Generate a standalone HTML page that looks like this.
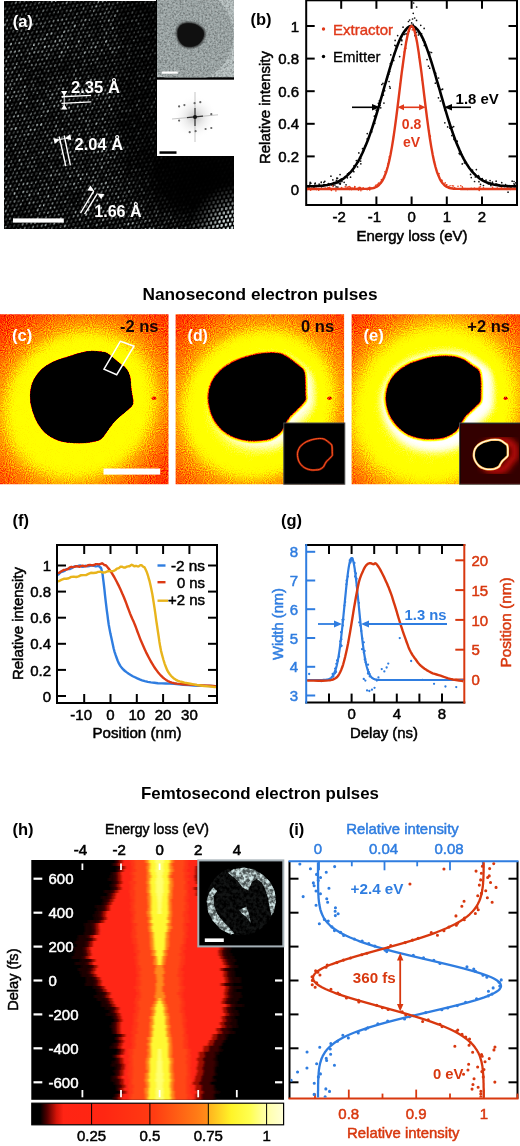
<!DOCTYPE html>
<html><head><meta charset="utf-8"><title>Figure</title>
<style>
html,body{margin:0;padding:0;background:#fff;}
svg{display:block;position:absolute;left:0;top:0;font-family:"Liberation Sans", sans-serif;}
</style></head><body>
<svg width="520" height="1146" viewBox="0 0 520 1146">
<defs>
<pattern id="lat" width="4.3" height="8" patternUnits="userSpaceOnUse" patternTransform="rotate(-9) skewX(-10)">
<rect width="4.3" height="8" fill="#040404"/>
<ellipse cx="1.1" cy="1.3" rx="0.95" ry="1.45" fill="#c0cccc" transform="rotate(25 1.1 1.3)"/>
<ellipse cx="3.25" cy="5.3" rx="0.95" ry="1.45" fill="#c0cccc" transform="rotate(25 3.25 5.3)"/>
</pattern>
<pattern id="lat2" width="4.3" height="8" patternUnits="userSpaceOnUse" patternTransform="rotate(-9) skewX(-10)">
<ellipse cx="1.1" cy="1.3" rx="1.35" ry="1.5" fill="#e8f4f4"/>
<ellipse cx="3.25" cy="5.3" rx="1.35" ry="1.5" fill="#e8f4f4"/>
</pattern>
<clipPath id="clipA"><rect x="4" y="1" width="230" height="228"/></clipPath>
<filter id="modA" x="0" y="0" width="100%" height="100%" color-interpolation-filters="sRGB">
<feTurbulence type="fractalNoise" baseFrequency="0.035" numOctaves="2" seed="5" result="n"/>
<feColorMatrix in="n" type="matrix" values="0 0 0 0 0  0 0 0 0 0  0 0 0 0 0  1.6 0 0 0 -0.45"/>
</filter>
<filter id="fineA" x="0" y="0" width="100%" height="100%" color-interpolation-filters="sRGB">
<feTurbulence type="fractalNoise" baseFrequency="0.22" numOctaves="2" seed="2" result="n"/>
<feColorMatrix in="n" type="matrix" values="0 0 0 0 0  0 0 0 0 0  0 0 0 0 0  0 3.4 0 0 -0.95"/>
</filter>
<radialGradient id="darkA" cx="203" cy="176" r="72" gradientUnits="userSpaceOnUse" gradientTransform="translate(203 176) scale(1.15 0.8) translate(-203 -176)">
<stop offset="0" stop-color="#000" stop-opacity="1"/><stop offset="0.55" stop-color="#000" stop-opacity="0.92"/><stop offset="1" stop-color="#000" stop-opacity="0"/>
</radialGradient>
<radialGradient id="brA" cx="238" cy="233" r="50" gradientUnits="userSpaceOnUse">
<stop offset="0" stop-color="#fff" stop-opacity="1"/><stop offset="0.4" stop-color="#fff" stop-opacity="0.85"/><stop offset="0.7" stop-color="#fff" stop-opacity="0.3"/><stop offset="1" stop-color="#fff" stop-opacity="0"/>
</radialGradient>
<mask id="mBrA"><rect x="150" y="150" width="90" height="90" fill="url(#brA)"/></mask>
<filter id="tem" x="0" y="0" width="100%" height="100%" color-interpolation-filters="sRGB">
<feTurbulence type="fractalNoise" baseFrequency="0.55" numOctaves="2" seed="11" result="n"/>
<feColorMatrix in="n" type="matrix" values="0 0 0 0 0  0 0 0 0 0  0 0 0 0 0  0 2.2 0 0 -0.85"/>
</filter>
<filter id="tem2" x="0" y="0" width="100%" height="100%" color-interpolation-filters="sRGB">
<feTurbulence type="fractalNoise" baseFrequency="0.5" numOctaves="2" seed="23" result="n"/>
<feColorMatrix in="n" type="matrix" values="0 0 0 0 1  0 0 0 0 1  0 0 0 0 1  0 2.2 0 0 -0.85"/>
</filter>
<clipPath id="clipT"><rect x="157" y="0" width="77" height="77.5"/></clipPath>
<filter id="blur1"><feGaussianBlur stdDeviation="0.8"/></filter>
<filter id="blur2"><feGaussianBlur stdDeviation="2"/></filter>
<radialGradient id="fftg" cx="195" cy="117" r="22" gradientUnits="userSpaceOnUse">
<stop offset="0" stop-color="#888" stop-opacity="0.55"/><stop offset="0.4" stop-color="#aaa" stop-opacity="0.25"/><stop offset="1" stop-color="#fff" stop-opacity="0"/>
</radialGradient>

<filter id="hot" x="0" y="0" width="100%" height="100%" color-interpolation-filters="sRGB">
<feTurbulence type="fractalNoise" baseFrequency="0.95" numOctaves="1" seed="4" result="n"/>
<feColorMatrix in="n" type="matrix" values="2.2 0 0 0 -0.6  2.2 0 0 0 -0.6  2.2 0 0 0 -0.6  0 0 0 0 1" result="ng"/>
<feComposite in="SourceGraphic" in2="ng" operator="arithmetic" k1="-0.46" k2="1.23" k3="0.46" k4="-0.23" result="s"/>
<feComponentTransfer in="s">
<feFuncR type="table" tableValues="0.000 0.147 0.294 0.441 0.588 0.735 0.882 1.000 1.000 1.000 1.000 1.000 1.000 1.000 1.000 1.000 1.000 1.000 1.000 1.000 1.000"/>
<feFuncG type="table" tableValues="0.000 0.000 0.000 0.000 0.000 0.000 0.000 0.000 0.135 0.270 0.405 0.541 0.676 0.811 0.946 1.000 1.000 1.000 1.000 1.000 1.000"/>
<feFuncB type="table" tableValues="0.000 0.000 0.000 0.000 0.000 0.000 0.000 0.000 0.000 0.000 0.000 0.000 0.000 0.000 0.000 0.000 0.000 0.000 0.286 0.643 1.000"/>
</feComponentTransfer>
</filter>
<filter id="bl3"><feGaussianBlur stdDeviation="3"/></filter>
<filter id="bl4" x="-30%" y="-30%" width="160%" height="160%"><feGaussianBlur stdDeviation="3.8"/></filter>
<filter id="bl15"><feGaussianBlur stdDeviation="1.3"/></filter>
<filter id="bl07"><feGaussianBlur stdDeviation="0.7"/></filter>
<filter id="bl04"><feGaussianBlur stdDeviation="0.45"/></filter>
<filter id="bl5" x="-30%" y="-30%" width="160%" height="160%"><feGaussianBlur stdDeviation="5"/></filter>

<radialGradient id="gc" cx="80" cy="405.2" r="140.0" gradientUnits="userSpaceOnUse" gradientTransform="rotate(-38 80 405.2) translate(80 405.2) scale(1.07 0.97) translate(-80 -405.2)"><stop offset="0.000" stop-color="#c4c4c4"/><stop offset="0.357" stop-color="#c4c4c4"/><stop offset="0.414" stop-color="#c3c3c3"/><stop offset="0.457" stop-color="#bdbdbd"/><stop offset="0.500" stop-color="#afafaf"/><stop offset="0.571" stop-color="#949494"/><stop offset="0.657" stop-color="#828282"/><stop offset="0.750" stop-color="#747474"/><stop offset="0.857" stop-color="#6a6a6a"/><stop offset="0.964" stop-color="#656565"/></radialGradient>
<clipPath id="cpc"><rect x="0" y="314.2" width="168.5" height="170"/></clipPath>
<radialGradient id="gd" cx="258.6" cy="404.2" r="140.0" gradientUnits="userSpaceOnUse" gradientTransform="rotate(-38 258.6 404.2) translate(258.6 404.2) scale(1.07 0.97) translate(-258.6 -404.2)"><stop offset="0.000" stop-color="#dbdbdb"/><stop offset="0.357" stop-color="#dbdbdb"/><stop offset="0.400" stop-color="#d1d1d1"/><stop offset="0.443" stop-color="#c6c6c6"/><stop offset="0.486" stop-color="#bababa"/><stop offset="0.529" stop-color="#a7a7a7"/><stop offset="0.571" stop-color="#969696"/><stop offset="0.657" stop-color="#858585"/><stop offset="0.757" stop-color="#777777"/><stop offset="0.857" stop-color="#6e6e6e"/><stop offset="0.986" stop-color="#676767"/></radialGradient>
<clipPath id="cpd"><rect x="175.6" y="314.2" width="168.5" height="170"/></clipPath>
<radialGradient id="ge" cx="434.6" cy="405.2" r="140.0" gradientUnits="userSpaceOnUse" gradientTransform="rotate(-38 434.6 405.2) translate(434.6 405.2) scale(1.07 0.97) translate(-434.6 -405.2)"><stop offset="0.000" stop-color="#dbdbdb"/><stop offset="0.357" stop-color="#dbdbdb"/><stop offset="0.414" stop-color="#d6d6d6"/><stop offset="0.457" stop-color="#cccccc"/><stop offset="0.514" stop-color="#bbbbbb"/><stop offset="0.557" stop-color="#acacac"/><stop offset="0.600" stop-color="#9d9d9d"/><stop offset="0.679" stop-color="#888888"/><stop offset="0.786" stop-color="#787878"/><stop offset="0.893" stop-color="#6e6e6e"/><stop offset="1.000" stop-color="#676767"/></radialGradient>
<clipPath id="cpe"><rect x="351.6" y="314.2" width="168.4" height="170"/></clipPath>
<clipPath id="clipH"><rect x="31.3" y="860" width="252.7" height="239.8"/></clipPath>
<filter id="hblur" x="-5%" y="-5%" width="110%" height="110%"><feGaussianBlur stdDeviation="1.0 0.45"/></filter>
<filter id="part" x="0" y="0" width="100%" height="100%" color-interpolation-filters="sRGB">
<feTurbulence type="fractalNoise" baseFrequency="0.3" numOctaves="2" seed="8" result="n"/>
<feColorMatrix in="n" type="matrix" values="0 0 0 0 0.82  0 0 0 0 0.9  0 0 0 0 0.9  0 3.0 0 0 -1.0"/>
</filter>
<clipPath id="clipP"><path d="M228 872.7 L233.2 869.2 L244.5 867.5 L254.8 870.1 L263.5 875.3 L270.4 882.2 L274.7 890.9 L276 901.3 L273.9 911.7 L271.5 915.5 L269.7 908.2 L268 897.8 L265.2 889.2 L261.8 882.6 L256.6 878.8 L251.7 882.2 L248.3 890.5 L242.7 887.4 L237.5 880.5 L232.3 876.2 Z M213.3 887.4 L209 892.6 L206.7 901.3 L208.1 911.7 L212.4 920.3 L220.2 929 L230.6 934.5 L234.4 933.5 L228.9 927.2 L222 920.3 L217.1 913.4 L213.7 904.7 L213.7 896.1 L217.1 890.9 Z M239.3 909.9 L246.2 906.5 L248.8 913.4 L250.7 923.1 L246.2 916.8 L241.9 913.4 Z"/></clipPath>
<clipPath id="clipDisc"><circle cx="240.8" cy="900.8" r="34.5"/></clipPath>
<linearGradient id="cbg" x1="31.8" x2="283.6" y1="0" y2="0" gradientUnits="userSpaceOnUse"><stop offset="0.0056" stop-color="#000"/><stop offset="0.0333" stop-color="#000"/><stop offset="0.0611" stop-color="#500"/><stop offset="0.0981" stop-color="#d41408"/><stop offset="0.1258" stop-color="#ff2414"/><stop offset="0.2831" stop-color="#ff2612"/><stop offset="0.4866" stop-color="#ff3c12"/><stop offset="0.6531" stop-color="#ff7a16"/><stop offset="0.6947" stop-color="#ff8c18"/><stop offset="0.7040" stop-color="#ffb41e"/><stop offset="0.7919" stop-color="#fff428"/><stop offset="0.8659" stop-color="#ffff50"/><stop offset="0.9214" stop-color="#ffffa0"/><stop offset="1.0000" stop-color="#ffffd8"/></linearGradient>
</defs>
<g id="panelA"><g clip-path="url(#clipA)">
<rect x="4" y="1" width="230" height="228" fill="url(#lat)"/>
<rect x="4" y="1" width="230" height="228" fill="#000" filter="url(#modA)" opacity="0.55"/>
<rect x="4" y="1" width="230" height="228" fill="#000" filter="url(#fineA)" opacity="0.7"/>
<rect x="110" y="90" width="130" height="140" fill="url(#darkA)"/>
<rect x="118" y="-5" width="42" height="170" fill="#000" opacity="0.5" filter="url(#bl5)"/>
<rect x="150" y="150" width="90" height="90" fill="url(#lat2)" mask="url(#mBrA)"/>
</g>
<rect x="156" y="0" width="78" height="156.5" fill="#000"/>
<g clip-path="url(#clipT)">
<rect x="157" y="0" width="77" height="77.5" fill="#b8c2c2"/>
<circle cx="186" cy="35" r="47.5" fill="#9ca6a6"/>
<rect x="157" y="0" width="77" height="77.5" fill="#000" filter="url(#tem)" opacity="0.32"/>
<rect x="157" y="0" width="77" height="77.5" filter="url(#tem2)" opacity="0.28"/>
<path d="M176.5 33 C176.5 26 181 22.3 187 22.3 C193 22 198 23.5 201.5 27 C205.5 30 206 35 203.5 39.5 C201 45 196 48 189 47.8 C181 47.5 176.5 41 176.5 33 Z" fill="#141414" filter="url(#blur1)"/>
<path d="M177.5 33 C177.5 27 181.5 23.3 187 23.3 C193 23 197.5 24.5 200.5 27.5 C204.5 30.5 205 35 202.5 39 C200 44 196 47 189 46.8 C182 46.5 177.5 41 177.5 33 Z" fill="#101010"/>
<rect x="161.8" y="71.5" width="16" height="2.2" fill="#fff"/>
</g>
<rect x="157" y="79.7" width="77" height="76.3" fill="#fff"/>
<circle cx="195" cy="117" r="22" fill="url(#fftg)"/>
<g stroke="#999" stroke-width="0.7" opacity="0.8"><line x1="195" y1="92" x2="195" y2="142"/><line x1="172" y1="119" x2="218" y2="114.8"/></g>
<g stroke="#333" stroke-width="1.2"><line x1="195" y1="108" x2="195" y2="126"/><line x1="187" y1="117.6" x2="203" y2="116.2"/></g>
<circle cx="195" cy="116.9" r="2" fill="#111"/>
<path d="M178 106.4a1.1 1.1 0 1 0 2.2 0a1.1 1.1 0 1 0 -2.2 0M183.3 105.1a1.1 1.1 0 1 0 2.2 0a1.1 1.1 0 1 0 -2.2 0M193.5 103.2a1.1 1.1 0 1 0 2.2 0a1.1 1.1 0 1 0 -2.2 0M199.2 102.2a1.1 1.1 0 1 0 2.2 0a1.1 1.1 0 1 0 -2.2 0M210.2 114.2a1.1 1.1 0 1 0 2.2 0a1.1 1.1 0 1 0 -2.2 0M178 120.6a1.1 1.1 0 1 0 2.2 0a1.1 1.1 0 1 0 -2.2 0M188.6 132.2a1.1 1.1 0 1 0 2.2 0a1.1 1.1 0 1 0 -2.2 0M194.5 131.2a1.1 1.1 0 1 0 2.2 0a1.1 1.1 0 1 0 -2.2 0M204.5 129a1.1 1.1 0 1 0 2.2 0a1.1 1.1 0 1 0 -2.2 0M210.2 128a1.1 1.1 0 1 0 2.2 0a1.1 1.1 0 1 0 -2.2 0" fill="#666"/>
<rect x="159.5" y="151.3" width="17" height="2.5" fill="#000"/>
<text x="12.7" y="27.3" font-size="16.5" text-anchor="start" fill="#fff" font-weight="bold" >(a)</text>
<g stroke="#fff" stroke-width="1.4" fill="#fff">
<line x1="61.5" y1="96.7" x2="91" y2="95.4"/><line x1="61.5" y1="103.4" x2="91.3" y2="101.9"/>
<line x1="64.2" y1="93" x2="64.2" y2="108" stroke-width="1"/>
<line x1="59.2" y1="136.5" x2="65.8" y2="166.2"/><line x1="64.2" y1="135.5" x2="70.4" y2="165.3"/>
<line x1="59.9" y1="139.5" x2="64.9" y2="138.6" stroke-width="1"/>
<line x1="93.8" y1="190.8" x2="80.5" y2="213.1"/><line x1="97.4" y1="193.5" x2="84.6" y2="214.2"/>
</g>
<path d="M64.2 96 L61 91 L67.4 91 Z" fill="#fff"/>
<path d="M64.2 104.4 L67.4 109.4 L61 109.4 Z" fill="#fff"/>
<path d="M60.1 139.5 L54.7 143.8 L53.4 137.9 Z" fill="#fff"/>
<path d="M64.7 138.6 L70.1 134.3 L71.4 140.2 Z" fill="#fff"/>
<path d="M94.2 191.1 L87.3 190.5 L90.4 185.4 Z" fill="#fff"/>
<path d="M97.4 193.5 L104.3 194.1 L101.2 199.2 Z" fill="#fff"/>
<text x="71" y="93" font-size="16.5" text-anchor="start" fill="#fff" font-weight="bold" textLength="49" lengthAdjust="spacingAndGlyphs" >2.35 Å</text>
<text x="74.6" y="149.6" font-size="16.5" text-anchor="start" fill="#fff" font-weight="bold" textLength="48.5" lengthAdjust="spacingAndGlyphs" >2.04 Å</text>
<text x="94.2" y="216.5" font-size="16.5" text-anchor="start" fill="#fff" font-weight="bold" textLength="47.5" lengthAdjust="spacingAndGlyphs" >1.66 Å</text>
<rect x="13" y="218.4" width="50.8" height="4.2" fill="#fff"/></g>
<g id="panelB"><rect x="306.2" y="0.3" width="210.8" height="204.7" fill="none" stroke="#000" stroke-width="2"/>
<line x1="341.2" y1="205" x2="341.2" y2="196.5" stroke="#000" stroke-width="2" />
<line x1="341.2" y1="0.3" x2="341.2" y2="8.8" stroke="#000" stroke-width="2" />
<line x1="376.4" y1="205" x2="376.4" y2="196.5" stroke="#000" stroke-width="2" />
<line x1="376.4" y1="0.3" x2="376.4" y2="8.8" stroke="#000" stroke-width="2" />
<line x1="411.6" y1="205" x2="411.6" y2="196.5" stroke="#000" stroke-width="2" />
<line x1="411.6" y1="0.3" x2="411.6" y2="8.8" stroke="#000" stroke-width="2" />
<line x1="446.8" y1="205" x2="446.8" y2="196.5" stroke="#000" stroke-width="2" />
<line x1="446.8" y1="0.3" x2="446.8" y2="8.8" stroke="#000" stroke-width="2" />
<line x1="482" y1="205" x2="482" y2="196.5" stroke="#000" stroke-width="2" />
<line x1="482" y1="0.3" x2="482" y2="8.8" stroke="#000" stroke-width="2" />
<line x1="306.2" y1="189" x2="314.7" y2="189" stroke="#000" stroke-width="2" />
<line x1="517" y1="189" x2="508.5" y2="189" stroke="#000" stroke-width="2" />
<text x="299" y="194.6" font-size="15" text-anchor="end" fill="#000" stroke="#000" stroke-width="0.5" >0</text>
<line x1="306.2" y1="156.4" x2="314.7" y2="156.4" stroke="#000" stroke-width="2" />
<line x1="517" y1="156.4" x2="508.5" y2="156.4" stroke="#000" stroke-width="2" />
<text x="299" y="162" font-size="15" text-anchor="end" fill="#000" stroke="#000" stroke-width="0.5" >0.2</text>
<line x1="306.2" y1="123.8" x2="314.7" y2="123.8" stroke="#000" stroke-width="2" />
<line x1="517" y1="123.8" x2="508.5" y2="123.8" stroke="#000" stroke-width="2" />
<text x="299" y="129.4" font-size="15" text-anchor="end" fill="#000" stroke="#000" stroke-width="0.5" >0.4</text>
<line x1="306.2" y1="91.2" x2="314.7" y2="91.2" stroke="#000" stroke-width="2" />
<line x1="517" y1="91.2" x2="508.5" y2="91.2" stroke="#000" stroke-width="2" />
<text x="299" y="96.8" font-size="15" text-anchor="end" fill="#000" stroke="#000" stroke-width="0.5" >0.6</text>
<line x1="306.2" y1="58.6" x2="314.7" y2="58.6" stroke="#000" stroke-width="2" />
<line x1="517" y1="58.6" x2="508.5" y2="58.6" stroke="#000" stroke-width="2" />
<text x="299" y="64.2" font-size="15" text-anchor="end" fill="#000" stroke="#000" stroke-width="0.5" >0.8</text>
<line x1="306.2" y1="26" x2="314.7" y2="26" stroke="#000" stroke-width="2" />
<line x1="517" y1="26" x2="508.5" y2="26" stroke="#000" stroke-width="2" />
<text x="299" y="31.6" font-size="15" text-anchor="end" fill="#000" stroke="#000" stroke-width="0.5" >1</text>
<text x="339.2" y="222.3" font-size="15" text-anchor="middle" fill="#000" stroke="#000" stroke-width="0.5" >-2</text>
<text x="374.4" y="222.3" font-size="15" text-anchor="middle" fill="#000" stroke="#000" stroke-width="0.5" >-1</text>
<text x="411.6" y="222.3" font-size="15" text-anchor="middle" fill="#000" stroke="#000" stroke-width="0.5" >0</text>
<text x="446.8" y="222.3" font-size="15" text-anchor="middle" fill="#000" stroke="#000" stroke-width="0.5" >1</text>
<text x="482" y="222.3" font-size="15" text-anchor="middle" fill="#000" stroke="#000" stroke-width="0.5" >2</text>
<text x="412" y="241" font-size="15" text-anchor="middle" fill="#000" stroke="#000" stroke-width="0.5" textLength="111" lengthAdjust="spacingAndGlyphs" >Energy loss (eV)</text>
<text x="269.5" y="164" font-size="15" text-anchor="start" fill="#000" stroke="#000" stroke-width="0.5" transform="rotate(-90 269.5 164)" textLength="113" lengthAdjust="spacingAndGlyphs" >Relative intensity</text>
<text x="250.5" y="25" font-size="16.5" text-anchor="start" fill="#000" font-weight="bold" >(b)</text>
<clipPath id="clipB"><rect x="307" y="1" width="209" height="203"/></clipPath><g clip-path="url(#clipB)">
<path d="M373.5 116.2a0.85 0.85 0 1 0 1.7 0a0.85 0.85 0 1 0 -1.7 0M320.4 182.5a0.85 0.85 0 1 0 1.7 0a0.85 0.85 0 1 0 -1.7 0M418.3 33.6a0.85 0.85 0 1 0 1.7 0a0.85 0.85 0 1 0 -1.7 0M412.3 24.3a0.85 0.85 0 1 0 1.7 0a0.85 0.85 0 1 0 -1.7 0M313.1 187.2a0.85 0.85 0 1 0 1.7 0a0.85 0.85 0 1 0 -1.7 0M324.3 184.8a0.85 0.85 0 1 0 1.7 0a0.85 0.85 0 1 0 -1.7 0M394.8 48.6a0.85 0.85 0 1 0 1.7 0a0.85 0.85 0 1 0 -1.7 0M352.3 170.7a0.85 0.85 0 1 0 1.7 0a0.85 0.85 0 1 0 -1.7 0M437.7 78a0.85 0.85 0 1 0 1.7 0a0.85 0.85 0 1 0 -1.7 0M388.9 71.5a0.85 0.85 0 1 0 1.7 0a0.85 0.85 0 1 0 -1.7 0M511.3 181.2a0.85 0.85 0 1 0 1.7 0a0.85 0.85 0 1 0 -1.7 0M366.3 138.9a0.85 0.85 0 1 0 1.7 0a0.85 0.85 0 1 0 -1.7 0M335.6 180.4a0.85 0.85 0 1 0 1.7 0a0.85 0.85 0 1 0 -1.7 0M477.5 175.6a0.85 0.85 0 1 0 1.7 0a0.85 0.85 0 1 0 -1.7 0M343.3 182.3a0.85 0.85 0 1 0 1.7 0a0.85 0.85 0 1 0 -1.7 0M383.8 90.7a0.85 0.85 0 1 0 1.7 0a0.85 0.85 0 1 0 -1.7 0M420.8 33.8a0.85 0.85 0 1 0 1.7 0a0.85 0.85 0 1 0 -1.7 0M348.6 172.8a0.85 0.85 0 1 0 1.7 0a0.85 0.85 0 1 0 -1.7 0M448.9 128.1a0.85 0.85 0 1 0 1.7 0a0.85 0.85 0 1 0 -1.7 0M428.8 53.9a0.85 0.85 0 1 0 1.7 0a0.85 0.85 0 1 0 -1.7 0M400.9 39.9a0.85 0.85 0 1 0 1.7 0a0.85 0.85 0 1 0 -1.7 0M452.8 126.5a0.85 0.85 0 1 0 1.7 0a0.85 0.85 0 1 0 -1.7 0M356.7 166.9a0.85 0.85 0 1 0 1.7 0a0.85 0.85 0 1 0 -1.7 0M490 185.4a0.85 0.85 0 1 0 1.7 0a0.85 0.85 0 1 0 -1.7 0M459.2 154.5a0.85 0.85 0 1 0 1.7 0a0.85 0.85 0 1 0 -1.7 0M330.1 176.2a0.85 0.85 0 1 0 1.7 0a0.85 0.85 0 1 0 -1.7 0M393.5 54.1a0.85 0.85 0 1 0 1.7 0a0.85 0.85 0 1 0 -1.7 0M408.4 31a0.85 0.85 0 1 0 1.7 0a0.85 0.85 0 1 0 -1.7 0M313.4 188.5a0.85 0.85 0 1 0 1.7 0a0.85 0.85 0 1 0 -1.7 0M426.2 59.6a0.85 0.85 0 1 0 1.7 0a0.85 0.85 0 1 0 -1.7 0M490.1 185.6a0.85 0.85 0 1 0 1.7 0a0.85 0.85 0 1 0 -1.7 0M430.7 52.5a0.85 0.85 0 1 0 1.7 0a0.85 0.85 0 1 0 -1.7 0M427.6 66.2a0.85 0.85 0 1 0 1.7 0a0.85 0.85 0 1 0 -1.7 0M504.7 184.6a0.85 0.85 0 1 0 1.7 0a0.85 0.85 0 1 0 -1.7 0M405.3 30.5a0.85 0.85 0 1 0 1.7 0a0.85 0.85 0 1 0 -1.7 0M453.3 138.4a0.85 0.85 0 1 0 1.7 0a0.85 0.85 0 1 0 -1.7 0M441.8 89.1a0.85 0.85 0 1 0 1.7 0a0.85 0.85 0 1 0 -1.7 0M365.3 144.9a0.85 0.85 0 1 0 1.7 0a0.85 0.85 0 1 0 -1.7 0M386.6 77.1a0.85 0.85 0 1 0 1.7 0a0.85 0.85 0 1 0 -1.7 0M402.7 34.1a0.85 0.85 0 1 0 1.7 0a0.85 0.85 0 1 0 -1.7 0M340.6 179a0.85 0.85 0 1 0 1.7 0a0.85 0.85 0 1 0 -1.7 0M467.4 165.5a0.85 0.85 0 1 0 1.7 0a0.85 0.85 0 1 0 -1.7 0M332.5 183.5a0.85 0.85 0 1 0 1.7 0a0.85 0.85 0 1 0 -1.7 0M489.2 180.6a0.85 0.85 0 1 0 1.7 0a0.85 0.85 0 1 0 -1.7 0M322.2 188.9a0.85 0.85 0 1 0 1.7 0a0.85 0.85 0 1 0 -1.7 0M491.7 183.1a0.85 0.85 0 1 0 1.7 0a0.85 0.85 0 1 0 -1.7 0M478.2 176.3a0.85 0.85 0 1 0 1.7 0a0.85 0.85 0 1 0 -1.7 0M392.9 60.4a0.85 0.85 0 1 0 1.7 0a0.85 0.85 0 1 0 -1.7 0M380.9 84.5a0.85 0.85 0 1 0 1.7 0a0.85 0.85 0 1 0 -1.7 0M337 187.1a0.85 0.85 0 1 0 1.7 0a0.85 0.85 0 1 0 -1.7 0M342.4 178.5a0.85 0.85 0 1 0 1.7 0a0.85 0.85 0 1 0 -1.7 0M407.6 21.5a0.85 0.85 0 1 0 1.7 0a0.85 0.85 0 1 0 -1.7 0M429.6 58.9a0.85 0.85 0 1 0 1.7 0a0.85 0.85 0 1 0 -1.7 0M393.6 53.1a0.85 0.85 0 1 0 1.7 0a0.85 0.85 0 1 0 -1.7 0M383.1 103.1a0.85 0.85 0 1 0 1.7 0a0.85 0.85 0 1 0 -1.7 0M451 135.6a0.85 0.85 0 1 0 1.7 0a0.85 0.85 0 1 0 -1.7 0M414 35.6a0.85 0.85 0 1 0 1.7 0a0.85 0.85 0 1 0 -1.7 0M316.6 188.8a0.85 0.85 0 1 0 1.7 0a0.85 0.85 0 1 0 -1.7 0M495.1 183.9a0.85 0.85 0 1 0 1.7 0a0.85 0.85 0 1 0 -1.7 0M473.7 181.5a0.85 0.85 0 1 0 1.7 0a0.85 0.85 0 1 0 -1.7 0M388 74.2a0.85 0.85 0 1 0 1.7 0a0.85 0.85 0 1 0 -1.7 0M439.1 89.4a0.85 0.85 0 1 0 1.7 0a0.85 0.85 0 1 0 -1.7 0M318.3 184.2a0.85 0.85 0 1 0 1.7 0a0.85 0.85 0 1 0 -1.7 0M339.4 179.7a0.85 0.85 0 1 0 1.7 0a0.85 0.85 0 1 0 -1.7 0M377 109.7a0.85 0.85 0 1 0 1.7 0a0.85 0.85 0 1 0 -1.7 0M337.1 181.7a0.85 0.85 0 1 0 1.7 0a0.85 0.85 0 1 0 -1.7 0M326.6 185.3a0.85 0.85 0 1 0 1.7 0a0.85 0.85 0 1 0 -1.7 0M489.8 183.2a0.85 0.85 0 1 0 1.7 0a0.85 0.85 0 1 0 -1.7 0M434.8 73.2a0.85 0.85 0 1 0 1.7 0a0.85 0.85 0 1 0 -1.7 0M378.5 100.8a0.85 0.85 0 1 0 1.7 0a0.85 0.85 0 1 0 -1.7 0M382.1 83.4a0.85 0.85 0 1 0 1.7 0a0.85 0.85 0 1 0 -1.7 0M514.9 182.8a0.85 0.85 0 1 0 1.7 0a0.85 0.85 0 1 0 -1.7 0M403.6 34.5a0.85 0.85 0 1 0 1.7 0a0.85 0.85 0 1 0 -1.7 0M326.7 184.8a0.85 0.85 0 1 0 1.7 0a0.85 0.85 0 1 0 -1.7 0M377.5 109a0.85 0.85 0 1 0 1.7 0a0.85 0.85 0 1 0 -1.7 0M339.2 174.6a0.85 0.85 0 1 0 1.7 0a0.85 0.85 0 1 0 -1.7 0M310 183.2a0.85 0.85 0 1 0 1.7 0a0.85 0.85 0 1 0 -1.7 0M336.1 183.3a0.85 0.85 0 1 0 1.7 0a0.85 0.85 0 1 0 -1.7 0M419.9 25.3a0.85 0.85 0 1 0 1.7 0a0.85 0.85 0 1 0 -1.7 0M511.8 185.8a0.85 0.85 0 1 0 1.7 0a0.85 0.85 0 1 0 -1.7 0M487.5 183.8a0.85 0.85 0 1 0 1.7 0a0.85 0.85 0 1 0 -1.7 0M382.6 95.1a0.85 0.85 0 1 0 1.7 0a0.85 0.85 0 1 0 -1.7 0M340.4 179.4a0.85 0.85 0 1 0 1.7 0a0.85 0.85 0 1 0 -1.7 0M469.7 174.4a0.85 0.85 0 1 0 1.7 0a0.85 0.85 0 1 0 -1.7 0M374.8 115.3a0.85 0.85 0 1 0 1.7 0a0.85 0.85 0 1 0 -1.7 0M513.2 181.5a0.85 0.85 0 1 0 1.7 0a0.85 0.85 0 1 0 -1.7 0M485.2 180.1a0.85 0.85 0 1 0 1.7 0a0.85 0.85 0 1 0 -1.7 0M461.4 163.9a0.85 0.85 0 1 0 1.7 0a0.85 0.85 0 1 0 -1.7 0M353 171.7a0.85 0.85 0 1 0 1.7 0a0.85 0.85 0 1 0 -1.7 0M311.3 186.6a0.85 0.85 0 1 0 1.7 0a0.85 0.85 0 1 0 -1.7 0M311.1 186.7a0.85 0.85 0 1 0 1.7 0a0.85 0.85 0 1 0 -1.7 0M451.4 127.4a0.85 0.85 0 1 0 1.7 0a0.85 0.85 0 1 0 -1.7 0M507.2 192.2a0.85 0.85 0 1 0 1.7 0a0.85 0.85 0 1 0 -1.7 0M513.8 184.3a0.85 0.85 0 1 0 1.7 0a0.85 0.85 0 1 0 -1.7 0M506.8 187.4a0.85 0.85 0 1 0 1.7 0a0.85 0.85 0 1 0 -1.7 0M353.1 165.8a0.85 0.85 0 1 0 1.7 0a0.85 0.85 0 1 0 -1.7 0M346.7 173.8a0.85 0.85 0 1 0 1.7 0a0.85 0.85 0 1 0 -1.7 0M495.3 181.2a0.85 0.85 0 1 0 1.7 0a0.85 0.85 0 1 0 -1.7 0M482.6 185.5a0.85 0.85 0 1 0 1.7 0a0.85 0.85 0 1 0 -1.7 0M474 173.8a0.85 0.85 0 1 0 1.7 0a0.85 0.85 0 1 0 -1.7 0M323.1 188.7a0.85 0.85 0 1 0 1.7 0a0.85 0.85 0 1 0 -1.7 0M470.4 177.6a0.85 0.85 0 1 0 1.7 0a0.85 0.85 0 1 0 -1.7 0M463.6 162.9a0.85 0.85 0 1 0 1.7 0a0.85 0.85 0 1 0 -1.7 0M471.8 171.8a0.85 0.85 0 1 0 1.7 0a0.85 0.85 0 1 0 -1.7 0M375.4 110.2a0.85 0.85 0 1 0 1.7 0a0.85 0.85 0 1 0 -1.7 0M388.8 86.5a0.85 0.85 0 1 0 1.7 0a0.85 0.85 0 1 0 -1.7 0M389.9 54.8a0.85 0.85 0 1 0 1.7 0a0.85 0.85 0 1 0 -1.7 0M341.1 181.4a0.85 0.85 0 1 0 1.7 0a0.85 0.85 0 1 0 -1.7 0M332 179.9a0.85 0.85 0 1 0 1.7 0a0.85 0.85 0 1 0 -1.7 0M475.5 169.6a0.85 0.85 0 1 0 1.7 0a0.85 0.85 0 1 0 -1.7 0M336 178.2a0.85 0.85 0 1 0 1.7 0a0.85 0.85 0 1 0 -1.7 0M444 122.8a0.85 0.85 0 1 0 1.7 0a0.85 0.85 0 1 0 -1.7 0M379.2 105.5a0.85 0.85 0 1 0 1.7 0a0.85 0.85 0 1 0 -1.7 0M308.2 186.8a0.85 0.85 0 1 0 1.7 0a0.85 0.85 0 1 0 -1.7 0M510.2 188.2a0.85 0.85 0 1 0 1.7 0a0.85 0.85 0 1 0 -1.7 0M502.3 188.6a0.85 0.85 0 1 0 1.7 0a0.85 0.85 0 1 0 -1.7 0M396.8 35.6a0.85 0.85 0 1 0 1.7 0a0.85 0.85 0 1 0 -1.7 0M349.7 177.2a0.85 0.85 0 1 0 1.7 0a0.85 0.85 0 1 0 -1.7 0M358.3 160.3a0.85 0.85 0 1 0 1.7 0a0.85 0.85 0 1 0 -1.7 0M429 52.1a0.85 0.85 0 1 0 1.7 0a0.85 0.85 0 1 0 -1.7 0M359.9 158.4a0.85 0.85 0 1 0 1.7 0a0.85 0.85 0 1 0 -1.7 0M497.3 184.6a0.85 0.85 0 1 0 1.7 0a0.85 0.85 0 1 0 -1.7 0M379.9 107.8a0.85 0.85 0 1 0 1.7 0a0.85 0.85 0 1 0 -1.7 0M496.1 184.1a0.85 0.85 0 1 0 1.7 0a0.85 0.85 0 1 0 -1.7 0M394 45.3a0.85 0.85 0 1 0 1.7 0a0.85 0.85 0 1 0 -1.7 0M417.5 35a0.85 0.85 0 1 0 1.7 0a0.85 0.85 0 1 0 -1.7 0M415.7 20.4a0.85 0.85 0 1 0 1.7 0a0.85 0.85 0 1 0 -1.7 0M343.8 177.3a0.85 0.85 0 1 0 1.7 0a0.85 0.85 0 1 0 -1.7 0M306 185.9a0.85 0.85 0 1 0 1.7 0a0.85 0.85 0 1 0 -1.7 0M405.2 33.7a0.85 0.85 0 1 0 1.7 0a0.85 0.85 0 1 0 -1.7 0M458.3 153.4a0.85 0.85 0 1 0 1.7 0a0.85 0.85 0 1 0 -1.7 0M414.6 29.9a0.85 0.85 0 1 0 1.7 0a0.85 0.85 0 1 0 -1.7 0M422.5 38.9a0.85 0.85 0 1 0 1.7 0a0.85 0.85 0 1 0 -1.7 0M423.5 45.4a0.85 0.85 0 1 0 1.7 0a0.85 0.85 0 1 0 -1.7 0M357.6 161.9a0.85 0.85 0 1 0 1.7 0a0.85 0.85 0 1 0 -1.7 0M412.4 13.3a0.85 0.85 0 1 0 1.7 0a0.85 0.85 0 1 0 -1.7 0M423.8 41.7a0.85 0.85 0 1 0 1.7 0a0.85 0.85 0 1 0 -1.7 0M398.8 56.6a0.85 0.85 0 1 0 1.7 0a0.85 0.85 0 1 0 -1.7 0M434.5 83.2a0.85 0.85 0 1 0 1.7 0a0.85 0.85 0 1 0 -1.7 0M451.5 131.8a0.85 0.85 0 1 0 1.7 0a0.85 0.85 0 1 0 -1.7 0M400.7 44.5a0.85 0.85 0 1 0 1.7 0a0.85 0.85 0 1 0 -1.7 0M504 186.6a0.85 0.85 0 1 0 1.7 0a0.85 0.85 0 1 0 -1.7 0M452.8 126.6a0.85 0.85 0 1 0 1.7 0a0.85 0.85 0 1 0 -1.7 0M360 163.8a0.85 0.85 0 1 0 1.7 0a0.85 0.85 0 1 0 -1.7 0M423.3 28.4a0.85 0.85 0 1 0 1.7 0a0.85 0.85 0 1 0 -1.7 0M334.1 185a0.85 0.85 0 1 0 1.7 0a0.85 0.85 0 1 0 -1.7 0M330.8 185a0.85 0.85 0 1 0 1.7 0a0.85 0.85 0 1 0 -1.7 0M356 162.9a0.85 0.85 0 1 0 1.7 0a0.85 0.85 0 1 0 -1.7 0M320.6 188.1a0.85 0.85 0 1 0 1.7 0a0.85 0.85 0 1 0 -1.7 0M494.6 189.2a0.85 0.85 0 1 0 1.7 0a0.85 0.85 0 1 0 -1.7 0M337.8 182.4a0.85 0.85 0 1 0 1.7 0a0.85 0.85 0 1 0 -1.7 0M335.3 186.9a0.85 0.85 0 1 0 1.7 0a0.85 0.85 0 1 0 -1.7 0M491.6 182.2a0.85 0.85 0 1 0 1.7 0a0.85 0.85 0 1 0 -1.7 0M506.3 186.5a0.85 0.85 0 1 0 1.7 0a0.85 0.85 0 1 0 -1.7 0M389.3 88.2a0.85 0.85 0 1 0 1.7 0a0.85 0.85 0 1 0 -1.7 0M481 179.1a0.85 0.85 0 1 0 1.7 0a0.85 0.85 0 1 0 -1.7 0M339.3 184.2a0.85 0.85 0 1 0 1.7 0a0.85 0.85 0 1 0 -1.7 0M376.8 107.5a0.85 0.85 0 1 0 1.7 0a0.85 0.85 0 1 0 -1.7 0M346.5 177.8a0.85 0.85 0 1 0 1.7 0a0.85 0.85 0 1 0 -1.7 0M309.3 182.4a0.85 0.85 0 1 0 1.7 0a0.85 0.85 0 1 0 -1.7 0M422.2 40.3a0.85 0.85 0 1 0 1.7 0a0.85 0.85 0 1 0 -1.7 0M375.2 115.4a0.85 0.85 0 1 0 1.7 0a0.85 0.85 0 1 0 -1.7 0M436.9 85.8a0.85 0.85 0 1 0 1.7 0a0.85 0.85 0 1 0 -1.7 0M513.2 186.4a0.85 0.85 0 1 0 1.7 0a0.85 0.85 0 1 0 -1.7 0M471.7 170.2a0.85 0.85 0 1 0 1.7 0a0.85 0.85 0 1 0 -1.7 0M361.2 154.1a0.85 0.85 0 1 0 1.7 0a0.85 0.85 0 1 0 -1.7 0M313.5 185.8a0.85 0.85 0 1 0 1.7 0a0.85 0.85 0 1 0 -1.7 0M332.5 185.8a0.85 0.85 0 1 0 1.7 0a0.85 0.85 0 1 0 -1.7 0M394.3 40.4a0.85 0.85 0 1 0 1.7 0a0.85 0.85 0 1 0 -1.7 0M359.8 161.1a0.85 0.85 0 1 0 1.7 0a0.85 0.85 0 1 0 -1.7 0M336.7 178.4a0.85 0.85 0 1 0 1.7 0a0.85 0.85 0 1 0 -1.7 0M453.1 139.5a0.85 0.85 0 1 0 1.7 0a0.85 0.85 0 1 0 -1.7 0M324 181.3a0.85 0.85 0 1 0 1.7 0a0.85 0.85 0 1 0 -1.7 0M395 46a0.85 0.85 0 1 0 1.7 0a0.85 0.85 0 1 0 -1.7 0M320.4 182.1a0.85 0.85 0 1 0 1.7 0a0.85 0.85 0 1 0 -1.7 0M474.5 176.9a0.85 0.85 0 1 0 1.7 0a0.85 0.85 0 1 0 -1.7 0M322.8 184.8a0.85 0.85 0 1 0 1.7 0a0.85 0.85 0 1 0 -1.7 0M487.4 183.8a0.85 0.85 0 1 0 1.7 0a0.85 0.85 0 1 0 -1.7 0M401 40.7a0.85 0.85 0 1 0 1.7 0a0.85 0.85 0 1 0 -1.7 0M500.9 182.7a0.85 0.85 0 1 0 1.7 0a0.85 0.85 0 1 0 -1.7 0M361.7 148.7a0.85 0.85 0 1 0 1.7 0a0.85 0.85 0 1 0 -1.7 0M355.5 160.5a0.85 0.85 0 1 0 1.7 0a0.85 0.85 0 1 0 -1.7 0M328.3 184.1a0.85 0.85 0 1 0 1.7 0a0.85 0.85 0 1 0 -1.7 0M347.8 173.2a0.85 0.85 0 1 0 1.7 0a0.85 0.85 0 1 0 -1.7 0M371 131.8a0.85 0.85 0 1 0 1.7 0a0.85 0.85 0 1 0 -1.7 0M366.4 133.6a0.85 0.85 0 1 0 1.7 0a0.85 0.85 0 1 0 -1.7 0M410.8 22.9a0.85 0.85 0 1 0 1.7 0a0.85 0.85 0 1 0 -1.7 0M309 184.1a0.85 0.85 0 1 0 1.7 0a0.85 0.85 0 1 0 -1.7 0M358 152.9a0.85 0.85 0 1 0 1.7 0a0.85 0.85 0 1 0 -1.7 0M421.5 36.5a0.85 0.85 0 1 0 1.7 0a0.85 0.85 0 1 0 -1.7 0M345.2 184.8a0.85 0.85 0 1 0 1.7 0a0.85 0.85 0 1 0 -1.7 0M327.6 183.7a0.85 0.85 0 1 0 1.7 0a0.85 0.85 0 1 0 -1.7 0M478.1 181.7a0.85 0.85 0 1 0 1.7 0a0.85 0.85 0 1 0 -1.7 0M481.4 178.6a0.85 0.85 0 1 0 1.7 0a0.85 0.85 0 1 0 -1.7 0M388.2 81.5a0.85 0.85 0 1 0 1.7 0a0.85 0.85 0 1 0 -1.7 0M512.6 186.5a0.85 0.85 0 1 0 1.7 0a0.85 0.85 0 1 0 -1.7 0M377.5 103.3a0.85 0.85 0 1 0 1.7 0a0.85 0.85 0 1 0 -1.7 0M439.5 101a0.85 0.85 0 1 0 1.7 0a0.85 0.85 0 1 0 -1.7 0M390.6 64.4a0.85 0.85 0 1 0 1.7 0a0.85 0.85 0 1 0 -1.7 0M332.6 182.7a0.85 0.85 0 1 0 1.7 0a0.85 0.85 0 1 0 -1.7 0M320.1 185.9a0.85 0.85 0 1 0 1.7 0a0.85 0.85 0 1 0 -1.7 0M339.6 183a0.85 0.85 0 1 0 1.7 0a0.85 0.85 0 1 0 -1.7 0M323 182.4a0.85 0.85 0 1 0 1.7 0a0.85 0.85 0 1 0 -1.7 0M446.8 126.9a0.85 0.85 0 1 0 1.7 0a0.85 0.85 0 1 0 -1.7 0M364.7 145.6a0.85 0.85 0 1 0 1.7 0a0.85 0.85 0 1 0 -1.7 0M402.2 27.2a0.85 0.85 0 1 0 1.7 0a0.85 0.85 0 1 0 -1.7 0M338.4 183.5a0.85 0.85 0 1 0 1.7 0a0.85 0.85 0 1 0 -1.7 0M508.3 185.5a0.85 0.85 0 1 0 1.7 0a0.85 0.85 0 1 0 -1.7 0M510.6 188.2a0.85 0.85 0 1 0 1.7 0a0.85 0.85 0 1 0 -1.7 0M509.1 186.8a0.85 0.85 0 1 0 1.7 0a0.85 0.85 0 1 0 -1.7 0M370.5 130.3a0.85 0.85 0 1 0 1.7 0a0.85 0.85 0 1 0 -1.7 0M385.7 79.1a0.85 0.85 0 1 0 1.7 0a0.85 0.85 0 1 0 -1.7 0M405.4 34a0.85 0.85 0 1 0 1.7 0a0.85 0.85 0 1 0 -1.7 0M411.8 26.2a0.85 0.85 0 1 0 1.7 0a0.85 0.85 0 1 0 -1.7 0M306.2 186.5a0.85 0.85 0 1 0 1.7 0a0.85 0.85 0 1 0 -1.7 0M389.5 63.6a0.85 0.85 0 1 0 1.7 0a0.85 0.85 0 1 0 -1.7 0M314 183.9a0.85 0.85 0 1 0 1.7 0a0.85 0.85 0 1 0 -1.7 0M354.3 165.6a0.85 0.85 0 1 0 1.7 0a0.85 0.85 0 1 0 -1.7 0M428.8 68.2a0.85 0.85 0 1 0 1.7 0a0.85 0.85 0 1 0 -1.7 0M444 109.9a0.85 0.85 0 1 0 1.7 0a0.85 0.85 0 1 0 -1.7 0M456.4 141.2a0.85 0.85 0 1 0 1.7 0a0.85 0.85 0 1 0 -1.7 0M374 123.3a0.85 0.85 0 1 0 1.7 0a0.85 0.85 0 1 0 -1.7 0M513.1 183.8a0.85 0.85 0 1 0 1.7 0a0.85 0.85 0 1 0 -1.7 0M441 89.6a0.85 0.85 0 1 0 1.7 0a0.85 0.85 0 1 0 -1.7 0M314.4 183.2a0.85 0.85 0 1 0 1.7 0a0.85 0.85 0 1 0 -1.7 0M437.6 97.8a0.85 0.85 0 1 0 1.7 0a0.85 0.85 0 1 0 -1.7 0M460.1 152.4a0.85 0.85 0 1 0 1.7 0a0.85 0.85 0 1 0 -1.7 0M415.8 32.4a0.85 0.85 0 1 0 1.7 0a0.85 0.85 0 1 0 -1.7 0M411.7 19a0.85 0.85 0 1 0 1.7 0a0.85 0.85 0 1 0 -1.7 0M479.7 184.4a0.85 0.85 0 1 0 1.7 0a0.85 0.85 0 1 0 -1.7 0M412.8 3a0.85 0.85 0 1 0 1.7 0a0.85 0.85 0 1 0 -1.7 0M415.8 7a0.85 0.85 0 1 0 1.7 0a0.85 0.85 0 1 0 -1.7 0M413.8 18a0.85 0.85 0 1 0 1.7 0a0.85 0.85 0 1 0 -1.7 0M408.8 20a0.85 0.85 0 1 0 1.7 0a0.85 0.85 0 1 0 -1.7 0" fill="#111"/>
<path d="M428.6 130.9a0.8 0.8 0 1 0 1.6 0a0.8 0.8 0 1 0 -1.6 0M451.6 188.2a0.8 0.8 0 1 0 1.6 0a0.8 0.8 0 1 0 -1.6 0M353.8 187.6a0.8 0.8 0 1 0 1.6 0a0.8 0.8 0 1 0 -1.6 0M381.4 179.4a0.8 0.8 0 1 0 1.6 0a0.8 0.8 0 1 0 -1.6 0M327.4 187.9a0.8 0.8 0 1 0 1.6 0a0.8 0.8 0 1 0 -1.6 0M437.8 175.7a0.8 0.8 0 1 0 1.6 0a0.8 0.8 0 1 0 -1.6 0M437.5 174.2a0.8 0.8 0 1 0 1.6 0a0.8 0.8 0 1 0 -1.6 0M305.9 189.8a0.8 0.8 0 1 0 1.6 0a0.8 0.8 0 1 0 -1.6 0M473.7 188.3a0.8 0.8 0 1 0 1.6 0a0.8 0.8 0 1 0 -1.6 0M418.2 57.4a0.8 0.8 0 1 0 1.6 0a0.8 0.8 0 1 0 -1.6 0M444.4 182.9a0.8 0.8 0 1 0 1.6 0a0.8 0.8 0 1 0 -1.6 0M358.5 187.4a0.8 0.8 0 1 0 1.6 0a0.8 0.8 0 1 0 -1.6 0M320.9 188.8a0.8 0.8 0 1 0 1.6 0a0.8 0.8 0 1 0 -1.6 0M348.5 186.7a0.8 0.8 0 1 0 1.6 0a0.8 0.8 0 1 0 -1.6 0M461.5 186.9a0.8 0.8 0 1 0 1.6 0a0.8 0.8 0 1 0 -1.6 0M386 168.4a0.8 0.8 0 1 0 1.6 0a0.8 0.8 0 1 0 -1.6 0M406.4 38.6a0.8 0.8 0 1 0 1.6 0a0.8 0.8 0 1 0 -1.6 0M435.5 169.7a0.8 0.8 0 1 0 1.6 0a0.8 0.8 0 1 0 -1.6 0M441 180.1a0.8 0.8 0 1 0 1.6 0a0.8 0.8 0 1 0 -1.6 0M358.8 187.8a0.8 0.8 0 1 0 1.6 0a0.8 0.8 0 1 0 -1.6 0M462.2 188.4a0.8 0.8 0 1 0 1.6 0a0.8 0.8 0 1 0 -1.6 0M307.8 187.5a0.8 0.8 0 1 0 1.6 0a0.8 0.8 0 1 0 -1.6 0M318 188.8a0.8 0.8 0 1 0 1.6 0a0.8 0.8 0 1 0 -1.6 0M451.4 185.8a0.8 0.8 0 1 0 1.6 0a0.8 0.8 0 1 0 -1.6 0M447.9 186.6a0.8 0.8 0 1 0 1.6 0a0.8 0.8 0 1 0 -1.6 0M403.3 52.1a0.8 0.8 0 1 0 1.6 0a0.8 0.8 0 1 0 -1.6 0M403.7 48.8a0.8 0.8 0 1 0 1.6 0a0.8 0.8 0 1 0 -1.6 0M347.3 186.9a0.8 0.8 0 1 0 1.6 0a0.8 0.8 0 1 0 -1.6 0M511.8 188.5a0.8 0.8 0 1 0 1.6 0a0.8 0.8 0 1 0 -1.6 0M402.1 63.8a0.8 0.8 0 1 0 1.6 0a0.8 0.8 0 1 0 -1.6 0M478.4 187.3a0.8 0.8 0 1 0 1.6 0a0.8 0.8 0 1 0 -1.6 0M361.9 188.2a0.8 0.8 0 1 0 1.6 0a0.8 0.8 0 1 0 -1.6 0M349.5 187.6a0.8 0.8 0 1 0 1.6 0a0.8 0.8 0 1 0 -1.6 0M428 131.5a0.8 0.8 0 1 0 1.6 0a0.8 0.8 0 1 0 -1.6 0M335.1 190.9a0.8 0.8 0 1 0 1.6 0a0.8 0.8 0 1 0 -1.6 0M333.2 188.8a0.8 0.8 0 1 0 1.6 0a0.8 0.8 0 1 0 -1.6 0M478.4 190.4a0.8 0.8 0 1 0 1.6 0a0.8 0.8 0 1 0 -1.6 0M453.7 187.7a0.8 0.8 0 1 0 1.6 0a0.8 0.8 0 1 0 -1.6 0M354.1 187.2a0.8 0.8 0 1 0 1.6 0a0.8 0.8 0 1 0 -1.6 0M310.4 189.4a0.8 0.8 0 1 0 1.6 0a0.8 0.8 0 1 0 -1.6 0M306 189.8a0.8 0.8 0 1 0 1.6 0a0.8 0.8 0 1 0 -1.6 0M369 187.4a0.8 0.8 0 1 0 1.6 0a0.8 0.8 0 1 0 -1.6 0M334.9 188.9a0.8 0.8 0 1 0 1.6 0a0.8 0.8 0 1 0 -1.6 0M482.7 187.7a0.8 0.8 0 1 0 1.6 0a0.8 0.8 0 1 0 -1.6 0M305.6 188.7a0.8 0.8 0 1 0 1.6 0a0.8 0.8 0 1 0 -1.6 0M330.6 190.4a0.8 0.8 0 1 0 1.6 0a0.8 0.8 0 1 0 -1.6 0M500.9 189.1a0.8 0.8 0 1 0 1.6 0a0.8 0.8 0 1 0 -1.6 0M366.4 189.8a0.8 0.8 0 1 0 1.6 0a0.8 0.8 0 1 0 -1.6 0M383.8 177.7a0.8 0.8 0 1 0 1.6 0a0.8 0.8 0 1 0 -1.6 0M429.6 136.4a0.8 0.8 0 1 0 1.6 0a0.8 0.8 0 1 0 -1.6 0M381.4 180.2a0.8 0.8 0 1 0 1.6 0a0.8 0.8 0 1 0 -1.6 0M315.4 188.3a0.8 0.8 0 1 0 1.6 0a0.8 0.8 0 1 0 -1.6 0M326.7 188.1a0.8 0.8 0 1 0 1.6 0a0.8 0.8 0 1 0 -1.6 0M502.8 189.3a0.8 0.8 0 1 0 1.6 0a0.8 0.8 0 1 0 -1.6 0M357.9 188.2a0.8 0.8 0 1 0 1.6 0a0.8 0.8 0 1 0 -1.6 0M345.3 187.1a0.8 0.8 0 1 0 1.6 0a0.8 0.8 0 1 0 -1.6 0M384.1 171.7a0.8 0.8 0 1 0 1.6 0a0.8 0.8 0 1 0 -1.6 0M476.7 188.9a0.8 0.8 0 1 0 1.6 0a0.8 0.8 0 1 0 -1.6 0M438.4 173.8a0.8 0.8 0 1 0 1.6 0a0.8 0.8 0 1 0 -1.6 0M421.2 79.9a0.8 0.8 0 1 0 1.6 0a0.8 0.8 0 1 0 -1.6 0M457.2 186.3a0.8 0.8 0 1 0 1.6 0a0.8 0.8 0 1 0 -1.6 0M400.4 76.1a0.8 0.8 0 1 0 1.6 0a0.8 0.8 0 1 0 -1.6 0M464.2 188.6a0.8 0.8 0 1 0 1.6 0a0.8 0.8 0 1 0 -1.6 0M315.5 189.3a0.8 0.8 0 1 0 1.6 0a0.8 0.8 0 1 0 -1.6 0M500.9 187.8a0.8 0.8 0 1 0 1.6 0a0.8 0.8 0 1 0 -1.6 0M377.8 183.1a0.8 0.8 0 1 0 1.6 0a0.8 0.8 0 1 0 -1.6 0M368.1 187.7a0.8 0.8 0 1 0 1.6 0a0.8 0.8 0 1 0 -1.6 0M360.1 190.7a0.8 0.8 0 1 0 1.6 0a0.8 0.8 0 1 0 -1.6 0M443.7 184.3a0.8 0.8 0 1 0 1.6 0a0.8 0.8 0 1 0 -1.6 0M388.5 156.9a0.8 0.8 0 1 0 1.6 0a0.8 0.8 0 1 0 -1.6 0M340.5 188a0.8 0.8 0 1 0 1.6 0a0.8 0.8 0 1 0 -1.6 0M496.5 188a0.8 0.8 0 1 0 1.6 0a0.8 0.8 0 1 0 -1.6 0M410.2 25.2a0.8 0.8 0 1 0 1.6 0a0.8 0.8 0 1 0 -1.6 0M515.7 186.6a0.8 0.8 0 1 0 1.6 0a0.8 0.8 0 1 0 -1.6 0M400.2 77.8a0.8 0.8 0 1 0 1.6 0a0.8 0.8 0 1 0 -1.6 0M324.4 188.1a0.8 0.8 0 1 0 1.6 0a0.8 0.8 0 1 0 -1.6 0M377.4 183.6a0.8 0.8 0 1 0 1.6 0a0.8 0.8 0 1 0 -1.6 0M359.8 187.6a0.8 0.8 0 1 0 1.6 0a0.8 0.8 0 1 0 -1.6 0M425.5 110.3a0.8 0.8 0 1 0 1.6 0a0.8 0.8 0 1 0 -1.6 0M392.4 138.7a0.8 0.8 0 1 0 1.6 0a0.8 0.8 0 1 0 -1.6 0M392.6 137.1a0.8 0.8 0 1 0 1.6 0a0.8 0.8 0 1 0 -1.6 0M376.6 184.9a0.8 0.8 0 1 0 1.6 0a0.8 0.8 0 1 0 -1.6 0M318.3 189.1a0.8 0.8 0 1 0 1.6 0a0.8 0.8 0 1 0 -1.6 0M331.8 186a0.8 0.8 0 1 0 1.6 0a0.8 0.8 0 1 0 -1.6 0M411.5 29.9a0.8 0.8 0 1 0 1.6 0a0.8 0.8 0 1 0 -1.6 0M350.8 189.6a0.8 0.8 0 1 0 1.6 0a0.8 0.8 0 1 0 -1.6 0M362.4 187.9a0.8 0.8 0 1 0 1.6 0a0.8 0.8 0 1 0 -1.6 0M399.4 83.8a0.8 0.8 0 1 0 1.6 0a0.8 0.8 0 1 0 -1.6 0M506.7 187.5a0.8 0.8 0 1 0 1.6 0a0.8 0.8 0 1 0 -1.6 0M309.8 190.3a0.8 0.8 0 1 0 1.6 0a0.8 0.8 0 1 0 -1.6 0M312 189.2a0.8 0.8 0 1 0 1.6 0a0.8 0.8 0 1 0 -1.6 0M405.2 48.2a0.8 0.8 0 1 0 1.6 0a0.8 0.8 0 1 0 -1.6 0M429.2 135.6a0.8 0.8 0 1 0 1.6 0a0.8 0.8 0 1 0 -1.6 0M500.9 188.6a0.8 0.8 0 1 0 1.6 0a0.8 0.8 0 1 0 -1.6 0M479.6 186.7a0.8 0.8 0 1 0 1.6 0a0.8 0.8 0 1 0 -1.6 0M357.7 190.1a0.8 0.8 0 1 0 1.6 0a0.8 0.8 0 1 0 -1.6 0M328.2 187.9a0.8 0.8 0 1 0 1.6 0a0.8 0.8 0 1 0 -1.6 0M449.3 185.8a0.8 0.8 0 1 0 1.6 0a0.8 0.8 0 1 0 -1.6 0M504 188.9a0.8 0.8 0 1 0 1.6 0a0.8 0.8 0 1 0 -1.6 0M466.7 189.5a0.8 0.8 0 1 0 1.6 0a0.8 0.8 0 1 0 -1.6 0M401.8 66.9a0.8 0.8 0 1 0 1.6 0a0.8 0.8 0 1 0 -1.6 0M470.4 188.3a0.8 0.8 0 1 0 1.6 0a0.8 0.8 0 1 0 -1.6 0M354.3 186.9a0.8 0.8 0 1 0 1.6 0a0.8 0.8 0 1 0 -1.6 0M369.4 188.1a0.8 0.8 0 1 0 1.6 0a0.8 0.8 0 1 0 -1.6 0M332.2 188.5a0.8 0.8 0 1 0 1.6 0a0.8 0.8 0 1 0 -1.6 0M452.7 186a0.8 0.8 0 1 0 1.6 0a0.8 0.8 0 1 0 -1.6 0M328.9 187.4a0.8 0.8 0 1 0 1.6 0a0.8 0.8 0 1 0 -1.6 0M428.3 132.4a0.8 0.8 0 1 0 1.6 0a0.8 0.8 0 1 0 -1.6 0M387.2 163.8a0.8 0.8 0 1 0 1.6 0a0.8 0.8 0 1 0 -1.6 0M307.4 187.4a0.8 0.8 0 1 0 1.6 0a0.8 0.8 0 1 0 -1.6 0M368.9 189.9a0.8 0.8 0 1 0 1.6 0a0.8 0.8 0 1 0 -1.6 0M441.3 180.5a0.8 0.8 0 1 0 1.6 0a0.8 0.8 0 1 0 -1.6 0M491.9 189.2a0.8 0.8 0 1 0 1.6 0a0.8 0.8 0 1 0 -1.6 0M357.4 188a0.8 0.8 0 1 0 1.6 0a0.8 0.8 0 1 0 -1.6 0M508.1 188.9a0.8 0.8 0 1 0 1.6 0a0.8 0.8 0 1 0 -1.6 0M309.8 189.5a0.8 0.8 0 1 0 1.6 0a0.8 0.8 0 1 0 -1.6 0M410.4 27.3a0.8 0.8 0 1 0 1.6 0a0.8 0.8 0 1 0 -1.6 0M359.5 188.9a0.8 0.8 0 1 0 1.6 0a0.8 0.8 0 1 0 -1.6 0M446.1 184.9a0.8 0.8 0 1 0 1.6 0a0.8 0.8 0 1 0 -1.6 0M312.4 189a0.8 0.8 0 1 0 1.6 0a0.8 0.8 0 1 0 -1.6 0M376.6 186.2a0.8 0.8 0 1 0 1.6 0a0.8 0.8 0 1 0 -1.6 0M347 187.6a0.8 0.8 0 1 0 1.6 0a0.8 0.8 0 1 0 -1.6 0M473.5 188.3a0.8 0.8 0 1 0 1.6 0a0.8 0.8 0 1 0 -1.6 0M348.5 189.4a0.8 0.8 0 1 0 1.6 0a0.8 0.8 0 1 0 -1.6 0M510 189.4a0.8 0.8 0 1 0 1.6 0a0.8 0.8 0 1 0 -1.6 0M353.9 186.5a0.8 0.8 0 1 0 1.6 0a0.8 0.8 0 1 0 -1.6 0M352 188.1a0.8 0.8 0 1 0 1.6 0a0.8 0.8 0 1 0 -1.6 0M506.2 189.5a0.8 0.8 0 1 0 1.6 0a0.8 0.8 0 1 0 -1.6 0M409.9 25.7a0.8 0.8 0 1 0 1.6 0a0.8 0.8 0 1 0 -1.6 0M393.3 132.3a0.8 0.8 0 1 0 1.6 0a0.8 0.8 0 1 0 -1.6 0M445.7 184.7a0.8 0.8 0 1 0 1.6 0a0.8 0.8 0 1 0 -1.6 0M388.3 159.6a0.8 0.8 0 1 0 1.6 0a0.8 0.8 0 1 0 -1.6 0M350.2 187.7a0.8 0.8 0 1 0 1.6 0a0.8 0.8 0 1 0 -1.6 0M316.1 188.7a0.8 0.8 0 1 0 1.6 0a0.8 0.8 0 1 0 -1.6 0M317.9 190.3a0.8 0.8 0 1 0 1.6 0a0.8 0.8 0 1 0 -1.6 0M491.8 187.2a0.8 0.8 0 1 0 1.6 0a0.8 0.8 0 1 0 -1.6 0M460 185.7a0.8 0.8 0 1 0 1.6 0a0.8 0.8 0 1 0 -1.6 0M374.7 185.9a0.8 0.8 0 1 0 1.6 0a0.8 0.8 0 1 0 -1.6 0M344.4 186.8a0.8 0.8 0 1 0 1.6 0a0.8 0.8 0 1 0 -1.6 0M311.9 189.3a0.8 0.8 0 1 0 1.6 0a0.8 0.8 0 1 0 -1.6 0M445.5 185.9a0.8 0.8 0 1 0 1.6 0a0.8 0.8 0 1 0 -1.6 0M375.3 185a0.8 0.8 0 1 0 1.6 0a0.8 0.8 0 1 0 -1.6 0M340.9 187.6a0.8 0.8 0 1 0 1.6 0a0.8 0.8 0 1 0 -1.6 0M379.4 182.2a0.8 0.8 0 1 0 1.6 0a0.8 0.8 0 1 0 -1.6 0M507 186.9a0.8 0.8 0 1 0 1.6 0a0.8 0.8 0 1 0 -1.6 0M349 186.5a0.8 0.8 0 1 0 1.6 0a0.8 0.8 0 1 0 -1.6 0M380.5 179.9a0.8 0.8 0 1 0 1.6 0a0.8 0.8 0 1 0 -1.6 0M396.5 112a0.8 0.8 0 1 0 1.6 0a0.8 0.8 0 1 0 -1.6 0M315.6 189.6a0.8 0.8 0 1 0 1.6 0a0.8 0.8 0 1 0 -1.6 0M499.4 188.4a0.8 0.8 0 1 0 1.6 0a0.8 0.8 0 1 0 -1.6 0" fill="#e8401c"/>
<path d="M306 186.4 L307.4 186.4 L308.8 186.4 L310.2 186.3 L311.6 186.3 L313 186.3 L314.4 186.2 L315.9 186.1 L317.3 186 L318.7 186 L320.1 185.8 L321.5 185.7 L322.9 185.6 L324.3 185.4 L325.7 185.2 L327.1 185 L328.5 184.7 L329.9 184.4 L331.3 184.1 L332.8 183.7 L334.2 183.2 L335.6 182.7 L337 182.2 L338.4 181.5 L339.8 180.8 L341.2 180 L342.6 179.2 L344 178.2 L345.4 177.1 L346.8 175.9 L348.2 174.6 L349.6 173.1 L351.1 171.6 L352.5 169.8 L353.9 168 L355.3 165.9 L356.7 163.7 L358.1 161.3 L359.5 158.8 L360.9 156.1 L362.3 153.2 L363.7 150.1 L365.1 146.8 L366.5 143.4 L368 139.7 L369.4 135.9 L370.8 131.9 L372.2 127.8 L373.6 123.5 L375 119.1 L376.4 114.5 L377.8 109.8 L379.2 105.1 L380.6 100.2 L382 95.3 L383.4 90.4 L384.8 85.5 L386.3 80.6 L387.7 75.7 L389.1 70.9 L390.5 66.2 L391.9 61.7 L393.3 57.3 L394.7 53.1 L396.1 49.1 L397.5 45.3 L398.9 41.8 L400.3 38.6 L401.7 35.8 L403.2 33.2 L404.6 31.1 L406 29.3 L407.4 27.8 L408.8 26.8 L410.2 26.2 L411.6 26 L413 26.2 L414.4 26.8 L415.8 27.8 L417.2 29.3 L418.6 31.1 L420 33.2 L421.5 35.8 L422.9 38.6 L424.3 41.8 L425.7 45.3 L427.1 49.1 L428.5 53.1 L429.9 57.3 L431.3 61.7 L432.7 66.2 L434.1 70.9 L435.5 75.7 L436.9 80.6 L438.4 85.5 L439.8 90.4 L441.2 95.3 L442.6 100.2 L444 105.1 L445.4 109.8 L446.8 114.5 L448.2 119.1 L449.6 123.5 L451 127.8 L452.4 131.9 L453.8 135.9 L455.2 139.7 L456.7 143.4 L458.1 146.8 L459.5 150.1 L460.9 153.2 L462.3 156.1 L463.7 158.8 L465.1 161.3 L466.5 163.7 L467.9 165.9 L469.3 168 L470.7 169.8 L472.1 171.6 L473.6 173.1 L475 174.6 L476.4 175.9 L477.8 177.1 L479.2 178.2 L480.6 179.2 L482 180 L483.4 180.8 L484.8 181.5 L486.2 182.2 L487.6 182.7 L489 183.2 L490.4 183.7 L491.9 184.1 L493.3 184.4 L494.7 184.7 L496.1 185 L497.5 185.2 L498.9 185.4 L500.3 185.6 L501.7 185.7 L503.1 185.8 L504.5 186 L505.9 186 L507.3 186.1 L508.8 186.2 L510.2 186.3 L511.6 186.3 L513 186.3 L514.4 186.4 L515.8 186.4 L517.2 186.4" stroke="#000" stroke-width="2.6" fill="none" stroke-linejoin="round" stroke-linecap="round" />
<path d="M306 189 L307.4 189 L308.8 189 L310.2 189 L311.6 189 L313 189 L314.4 189 L315.9 189 L317.3 189 L318.7 189 L320.1 189 L321.5 189 L322.9 189 L324.3 189 L325.7 189 L327.1 189 L328.5 189 L329.9 189 L331.3 189 L332.8 189 L334.2 189 L335.6 189 L337 189 L338.4 189 L339.8 189 L341.2 189 L342.6 189 L344 189 L345.4 189 L346.8 189 L348.2 189 L349.6 189 L351.1 189 L352.5 189 L353.9 189 L355.3 189 L356.7 189 L358.1 189 L359.5 189 L360.9 189 L362.3 189 L363.7 188.9 L365.1 188.9 L366.5 188.9 L368 188.8 L369.4 188.7 L370.8 188.5 L372.2 188.3 L373.6 188 L375 187.5 L376.4 186.9 L377.8 186 L379.2 184.8 L380.6 183.3 L382 181.3 L383.4 178.8 L384.8 175.6 L386.3 171.7 L387.7 167 L389.1 161.4 L390.5 154.7 L391.9 147.1 L393.3 138.5 L394.7 128.9 L396.1 118.5 L397.5 107.5 L398.9 96 L400.3 84.4 L401.7 72.9 L403.2 62 L404.6 51.9 L406 43.1 L407.4 35.9 L408.8 30.5 L410.2 27.1 L411.6 26 L413 27.1 L414.4 30.5 L415.8 35.9 L417.2 43.1 L418.6 51.9 L420 62 L421.5 72.9 L422.9 84.4 L424.3 96 L425.7 107.5 L427.1 118.5 L428.5 128.9 L429.9 138.5 L431.3 147.1 L432.7 154.7 L434.1 161.4 L435.5 167 L436.9 171.7 L438.4 175.6 L439.8 178.8 L441.2 181.3 L442.6 183.3 L444 184.8 L445.4 186 L446.8 186.9 L448.2 187.5 L449.6 188 L451 188.3 L452.4 188.5 L453.8 188.7 L455.2 188.8 L456.7 188.9 L458.1 188.9 L459.5 188.9 L460.9 189 L462.3 189 L463.7 189 L465.1 189 L466.5 189 L467.9 189 L469.3 189 L470.7 189 L472.1 189 L473.6 189 L475 189 L476.4 189 L477.8 189 L479.2 189 L480.6 189 L482 189 L483.4 189 L484.8 189 L486.2 189 L487.6 189 L489 189 L490.4 189 L491.9 189 L493.3 189 L494.7 189 L496.1 189 L497.5 189 L498.9 189 L500.3 189 L501.7 189 L503.1 189 L504.5 189 L505.9 189 L507.3 189 L508.8 189 L510.2 189 L511.6 189 L513 189 L514.4 189 L515.8 189 L517.2 189" stroke="#e0391a" stroke-width="2.4" fill="none" stroke-linejoin="round" stroke-linecap="round" />
</g>
<line x1="352" y1="107.3" x2="373" y2="107.3" stroke="#000" stroke-width="1.6" />
<path d="M380 107.3 L372 110.6 L372 104 Z" fill="#000"/>
<line x1="471" y1="107.3" x2="451" y2="107.3" stroke="#000" stroke-width="1.6" />
<path d="M444 107.3 L452 104 L452 110.6 Z" fill="#000"/>
<text x="455.6" y="103.8" font-size="15" text-anchor="start" fill="#000" font-weight="bold" textLength="43.2" lengthAdjust="spacingAndGlyphs" >1.8 eV</text>
<line x1="402" y1="107.3" x2="421" y2="107.3" stroke="#e0391a" stroke-width="1.6" />
<path d="M397.5 107.3 L404 104.3 L404 110.3 Z" fill="#e0391a"/>
<path d="M425.6 107.3 L419.1 110.3 L419.1 104.3 Z" fill="#e0391a"/>
<text x="411.6" y="128.5" font-size="14" text-anchor="middle" fill="#e0391a" font-weight="bold" >0.8</text>
<text x="411.6" y="147" font-size="14" text-anchor="middle" fill="#e0391a" font-weight="bold" >eV</text>
<circle cx="323.5" cy="29" r="1.7" fill="#e0391a"/>
<text x="333" y="34.5" font-size="15" text-anchor="start" fill="#e0391a" stroke="#e0391a" stroke-width="0.4" >Extractor</text>
<circle cx="323.5" cy="56.5" r="1.7" fill="#000"/>
<text x="333" y="62" font-size="15" text-anchor="start" fill="#000" stroke="#000" stroke-width="0.3" >Emitter</text></g>
<g id="panelCDE"><text x="260" y="300" font-size="17" text-anchor="middle" fill="#000" font-weight="bold" textLength="235" lengthAdjust="spacingAndGlyphs" >Nanosecond electron pulses</text>
<g clip-path="url(#cpc)"><g filter="url(#hot)">
<rect x="-2" y="312.2" width="172.5" height="174" fill="url(#gc)"/>
<path d="M92.5 351.2 C96.2 351.2 102.2 351.9 105 352.5 C107.8 353.1 107 353.1 109.5 355 C112 356.9 117.2 361.5 120 363.8 C122.8 366 124.6 366.5 126.2 368.8 C127.9 371 129.2 374 130 377.5 C130.8 381 130.8 386 131.2 390 C131.8 394 132.9 398.7 133 401.2 C133.1 403.8 132.9 404 132 405.5 C131.1 407 129.5 408.2 127.5 410 C125.5 411.8 122.5 414 120 416.2 C117.5 418.5 114.8 421 112.5 423.8 C110.2 426.5 108.1 430 106.2 432.5 C104.4 435 103.1 437.3 101.2 438.8 C99.4 440.2 98.1 440.5 95 441.2 C91.9 442 86.7 442.8 82.5 443 C78.3 443.2 74.2 443 70 442.5 C65.8 442 61.7 441.7 57.5 440 C53.3 438.3 48.5 435.8 45 432.5 C41.5 429.2 38.5 424.6 36.2 420 C34 415.4 32.2 409.6 31.2 405 C30.3 400.4 30.1 396.7 30.5 392.5 C30.9 388.3 31.8 384 33.8 380 C35.8 376 39 371.9 42.5 368.8 C46 365.6 50.4 363.3 55 361.2 C59.6 359.2 65.4 357.7 70 356.2 C74.6 354.8 78.7 353.3 82.5 352.5 C86.2 351.7 88.8 351.2 92.5 351.2 Z" fill="#000" stroke="#000" stroke-width="0.6" filter="url(#bl04)"/>
<ellipse cx="154" cy="398.2" rx="2.2" ry="1.7" fill="#555" filter="url(#bl07)"/>
</g>
<path d="M92.5 351.2 C96.2 351.2 102.2 351.9 105 352.5 C107.8 353.1 107 353.1 109.5 355 C112 356.9 117.2 361.5 120 363.8 C122.8 366 124.6 366.5 126.2 368.8 C127.9 371 129.2 374 130 377.5 C130.8 381 130.8 386 131.2 390 C131.8 394 132.9 398.7 133 401.2 C133.1 403.8 132.9 404 132 405.5 C131.1 407 129.5 408.2 127.5 410 C125.5 411.8 122.5 414 120 416.2 C117.5 418.5 114.8 421 112.5 423.8 C110.2 426.5 108.1 430 106.2 432.5 C104.4 435 103.1 437.3 101.2 438.8 C99.4 440.2 98.1 440.5 95 441.2 C91.9 442 86.7 442.8 82.5 443 C78.3 443.2 74.2 443 70 442.5 C65.8 442 61.7 441.7 57.5 440 C53.3 438.3 48.5 435.8 45 432.5 C41.5 429.2 38.5 424.6 36.2 420 C34 415.4 32.2 409.6 31.2 405 C30.3 400.4 30.1 396.7 30.5 392.5 C30.9 388.3 31.8 384 33.8 380 C35.8 376 39 371.9 42.5 368.8 C46 365.6 50.4 363.3 55 361.2 C59.6 359.2 65.4 357.7 70 356.2 C74.6 354.8 78.7 353.3 82.5 352.5 C86.2 351.7 88.8 351.2 92.5 351.2 Z" fill="#000" filter="url(#bl04)"/>
</g>
<text x="12" y="341" font-size="16.5" text-anchor="start" fill="#fff" font-weight="bold" textLength="20.3" lengthAdjust="spacingAndGlyphs" >(c)</text>
<text x="158.5" y="331.7" font-size="16.5" text-anchor="end" fill="#1a0505" font-weight="bold" >-2 ns</text>
<g clip-path="url(#cpd)"><g filter="url(#hot)">
<rect x="173.6" y="312.2" width="172.5" height="174" fill="url(#gd)"/>
<path d="M270 353 C273.8 352.9 277.1 353 280 353.8 C282.9 354.5 284.6 355.6 287.5 357.5 C290.4 359.4 294.8 362.7 297.5 365 C300.2 367.3 302.5 368.3 303.8 371.2 C305 374.2 304.8 378.8 305 382.5 C305.2 386.2 305.2 390.8 305.2 393.8 C305.3 396.7 305.9 398.1 305.2 400 C304.6 401.9 303 403.1 301.2 405 C299.5 406.9 297.1 409.2 295 411.2 C292.9 413.3 290.6 415 288.8 417.5 C286.9 420 285.2 423.8 283.8 426.2 C282.3 428.8 282.3 430.4 280 432.5 C277.7 434.6 273.8 437.4 270 438.8 C266.2 440.1 261.7 440.3 257.5 440.5 C253.3 440.7 249.2 440.7 245 440 C240.8 439.3 236.2 437.9 232.5 436.2 C228.8 434.6 225.6 432.9 222.5 430 C219.4 427.1 215.9 422.7 213.8 418.8 C211.6 414.8 210.3 410.4 209.5 406.2 C208.7 402.1 208.2 397.9 208.8 393.8 C209.2 389.6 210.6 385 212.5 381.2 C214.4 377.5 216.7 374.4 220 371.2 C223.3 368.1 228.3 364.8 232.5 362.5 C236.7 360.2 240.8 358.9 245 357.5 C249.2 356.1 253.3 355 257.5 354.2 C261.7 353.5 266.2 353.1 270 353 Z" fill="#fff" stroke="#fff" stroke-width="8" filter="url(#bl5)" opacity="0.95" transform="translate(6 5)"/>
<path d="M270 353 C273.8 352.9 277.1 353 280 353.8 C282.9 354.5 284.6 355.6 287.5 357.5 C290.4 359.4 294.8 362.7 297.5 365 C300.2 367.3 302.5 368.3 303.8 371.2 C305 374.2 304.8 378.8 305 382.5 C305.2 386.2 305.2 390.8 305.2 393.8 C305.3 396.7 305.9 398.1 305.2 400 C304.6 401.9 303 403.1 301.2 405 C299.5 406.9 297.1 409.2 295 411.2 C292.9 413.3 290.6 415 288.8 417.5 C286.9 420 285.2 423.8 283.8 426.2 C282.3 428.8 282.3 430.4 280 432.5 C277.7 434.6 273.8 437.4 270 438.8 C266.2 440.1 261.7 440.3 257.5 440.5 C253.3 440.7 249.2 440.7 245 440 C240.8 439.3 236.2 437.9 232.5 436.2 C228.8 434.6 225.6 432.9 222.5 430 C219.4 427.1 215.9 422.7 213.8 418.8 C211.6 414.8 210.3 410.4 209.5 406.2 C208.7 402.1 208.2 397.9 208.8 393.8 C209.2 389.6 210.6 385 212.5 381.2 C214.4 377.5 216.7 374.4 220 371.2 C223.3 368.1 228.3 364.8 232.5 362.5 C236.7 360.2 240.8 358.9 245 357.5 C249.2 356.1 253.3 355 257.5 354.2 C261.7 353.5 266.2 353.1 270 353 Z" fill="#000" stroke="#000" stroke-width="1.6" filter="url(#bl15)"/>
<ellipse cx="329.6" cy="398.2" rx="2.2" ry="1.7" fill="#555" filter="url(#bl07)"/>
</g>
<path d="M270 353 C273.8 352.9 277.1 353 280 353.8 C282.9 354.5 284.6 355.6 287.5 357.5 C290.4 359.4 294.8 362.7 297.5 365 C300.2 367.3 302.5 368.3 303.8 371.2 C305 374.2 304.8 378.8 305 382.5 C305.2 386.2 305.2 390.8 305.2 393.8 C305.3 396.7 305.9 398.1 305.2 400 C304.6 401.9 303 403.1 301.2 405 C299.5 406.9 297.1 409.2 295 411.2 C292.9 413.3 290.6 415 288.8 417.5 C286.9 420 285.2 423.8 283.8 426.2 C282.3 428.8 282.3 430.4 280 432.5 C277.7 434.6 273.8 437.4 270 438.8 C266.2 440.1 261.7 440.3 257.5 440.5 C253.3 440.7 249.2 440.7 245 440 C240.8 439.3 236.2 437.9 232.5 436.2 C228.8 434.6 225.6 432.9 222.5 430 C219.4 427.1 215.9 422.7 213.8 418.8 C211.6 414.8 210.3 410.4 209.5 406.2 C208.7 402.1 208.2 397.9 208.8 393.8 C209.2 389.6 210.6 385 212.5 381.2 C214.4 377.5 216.7 374.4 220 371.2 C223.3 368.1 228.3 364.8 232.5 362.5 C236.7 360.2 240.8 358.9 245 357.5 C249.2 356.1 253.3 355 257.5 354.2 C261.7 353.5 266.2 353.1 270 353 Z" fill="#000" filter="url(#bl04)"/>
</g>
<text x="187.6" y="341" font-size="16.5" text-anchor="start" fill="#fff" font-weight="bold" textLength="20.3" lengthAdjust="spacingAndGlyphs" >(d)</text>
<text x="334.1" y="331.7" font-size="16.5" text-anchor="end" fill="#1a0505" font-weight="bold" >0 ns</text>
<g clip-path="url(#cpe)"><g filter="url(#hot)">
<rect x="349.6" y="312.2" width="172.4" height="174" fill="url(#ge)"/>
<path d="M445 356.2 C448.5 356.2 451.9 356.4 455 357 C458.1 357.6 460.8 358.5 463.8 360 C466.7 361.5 470 364.4 472.5 366.2 C475 368.1 477.4 368.8 478.8 371.2 C480.1 373.8 480.2 377.5 480.5 381.2 C480.8 385 480.6 390.4 480.5 393.8 C480.4 397.1 480.7 399.3 480 401.2 C479.3 403.2 477.9 403.8 476.2 405.5 C474.6 407.2 472 409.3 470 411.2 C468 413.2 466.2 414.7 464.5 417 C462.8 419.3 461 422.6 459.5 425 C458 427.4 457.9 429.2 455.5 431.2 C453.1 433.2 448.8 435.8 445 437 C441.2 438.2 436.7 438.6 432.5 438.8 C428.3 438.9 424 438.7 420 438 C416 437.3 412.2 436.2 408.8 434.5 C405.3 432.8 402.4 430.8 399.5 428 C396.6 425.2 393.3 421.1 391.2 417.5 C389.2 413.9 387.8 410 387 406.2 C386.2 402.5 385.8 399 386.2 395 C386.7 391 387.7 386.2 389.5 382.5 C391.3 378.8 393.8 375.5 397 372.5 C400.2 369.5 404.7 366.6 408.8 364.5 C412.8 362.4 417.1 361.2 421.2 360 C425.4 358.8 429.8 357.6 433.8 357 C437.7 356.4 441.5 356.2 445 356.2 Z" fill="#fff" stroke="#fff" stroke-width="20" filter="url(#bl4)" opacity="1" transform="translate(4 4)"/>
<path d="M445 356.2 C448.5 356.2 451.9 356.4 455 357 C458.1 357.6 460.8 358.5 463.8 360 C466.7 361.5 470 364.4 472.5 366.2 C475 368.1 477.4 368.8 478.8 371.2 C480.1 373.8 480.2 377.5 480.5 381.2 C480.8 385 480.6 390.4 480.5 393.8 C480.4 397.1 480.7 399.3 480 401.2 C479.3 403.2 477.9 403.8 476.2 405.5 C474.6 407.2 472 409.3 470 411.2 C468 413.2 466.2 414.7 464.5 417 C462.8 419.3 461 422.6 459.5 425 C458 427.4 457.9 429.2 455.5 431.2 C453.1 433.2 448.8 435.8 445 437 C441.2 438.2 436.7 438.6 432.5 438.8 C428.3 438.9 424 438.7 420 438 C416 437.3 412.2 436.2 408.8 434.5 C405.3 432.8 402.4 430.8 399.5 428 C396.6 425.2 393.3 421.1 391.2 417.5 C389.2 413.9 387.8 410 387 406.2 C386.2 402.5 385.8 399 386.2 395 C386.7 391 387.7 386.2 389.5 382.5 C391.3 378.8 393.8 375.5 397 372.5 C400.2 369.5 404.7 366.6 408.8 364.5 C412.8 362.4 417.1 361.2 421.2 360 C425.4 358.8 429.8 357.6 433.8 357 C437.7 356.4 441.5 356.2 445 356.2 Z" fill="#000" stroke="#000" stroke-width="1.6" filter="url(#bl15)"/>
<ellipse cx="505.6" cy="398.2" rx="2.2" ry="1.7" fill="#555" filter="url(#bl07)"/>
</g>
<path d="M445 356.2 C448.5 356.2 451.9 356.4 455 357 C458.1 357.6 460.8 358.5 463.8 360 C466.7 361.5 470 364.4 472.5 366.2 C475 368.1 477.4 368.8 478.8 371.2 C480.1 373.8 480.2 377.5 480.5 381.2 C480.8 385 480.6 390.4 480.5 393.8 C480.4 397.1 480.7 399.3 480 401.2 C479.3 403.2 477.9 403.8 476.2 405.5 C474.6 407.2 472 409.3 470 411.2 C468 413.2 466.2 414.7 464.5 417 C462.8 419.3 461 422.6 459.5 425 C458 427.4 457.9 429.2 455.5 431.2 C453.1 433.2 448.8 435.8 445 437 C441.2 438.2 436.7 438.6 432.5 438.8 C428.3 438.9 424 438.7 420 438 C416 437.3 412.2 436.2 408.8 434.5 C405.3 432.8 402.4 430.8 399.5 428 C396.6 425.2 393.3 421.1 391.2 417.5 C389.2 413.9 387.8 410 387 406.2 C386.2 402.5 385.8 399 386.2 395 C386.7 391 387.7 386.2 389.5 382.5 C391.3 378.8 393.8 375.5 397 372.5 C400.2 369.5 404.7 366.6 408.8 364.5 C412.8 362.4 417.1 361.2 421.2 360 C425.4 358.8 429.8 357.6 433.8 357 C437.7 356.4 441.5 356.2 445 356.2 Z" fill="#000" filter="url(#bl04)"/>
</g>
<text x="363.6" y="341" font-size="16.5" text-anchor="start" fill="#fff" font-weight="bold" textLength="20.3" lengthAdjust="spacingAndGlyphs" >(e)</text>
<text x="510" y="331.7" font-size="16.5" text-anchor="end" fill="#1a0505" font-weight="bold" >+2 ns</text>
<path d="M120.3 341.3 L134 346.2 L116.7 374.7 L104 369.1 Z" fill="none" stroke="#fff" stroke-width="1.5"/>
<rect x="103.5" y="468.5" width="56.7" height="6.1" fill="#fff"/>
<rect x="283.8" y="423" width="61" height="61.2" fill="#000" stroke="#4a4a4a" stroke-width="1"/>
<path d="M319.6 438.5 C320.9 438.5 322.1 438.5 323.2 438.8 C324.2 439 324.8 439.5 325.9 440.1 C326.9 440.8 328.5 442 329.5 442.8 C330.4 443.7 331.3 444 331.7 445.1 C332.2 446.1 332.1 447.8 332.2 449.1 C332.3 450.5 332.2 452.1 332.3 453.2 C332.3 454.2 332.5 454.8 332.3 455.4 C332 456.1 331.4 456.6 330.8 457.2 C330.2 457.9 329.3 458.7 328.6 459.5 C327.8 460.2 327 460.8 326.3 461.7 C325.6 462.6 325 464 324.5 464.9 C324 465.8 324 466.4 323.2 467.1 C322.3 467.9 320.9 468.9 319.6 469.4 C318.2 469.9 316.6 469.9 315.1 470 C313.6 470.1 312.1 470.1 310.6 469.8 C309.1 469.6 307.4 469.1 306.1 468.5 C304.7 467.9 303.6 467.3 302.5 466.2 C301.3 465.2 300.1 463.6 299.3 462.2 C298.5 460.8 298.1 459.2 297.8 457.7 C297.5 456.2 297.3 454.7 297.5 453.2 C297.7 451.7 298.2 450 298.9 448.7 C299.5 447.3 300.4 446.2 301.6 445.1 C302.8 444 304.6 442.8 306.1 441.9 C307.6 441.1 309.1 440.6 310.6 440.1 C312.1 439.6 313.6 439.2 315.1 439 C316.6 438.7 318.2 438.5 319.6 438.5 Z" fill="none" stroke="#d02a10" stroke-width="2.2" filter="url(#bl07)" opacity="0.7"/>
<path d="M319.6 438.5 C320.9 438.5 322.1 438.5 323.2 438.8 C324.2 439 324.8 439.5 325.9 440.1 C326.9 440.8 328.5 442 329.5 442.8 C330.4 443.7 331.3 444 331.7 445.1 C332.2 446.1 332.1 447.8 332.2 449.1 C332.3 450.5 332.2 452.1 332.3 453.2 C332.3 454.2 332.5 454.8 332.3 455.4 C332 456.1 331.4 456.6 330.8 457.2 C330.2 457.9 329.3 458.7 328.6 459.5 C327.8 460.2 327 460.8 326.3 461.7 C325.6 462.6 325 464 324.5 464.9 C324 465.8 324 466.4 323.2 467.1 C322.3 467.9 320.9 468.9 319.6 469.4 C318.2 469.9 316.6 469.9 315.1 470 C313.6 470.1 312.1 470.1 310.6 469.8 C309.1 469.6 307.4 469.1 306.1 468.5 C304.7 467.9 303.6 467.3 302.5 466.2 C301.3 465.2 300.1 463.6 299.3 462.2 C298.5 460.8 298.1 459.2 297.8 457.7 C297.5 456.2 297.3 454.7 297.5 453.2 C297.7 451.7 298.2 450 298.9 448.7 C299.5 447.3 300.4 446.2 301.6 445.1 C302.8 444 304.6 442.8 306.1 441.9 C307.6 441.1 309.1 440.6 310.6 440.1 C312.1 439.6 313.6 439.2 315.1 439 C316.6 438.7 318.2 438.5 319.6 438.5 Z" fill="none" stroke="#ff5a20" stroke-width="1"/>
<rect x="459.6" y="423" width="61" height="61.2" fill="#000" stroke="#4a4a4a" stroke-width="1"/>
<g clip-path="url(#cpe)"><path d="M495 439.7 C496.3 439.7 497.5 439.7 498.6 439.9 C499.7 440.2 500.7 440.5 501.8 441 C502.8 441.6 504 442.6 504.9 443.3 C505.8 444 506.7 444.2 507.2 445.1 C507.6 446 507.7 447.3 507.8 448.7 C507.9 450 507.8 452 507.8 453.2 C507.8 454.4 507.9 455.2 507.6 455.9 C507.3 456.6 506.9 456.8 506.3 457.4 C505.7 458 504.7 458.8 504 459.5 C503.3 460.2 502.7 460.7 502 461.5 C501.4 462.4 500.8 463.6 500.2 464.4 C499.7 465.3 499.7 466 498.8 466.7 C497.9 467.4 496.4 468.3 495 468.7 C493.6 469.2 492 469.3 490.5 469.4 C489 469.4 487.4 469.4 486 469.1 C484.6 468.9 483.2 468.4 482 467.8 C480.7 467.2 479.7 466.5 478.6 465.5 C477.6 464.5 476.4 463 475.7 461.7 C474.9 460.4 474.4 459 474.1 457.7 C473.8 456.3 473.7 455.1 473.9 453.6 C474 452.2 474.4 450.5 475 449.1 C475.7 447.8 476.6 446.6 477.7 445.5 C478.9 444.4 480.5 443.4 482 442.6 C483.4 441.9 485 441.5 486.5 441 C488 440.6 489.5 440.2 491 439.9 C492.4 439.7 493.7 439.7 495 439.7 Z" fill="none" stroke="#e01808" stroke-width="7" filter="url(#bl3)" opacity="0.9" transform="translate(7 1)"/>
<rect x="460.6" y="424" width="60" height="60" fill="#c00" filter="url(#hotn)" opacity="0.25"/></g>
<path d="M495 439.7 C496.3 439.7 497.5 439.7 498.6 439.9 C499.7 440.2 500.7 440.5 501.8 441 C502.8 441.6 504 442.6 504.9 443.3 C505.8 444 506.7 444.2 507.2 445.1 C507.6 446 507.7 447.3 507.8 448.7 C507.9 450 507.8 452 507.8 453.2 C507.8 454.4 507.9 455.2 507.6 455.9 C507.3 456.6 506.9 456.8 506.3 457.4 C505.7 458 504.7 458.8 504 459.5 C503.3 460.2 502.7 460.7 502 461.5 C501.4 462.4 500.8 463.6 500.2 464.4 C499.7 465.3 499.7 466 498.8 466.7 C497.9 467.4 496.4 468.3 495 468.7 C493.6 469.2 492 469.3 490.5 469.4 C489 469.4 487.4 469.4 486 469.1 C484.6 468.9 483.2 468.4 482 467.8 C480.7 467.2 479.7 466.5 478.6 465.5 C477.6 464.5 476.4 463 475.7 461.7 C474.9 460.4 474.4 459 474.1 457.7 C473.8 456.3 473.7 455.1 473.9 453.6 C474 452.2 474.4 450.5 475 449.1 C475.7 447.8 476.6 446.6 477.7 445.5 C478.9 444.4 480.5 443.4 482 442.6 C483.4 441.9 485 441.5 486.5 441 C488 440.6 489.5 440.2 491 439.9 C492.4 439.7 493.7 439.7 495 439.7 Z" fill="#000" stroke="#ffb040" stroke-width="2.4" filter="url(#bl07)"/>
<path d="M495 439.7 C496.3 439.7 497.5 439.7 498.6 439.9 C499.7 440.2 500.7 440.5 501.8 441 C502.8 441.6 504 442.6 504.9 443.3 C505.8 444 506.7 444.2 507.2 445.1 C507.6 446 507.7 447.3 507.8 448.7 C507.9 450 507.8 452 507.8 453.2 C507.8 454.4 507.9 455.2 507.6 455.9 C507.3 456.6 506.9 456.8 506.3 457.4 C505.7 458 504.7 458.8 504 459.5 C503.3 460.2 502.7 460.7 502 461.5 C501.4 462.4 500.8 463.6 500.2 464.4 C499.7 465.3 499.7 466 498.8 466.7 C497.9 467.4 496.4 468.3 495 468.7 C493.6 469.2 492 469.3 490.5 469.4 C489 469.4 487.4 469.4 486 469.1 C484.6 468.9 483.2 468.4 482 467.8 C480.7 467.2 479.7 466.5 478.6 465.5 C477.6 464.5 476.4 463 475.7 461.7 C474.9 460.4 474.4 459 474.1 457.7 C473.8 456.3 473.7 455.1 473.9 453.6 C474 452.2 474.4 450.5 475 449.1 C475.7 447.8 476.6 446.6 477.7 445.5 C478.9 444.4 480.5 443.4 482 442.6 C483.4 441.9 485 441.5 486.5 441 C488 440.6 489.5 440.2 491 439.9 C492.4 439.7 493.7 439.7 495 439.7 Z" fill="none" stroke="#fffbe0" stroke-width="1.2"/></g>
<g id="panelF"><rect x="57" y="545" width="160" height="158" fill="none" stroke="#000" stroke-width="2"/>
<line x1="84.2" y1="703" x2="84.2" y2="694" stroke="#000" stroke-width="2" />
<line x1="84.2" y1="545" x2="84.2" y2="554" stroke="#000" stroke-width="2" />
<text x="81.2" y="719.8" font-size="15" text-anchor="middle" fill="#000" stroke="#000" stroke-width="0.5" >-10</text>
<line x1="110.5" y1="703" x2="110.5" y2="694" stroke="#000" stroke-width="2" />
<line x1="110.5" y1="545" x2="110.5" y2="554" stroke="#000" stroke-width="2" />
<text x="110.5" y="719.8" font-size="15" text-anchor="middle" fill="#000" stroke="#000" stroke-width="0.5" >0</text>
<line x1="136.8" y1="703" x2="136.8" y2="694" stroke="#000" stroke-width="2" />
<line x1="136.8" y1="545" x2="136.8" y2="554" stroke="#000" stroke-width="2" />
<text x="136.8" y="719.8" font-size="15" text-anchor="middle" fill="#000" stroke="#000" stroke-width="0.5" >10</text>
<line x1="163.1" y1="703" x2="163.1" y2="694" stroke="#000" stroke-width="2" />
<line x1="163.1" y1="545" x2="163.1" y2="554" stroke="#000" stroke-width="2" />
<text x="163.1" y="719.8" font-size="15" text-anchor="middle" fill="#000" stroke="#000" stroke-width="0.5" >20</text>
<line x1="189.4" y1="703" x2="189.4" y2="694" stroke="#000" stroke-width="2" />
<line x1="189.4" y1="545" x2="189.4" y2="554" stroke="#000" stroke-width="2" />
<text x="189.4" y="719.8" font-size="15" text-anchor="middle" fill="#000" stroke="#000" stroke-width="0.5" >30</text>
<line x1="57" y1="696" x2="66" y2="696" stroke="#000" stroke-width="2" />
<line x1="217" y1="696" x2="208" y2="696" stroke="#000" stroke-width="2" />
<text x="51" y="701.6" font-size="15" text-anchor="end" fill="#000" stroke="#000" stroke-width="0.5" >0</text>
<line x1="57" y1="669.9" x2="66" y2="669.9" stroke="#000" stroke-width="2" />
<line x1="217" y1="669.9" x2="208" y2="669.9" stroke="#000" stroke-width="2" />
<text x="51" y="675.5" font-size="15" text-anchor="end" fill="#000" stroke="#000" stroke-width="0.5" >0.2</text>
<line x1="57" y1="643.8" x2="66" y2="643.8" stroke="#000" stroke-width="2" />
<line x1="217" y1="643.8" x2="208" y2="643.8" stroke="#000" stroke-width="2" />
<text x="51" y="649.4" font-size="15" text-anchor="end" fill="#000" stroke="#000" stroke-width="0.5" >0.4</text>
<line x1="57" y1="617.7" x2="66" y2="617.7" stroke="#000" stroke-width="2" />
<line x1="217" y1="617.7" x2="208" y2="617.7" stroke="#000" stroke-width="2" />
<text x="51" y="623.3" font-size="15" text-anchor="end" fill="#000" stroke="#000" stroke-width="0.5" >0.6</text>
<line x1="57" y1="591.6" x2="66" y2="591.6" stroke="#000" stroke-width="2" />
<line x1="217" y1="591.6" x2="208" y2="591.6" stroke="#000" stroke-width="2" />
<text x="51" y="597.2" font-size="15" text-anchor="end" fill="#000" stroke="#000" stroke-width="0.5" >0.8</text>
<line x1="57" y1="565.5" x2="66" y2="565.5" stroke="#000" stroke-width="2" />
<line x1="217" y1="565.5" x2="208" y2="565.5" stroke="#000" stroke-width="2" />
<text x="51" y="571.1" font-size="15" text-anchor="end" fill="#000" stroke="#000" stroke-width="0.5" >1</text>
<text x="137" y="737.8" font-size="15" text-anchor="middle" fill="#000" stroke="#000" stroke-width="0.5" textLength="89" lengthAdjust="spacingAndGlyphs" >Position (nm)</text>
<text x="22.5" y="680" font-size="15" text-anchor="start" fill="#000" stroke="#000" stroke-width="0.5" transform="rotate(-90 22.5 680)" textLength="113" lengthAdjust="spacingAndGlyphs" >Relative intensity</text>
<text x="12.5" y="526" font-size="16.5" text-anchor="start" fill="#000" font-weight="bold" >(f)</text>
<clipPath id="clipF"><rect x="58" y="546" width="158" height="156"/></clipPath><g clip-path="url(#clipF)">
<path d="M57.2 574.6 L58.2 574.6 L59.7 573.1 L61.4 571.8 L63.1 571.5 L64.6 570.9 L66.2 569.4 L67.8 568.9 L69.6 569.1 L71.6 568.2 L73.8 566.7 L75.9 566.2 L77.8 566.2 L79.2 565.6 L80.3 565.4 L81.4 566.5 L82.7 566.9 L84.2 566.1 L85.8 565.8 L87.4 566.3 L89.2 566 L91.3 565.3 L93.5 565.7 L95.7 566.4 L97.4 566.1 L98.6 565.7 L99.4 566.5 L100.1 567.4 L100.7 567.5 L101.2 568.3 L101.6 570.1 L101.9 571.4 L102.3 572.5 L102.7 575.1 L103.1 578.7 L103.5 581.7 L103.9 585 L104.5 590.2 L105 595.2 L105.6 600.3 L106.2 605.4 L106.8 610.4 L107.5 615.4 L108.1 620.3 L108.8 625 L109.6 629.4 L110.4 633.6 L111.3 637.6 L112.1 641.3 L112.9 644.9 L113.6 648.2 L114.4 651.3 L115.4 654.4 L116.5 657.5 L117.6 660.5 L118.9 663.4 L120.3 665.9 L121.8 667.9 L123.3 669.5 L125 671 L126.8 672.4 L128.7 673.8 L130.7 675 L132.8 676.2 L135 677.3 L137.3 678.4 L139.6 679.4 L142.1 680.4 L144.8 681.2 L147.8 681.9 L150.9 682.4 L154.3 682.8 L157.9 683.2 L161.7 683.4 L165.6 683.5 L169.8 683.6 L174.2 683.8 L178.9 684.2 L183.7 684.7 L188.7 685.1 L193.8 685.5 L199.5 685.7 L205.7 685.9 L211.2 686 L215.1 686.1" stroke="#2f7de0" stroke-width="2.4" fill="none" stroke-linejoin="round" stroke-linecap="round" />
<path d="M57.2 572.9 L58.9 572.9 L61.4 571.3 L64 569.9 L66.3 569.6 L68.2 568.8 L69.8 567.3 L71.3 566.8 L72.9 567.2 L74.5 566.8 L76.2 566.1 L77.8 566.4 L79.4 566.9 L81 566.2 L82.6 565.6 L84.2 566.2 L86 566.3 L87.9 565.3 L90 564.9 L92.2 565.4 L94.1 565 L95.9 564.1 L97.6 564.1 L99.2 564.4 L100.7 563.8 L102 563.3 L103.2 564.1 L104.4 565 L105.6 565.2 L106.8 566.3 L108 567.9 L109.3 569.4 L110.5 571.1 L111.7 572.9 L112.9 574.9 L114.2 577 L115.4 579.2 L116.6 581.5 L117.8 583.9 L119.1 586.4 L120.3 589 L121.5 591.7 L122.7 594.6 L124 597.5 L125.2 600.5 L126.4 603.7 L127.6 607 L128.9 610.4 L130.1 613.6 L131.3 616.5 L132.5 619.3 L133.8 622.1 L135 625 L136.2 628.2 L137.4 631.5 L138.7 634.9 L139.9 638.1 L141.1 641.1 L142.4 644 L143.6 646.8 L144.8 649.5 L146 652.1 L147.3 654.6 L148.5 657 L149.7 659.3 L150.9 661.5 L152.2 663.6 L153.4 665.6 L154.6 667.5 L155.8 669.3 L157 670.9 L158.2 672.5 L159.5 674 L161 675.6 L162.6 677.2 L164.3 678.6 L166.1 679.9 L167.9 681 L169.7 681.8 L171.8 682.6 L174.2 683.2 L176.8 683.6 L179.5 683.9 L182.9 684.2 L187.3 684.5 L193.9 684.9 L202 685.4 L209.7 685.8 L215.1 686.1" stroke="#dc3a14" stroke-width="2.4" fill="none" stroke-linejoin="round" stroke-linecap="round" />
<path d="M57.2 581.1 L58.8 581.2 L61.2 579.9 L63.8 578.8 L66.3 578.7 L68.8 578.2 L71.2 576.9 L73.7 576.6 L76.2 577 L78.6 576.4 L81.1 575.2 L83.5 575.1 L86 575.1 L88.4 573.9 L90.9 572.8 L93.3 573 L95.8 572.8 L98.2 571.9 L100.7 571.8 L103.1 572.5 L105.6 572.2 L108.1 571.2 L110.8 571.1 L113.3 571.1 L115.4 570 L116.9 568.6 L118 568.3 L119.1 568 L120.3 566.8 L121.8 566.6 L123.6 567.5 L125.3 567.5 L126.8 566.6 L128.2 566.3 L129.4 566.4 L130.5 565.5 L131.7 564.7 L133 565.4 L134.2 566.2 L135.4 566 L136.6 566 L137.9 566.5 L139.1 566.2 L140.4 565.1 L141.5 565.1 L142.6 566.3 L143.6 566.9 L144.6 567.4 L145.5 569.3 L146.2 570.7 L146.8 572.1 L147.4 573.8 L148.1 576 L148.8 578.6 L149.7 581.7 L150.5 585.2 L151.3 589 L152.2 593.4 L153 598.2 L153.8 603.4 L154.6 608.6 L155.4 614.2 L156.2 620.1 L157.1 626 L157.9 631.5 L158.7 636.7 L159.4 641.7 L160.2 646.6 L161.1 651.1 L162.3 655.7 L163.5 660 L164.8 664.1 L166.1 667.5 L167.2 670.2 L168.4 672.3 L169.6 674 L171 675.7 L172.4 677.2 L173.9 678.5 L175.6 679.6 L177.5 680.6 L179.6 681.4 L182 682 L184.5 682.6 L187.3 683.2 L190.3 683.8 L193.5 684.4 L196.9 685 L200.4 685.5 L204.3 686 L208.5 686.4 L212.4 686.8 L215.1 687.1" stroke="#e8b41c" stroke-width="2.4" fill="none" stroke-linejoin="round" stroke-linecap="round" />
</g>
<line x1="157.5" y1="565.5" x2="165.5" y2="565.5" stroke="#2f7de0" stroke-width="2.4" />
<line x1="157.5" y1="582.2" x2="165.5" y2="582.2" stroke="#dc3a14" stroke-width="2.4" />
<line x1="157.5" y1="600.7" x2="168" y2="600.7" stroke="#e8b41c" stroke-width="2.4" />
<text x="205" y="570.5" font-size="15" text-anchor="end" fill="#000" stroke="#000" stroke-width="0.5" textLength="34" lengthAdjust="spacingAndGlyphs" >-2 ns</text>
<text x="205" y="587.5" font-size="15" text-anchor="end" fill="#000" stroke="#000" stroke-width="0.5" textLength="28" lengthAdjust="spacingAndGlyphs" >0 ns</text>
<text x="205" y="605" font-size="15" text-anchor="end" fill="#000" stroke="#000" stroke-width="0.5" textLength="37" lengthAdjust="spacingAndGlyphs" >+2 ns</text></g>
<g id="panelG"><line x1="305.2" y1="545" x2="465.3" y2="545" stroke="#000" stroke-width="2" />
<line x1="305.2" y1="702.6" x2="465.3" y2="702.6" stroke="#000" stroke-width="2" />
<line x1="306.2" y1="544" x2="306.2" y2="703.6" stroke="#2f7de0" stroke-width="2" />
<line x1="464.3" y1="544" x2="464.3" y2="703.6" stroke="#d8380f" stroke-width="2" />
<line x1="329" y1="702.6" x2="329" y2="693.6" stroke="#000" stroke-width="2" />
<line x1="329" y1="545" x2="329" y2="554" stroke="#000" stroke-width="2" />
<line x1="351.6" y1="702.6" x2="351.6" y2="693.6" stroke="#000" stroke-width="2" />
<line x1="351.6" y1="545" x2="351.6" y2="554" stroke="#000" stroke-width="2" />
<line x1="374.2" y1="702.6" x2="374.2" y2="693.6" stroke="#000" stroke-width="2" />
<line x1="374.2" y1="545" x2="374.2" y2="554" stroke="#000" stroke-width="2" />
<line x1="396.8" y1="702.6" x2="396.8" y2="693.6" stroke="#000" stroke-width="2" />
<line x1="396.8" y1="545" x2="396.8" y2="554" stroke="#000" stroke-width="2" />
<line x1="419.4" y1="702.6" x2="419.4" y2="693.6" stroke="#000" stroke-width="2" />
<line x1="419.4" y1="545" x2="419.4" y2="554" stroke="#000" stroke-width="2" />
<line x1="442" y1="702.6" x2="442" y2="693.6" stroke="#000" stroke-width="2" />
<line x1="442" y1="545" x2="442" y2="554" stroke="#000" stroke-width="2" />
<text x="351.6" y="719" font-size="15" text-anchor="middle" fill="#000" stroke="#000" stroke-width="0.5" >0</text>
<text x="396.8" y="719" font-size="15" text-anchor="middle" fill="#000" stroke="#000" stroke-width="0.5" >4</text>
<text x="442" y="719" font-size="15" text-anchor="middle" fill="#000" stroke="#000" stroke-width="0.5" >8</text>
<text x="384" y="737.8" font-size="15" text-anchor="middle" fill="#000" stroke="#000" stroke-width="0.5" textLength="68" lengthAdjust="spacingAndGlyphs" >Delay (ns)</text>
<line x1="306.2" y1="695.5" x2="315.2" y2="695.5" stroke="#2f7de0" stroke-width="2" />
<text x="298" y="701.1" font-size="15" text-anchor="end" fill="#2f7de0" stroke="#2f7de0" stroke-width="0.5" >3</text>
<line x1="306.2" y1="666.8" x2="315.2" y2="666.8" stroke="#2f7de0" stroke-width="2" />
<text x="298" y="672.4" font-size="15" text-anchor="end" fill="#2f7de0" stroke="#2f7de0" stroke-width="0.5" >4</text>
<line x1="306.2" y1="638" x2="315.2" y2="638" stroke="#2f7de0" stroke-width="2" />
<text x="298" y="643.6" font-size="15" text-anchor="end" fill="#2f7de0" stroke="#2f7de0" stroke-width="0.5" >5</text>
<line x1="306.2" y1="609.2" x2="315.2" y2="609.2" stroke="#2f7de0" stroke-width="2" />
<text x="298" y="614.9" font-size="15" text-anchor="end" fill="#2f7de0" stroke="#2f7de0" stroke-width="0.5" >6</text>
<line x1="306.2" y1="580.5" x2="315.2" y2="580.5" stroke="#2f7de0" stroke-width="2" />
<text x="298" y="586.1" font-size="15" text-anchor="end" fill="#2f7de0" stroke="#2f7de0" stroke-width="0.5" >7</text>
<line x1="306.2" y1="551.8" x2="315.2" y2="551.8" stroke="#2f7de0" stroke-width="2" />
<text x="298" y="557.4" font-size="15" text-anchor="end" fill="#2f7de0" stroke="#2f7de0" stroke-width="0.5" >8</text>
<line x1="464.3" y1="679.5" x2="455.3" y2="679.5" stroke="#d8380f" stroke-width="2" />
<text x="471.5" y="685.1" font-size="15" text-anchor="start" fill="#d8380f" stroke="#d8380f" stroke-width="0.5" >0</text>
<line x1="464.3" y1="649.7" x2="455.3" y2="649.7" stroke="#d8380f" stroke-width="2" />
<text x="471.5" y="655.3" font-size="15" text-anchor="start" fill="#d8380f" stroke="#d8380f" stroke-width="0.5" >5</text>
<line x1="464.3" y1="619.9" x2="455.3" y2="619.9" stroke="#d8380f" stroke-width="2" />
<text x="471.5" y="625.5" font-size="15" text-anchor="start" fill="#d8380f" stroke="#d8380f" stroke-width="0.5" >10</text>
<line x1="464.3" y1="590.1" x2="455.3" y2="590.1" stroke="#d8380f" stroke-width="2" />
<text x="471.5" y="595.7" font-size="15" text-anchor="start" fill="#d8380f" stroke="#d8380f" stroke-width="0.5" >15</text>
<line x1="464.3" y1="560.3" x2="455.3" y2="560.3" stroke="#d8380f" stroke-width="2" />
<text x="471.5" y="565.9" font-size="15" text-anchor="start" fill="#d8380f" stroke="#d8380f" stroke-width="0.5" >20</text>
<text x="282.5" y="660" font-size="15" text-anchor="start" fill="#2f7de0" stroke="#2f7de0" stroke-width="0.5" transform="rotate(-90 282.5 660)" textLength="72" lengthAdjust="spacingAndGlyphs" >Width (nm)</text>
<text x="510.5" y="667.5" font-size="15" text-anchor="start" fill="#d8380f" stroke="#d8380f" stroke-width="0.5" transform="rotate(-90 510.5 667.5)" textLength="90" lengthAdjust="spacingAndGlyphs" >Position (nm)</text>
<text x="281" y="526" font-size="16.5" text-anchor="start" fill="#000" font-weight="bold" >(g)</text>
<clipPath id="clipG"><rect x="307.2" y="546" width="156" height="155.5"/></clipPath><g clip-path="url(#clipG)">
<path d="M340.3 639.3a1.15 1.15 0 1 0 2.3 0a1.15 1.15 0 1 0 -2.3 0M334 668.6a1.15 1.15 0 1 0 2.3 0a1.15 1.15 0 1 0 -2.3 0M360.1 630.9a1.15 1.15 0 1 0 2.3 0a1.15 1.15 0 1 0 -2.3 0M334.4 670.8a1.15 1.15 0 1 0 2.3 0a1.15 1.15 0 1 0 -2.3 0M359.1 625.4a1.15 1.15 0 1 0 2.3 0a1.15 1.15 0 1 0 -2.3 0M342 619.9a1.15 1.15 0 1 0 2.3 0a1.15 1.15 0 1 0 -2.3 0M341.3 619.8a1.15 1.15 0 1 0 2.3 0a1.15 1.15 0 1 0 -2.3 0M342.4 619.6a1.15 1.15 0 1 0 2.3 0a1.15 1.15 0 1 0 -2.3 0M364.4 662.3a1.15 1.15 0 1 0 2.3 0a1.15 1.15 0 1 0 -2.3 0M333.9 673.3a1.15 1.15 0 1 0 2.3 0a1.15 1.15 0 1 0 -2.3 0M366.8 673.6a1.15 1.15 0 1 0 2.3 0a1.15 1.15 0 1 0 -2.3 0M341.7 621.6a1.15 1.15 0 1 0 2.3 0a1.15 1.15 0 1 0 -2.3 0M366.9 669.8a1.15 1.15 0 1 0 2.3 0a1.15 1.15 0 1 0 -2.3 0M358.1 622.4a1.15 1.15 0 1 0 2.3 0a1.15 1.15 0 1 0 -2.3 0M354.8 573.5a1.15 1.15 0 1 0 2.3 0a1.15 1.15 0 1 0 -2.3 0M345.2 584.3a1.15 1.15 0 1 0 2.3 0a1.15 1.15 0 1 0 -2.3 0M339.1 641.6a1.15 1.15 0 1 0 2.3 0a1.15 1.15 0 1 0 -2.3 0M334.9 671.9a1.15 1.15 0 1 0 2.3 0a1.15 1.15 0 1 0 -2.3 0M344 602a1.15 1.15 0 1 0 2.3 0a1.15 1.15 0 1 0 -2.3 0M368.3 673.8a1.15 1.15 0 1 0 2.3 0a1.15 1.15 0 1 0 -2.3 0M335.9 660.4a1.15 1.15 0 1 0 2.3 0a1.15 1.15 0 1 0 -2.3 0M349.2 562.5a1.15 1.15 0 1 0 2.3 0a1.15 1.15 0 1 0 -2.3 0M353.9 576.5a1.15 1.15 0 1 0 2.3 0a1.15 1.15 0 1 0 -2.3 0M362.7 652.6a1.15 1.15 0 1 0 2.3 0a1.15 1.15 0 1 0 -2.3 0M363.5 651a1.15 1.15 0 1 0 2.3 0a1.15 1.15 0 1 0 -2.3 0M345.5 580.4a1.15 1.15 0 1 0 2.3 0a1.15 1.15 0 1 0 -2.3 0M341.7 625.5a1.15 1.15 0 1 0 2.3 0a1.15 1.15 0 1 0 -2.3 0M364.1 659.1a1.15 1.15 0 1 0 2.3 0a1.15 1.15 0 1 0 -2.3 0M346.7 576.5a1.15 1.15 0 1 0 2.3 0a1.15 1.15 0 1 0 -2.3 0M339.9 632.2a1.15 1.15 0 1 0 2.3 0a1.15 1.15 0 1 0 -2.3 0M368.6 676.4a1.15 1.15 0 1 0 2.3 0a1.15 1.15 0 1 0 -2.3 0M360.9 649.2a1.15 1.15 0 1 0 2.3 0a1.15 1.15 0 1 0 -2.3 0M334.1 671.2a1.15 1.15 0 1 0 2.3 0a1.15 1.15 0 1 0 -2.3 0M339.1 647.1a1.15 1.15 0 1 0 2.3 0a1.15 1.15 0 1 0 -2.3 0M366.9 664.7a1.15 1.15 0 1 0 2.3 0a1.15 1.15 0 1 0 -2.3 0M349.6 561.7a1.15 1.15 0 1 0 2.3 0a1.15 1.15 0 1 0 -2.3 0M367.1 672.7a1.15 1.15 0 1 0 2.3 0a1.15 1.15 0 1 0 -2.3 0M355.4 578.7a1.15 1.15 0 1 0 2.3 0a1.15 1.15 0 1 0 -2.3 0M337.9 656.5a1.15 1.15 0 1 0 2.3 0a1.15 1.15 0 1 0 -2.3 0M353.7 571.3a1.15 1.15 0 1 0 2.3 0a1.15 1.15 0 1 0 -2.3 0M333.6 672.2a1.15 1.15 0 1 0 2.3 0a1.15 1.15 0 1 0 -2.3 0M339.4 644.4a1.15 1.15 0 1 0 2.3 0a1.15 1.15 0 1 0 -2.3 0M361.1 638.5a1.15 1.15 0 1 0 2.3 0a1.15 1.15 0 1 0 -2.3 0M336.5 661.1a1.15 1.15 0 1 0 2.3 0a1.15 1.15 0 1 0 -2.3 0M355.7 585.7a1.15 1.15 0 1 0 2.3 0a1.15 1.15 0 1 0 -2.3 0M357.8 602.9a1.15 1.15 0 1 0 2.3 0a1.15 1.15 0 1 0 -2.3 0M343.3 605.6a1.15 1.15 0 1 0 2.3 0a1.15 1.15 0 1 0 -2.3 0M353.3 563a1.15 1.15 0 1 0 2.3 0a1.15 1.15 0 1 0 -2.3 0M363.6 659.5a1.15 1.15 0 1 0 2.3 0a1.15 1.15 0 1 0 -2.3 0M339.1 641.4a1.15 1.15 0 1 0 2.3 0a1.15 1.15 0 1 0 -2.3 0M332.2 676.5a1.15 1.15 0 1 0 2.3 0a1.15 1.15 0 1 0 -2.3 0M362.7 642.3a1.15 1.15 0 1 0 2.3 0a1.15 1.15 0 1 0 -2.3 0M349.1 560.6a1.15 1.15 0 1 0 2.3 0a1.15 1.15 0 1 0 -2.3 0M351.3 558.5a1.15 1.15 0 1 0 2.3 0a1.15 1.15 0 1 0 -2.3 0M335.2 663.8a1.15 1.15 0 1 0 2.3 0a1.15 1.15 0 1 0 -2.3 0M351 559.3a1.15 1.15 0 1 0 2.3 0a1.15 1.15 0 1 0 -2.3 0M351.1 559.8a1.15 1.15 0 1 0 2.3 0a1.15 1.15 0 1 0 -2.3 0M348.6 560.3a1.15 1.15 0 1 0 2.3 0a1.15 1.15 0 1 0 -2.3 0M340.5 645.8a1.15 1.15 0 1 0 2.3 0a1.15 1.15 0 1 0 -2.3 0M367.7 672.1a1.15 1.15 0 1 0 2.3 0a1.15 1.15 0 1 0 -2.3 0M308 674a1.15 1.15 0 1 0 2.3 0a1.15 1.15 0 1 0 -2.3 0M320.1 681.2a1.15 1.15 0 1 0 2.3 0a1.15 1.15 0 1 0 -2.3 0M331.5 674a1.15 1.15 0 1 0 2.3 0a1.15 1.15 0 1 0 -2.3 0M362.6 678.9a1.15 1.15 0 1 0 2.3 0a1.15 1.15 0 1 0 -2.3 0M364.2 680.6a1.15 1.15 0 1 0 2.3 0a1.15 1.15 0 1 0 -2.3 0M365.9 690.4a1.15 1.15 0 1 0 2.3 0a1.15 1.15 0 1 0 -2.3 0M368.2 691a1.15 1.15 0 1 0 2.3 0a1.15 1.15 0 1 0 -2.3 0M370.8 689.7a1.15 1.15 0 1 0 2.3 0a1.15 1.15 0 1 0 -2.3 0M373.4 687.8a1.15 1.15 0 1 0 2.3 0a1.15 1.15 0 1 0 -2.3 0M375.7 680.6a1.15 1.15 0 1 0 2.3 0a1.15 1.15 0 1 0 -2.3 0M377.3 677.3a1.15 1.15 0 1 0 2.3 0a1.15 1.15 0 1 0 -2.3 0M380.6 669.1a1.15 1.15 0 1 0 2.3 0a1.15 1.15 0 1 0 -2.3 0M383.2 671.4a1.15 1.15 0 1 0 2.3 0a1.15 1.15 0 1 0 -2.3 0M385.5 667.5a1.15 1.15 0 1 0 2.3 0a1.15 1.15 0 1 0 -2.3 0M387.1 663.6a1.15 1.15 0 1 0 2.3 0a1.15 1.15 0 1 0 -2.3 0M398.6 638.1a1.15 1.15 0 1 0 2.3 0a1.15 1.15 0 1 0 -2.3 0M410 661a1.15 1.15 0 1 0 2.3 0a1.15 1.15 0 1 0 -2.3 0M421.4 679.9a1.15 1.15 0 1 0 2.3 0a1.15 1.15 0 1 0 -2.3 0M432.9 683.8a1.15 1.15 0 1 0 2.3 0a1.15 1.15 0 1 0 -2.3 0M444.3 686.5a1.15 1.15 0 1 0 2.3 0a1.15 1.15 0 1 0 -2.3 0M455.1 687.1a1.15 1.15 0 1 0 2.3 0a1.15 1.15 0 1 0 -2.3 0" fill="#2f7de0"/>
<path d="M306.2 680 L306.7 680 L307.2 680 L307.7 680 L308.2 680 L308.7 680 L309.2 680 L309.7 680 L310.2 680 L310.7 680 L311.2 680 L311.7 680 L312.2 680 L312.7 680 L313.2 680 L313.7 680 L314.2 680 L314.7 680 L315.2 680 L315.7 680 L316.2 680 L316.7 680 L317.2 680 L317.7 680 L318.2 680 L318.7 680 L319.2 680 L319.7 680 L320.2 680 L320.7 680 L321.2 680 L321.7 680 L322.2 680 L322.7 680 L323.2 679.9 L323.7 679.9 L324.2 679.9 L324.7 679.9 L325.2 679.9 L325.7 679.8 L326.2 679.8 L326.7 679.7 L327.2 679.6 L327.7 679.5 L328.2 679.4 L328.7 679.2 L329.2 679 L329.7 678.8 L330.2 678.5 L330.7 678.2 L331.2 677.8 L331.7 677.3 L332.2 676.8 L332.7 676.1 L333.2 675.4 L333.7 674.5 L334.2 673.4 L334.7 672.2 L335.2 670.9 L335.7 669.4 L336.2 667.6 L336.7 665.7 L337.2 663.5 L337.7 661.1 L338.2 658.4 L338.7 655.5 L339.2 652.3 L339.7 648.9 L340.2 645.2 L340.7 641.2 L341.2 637 L341.7 632.6 L342.2 628 L342.7 623.2 L343.2 618.2 L343.7 613.2 L344.2 608.1 L344.7 602.9 L345.2 597.8 L345.7 592.8 L346.2 587.9 L346.7 583.2 L347.2 578.8 L347.7 574.7 L348.2 570.9 L348.7 567.5 L349.2 564.6 L349.7 562.2 L350.2 560.3 L350.7 558.9 L351.2 558.2 L351.7 558 L352.2 558.4 L352.7 559.4 L353.2 561 L353.7 563.1 L354.2 565.7 L354.7 568.8 L355.2 572.3 L355.7 576.3 L356.2 580.5 L356.7 585.1 L357.2 589.9 L357.7 594.8 L358.2 599.9 L358.7 605 L359.2 610.1 L359.7 615.2 L360.2 620.2 L360.7 625.1 L361.2 629.9 L361.7 634.4 L362.2 638.7 L362.7 642.8 L363.2 646.7 L363.7 650.3 L364.2 653.6 L364.7 656.7 L365.2 659.5 L365.7 662.1 L366.2 664.4 L366.7 666.5 L367.2 668.3 L367.7 670 L368.2 671.5 L368.7 672.7 L369.2 673.9 L369.7 674.8 L370.2 675.7 L370.7 676.4 L371.2 677 L371.7 677.5 L372.2 678 L372.7 678.3 L373.2 678.6 L373.7 678.9 L374.2 679.1 L374.7 679.3 L375.2 679.4 L375.7 679.6 L376.2 679.6 L376.7 679.7 L377.2 679.8 L377.7 679.8 L378.2 679.9 L378.7 679.9 L379.2 679.9 L379.7 679.9 L380.2 680 L380.7 680 L381.2 680 L381.7 680 L382.2 680 L382.7 680 L383.2 680 L383.7 680 L384.2 680 L384.7 680 L385.2 680 L385.7 680 L386.2 680 L386.7 680 L387.2 680 L387.7 680 L388.2 680 L388.7 680 L389.2 680 L389.7 680 L390.2 680 L390.7 680 L391.2 680 L391.7 680 L392.2 680 L392.7 680 L393.2 680 L393.7 680 L394.2 680 L394.7 680 L395.2 680 L395.7 680 L396.2 680 L396.7 680 L397.2 680 L397.7 680 L398.2 680 L398.7 680 L399.2 680 L399.7 680 L400.2 680 L400.7 680 L401.2 680 L401.7 680 L402.2 680 L402.7 680 L403.2 680 L403.7 680 L404.2 680 L404.7 680 L405.2 680 L405.7 680 L406.2 680 L406.7 680 L407.2 680 L407.7 680 L408.2 680 L408.7 680 L409.2 680 L409.7 680 L410.2 680 L410.7 680 L411.2 680 L411.7 680 L412.2 680 L412.7 680 L413.2 680 L413.7 680 L414.2 680 L414.7 680 L415.2 680 L415.7 680 L416.2 680 L416.7 680 L417.2 680 L417.7 680 L418.2 680 L418.7 680 L419.2 680 L419.7 680 L420.2 680 L420.7 680 L421.2 680 L421.7 680 L422.2 680 L422.7 680 L423.2 680 L423.7 680 L424.2 680 L424.7 680 L425.2 680 L425.7 680 L426.2 680 L426.7 680 L427.2 680 L427.7 680 L428.2 680 L428.7 680 L429.2 680 L429.7 680 L430.2 680 L430.7 680 L431.2 680 L431.7 680 L432.2 680 L432.7 680 L433.2 680 L433.7 680 L434.2 680 L434.7 680 L435.2 680 L435.7 680 L436.2 680 L436.7 680 L437.2 680 L437.7 680 L438.2 680 L438.7 680 L439.2 680 L439.7 680 L440.2 680 L440.7 680 L441.2 680 L441.7 680 L442.2 680 L442.7 680 L443.2 680 L443.7 680 L444.2 680 L444.7 680 L445.2 680 L445.7 680 L446.2 680 L446.7 680 L447.2 680 L447.7 680 L448.2 680 L448.7 680 L449.2 680 L449.7 680 L450.2 680 L450.7 680 L451.2 680 L451.7 680 L452.2 680 L452.7 680 L453.2 680 L453.7 680 L454.2 680 L454.7 680 L455.2 680 L455.7 680 L456.2 680 L456.7 680 L457.2 680 L457.7 680 L458.2 680 L458.7 680 L459.2 680 L459.7 680 L460.2 680 L460.7 680 L461.2 680 L461.7 680 L462.2 680 L462.7 680 L463.2 680 L463.7 680 L464.2 680" stroke="#2f7de0" stroke-width="2.2" fill="none" stroke-linejoin="round" stroke-linecap="round" />
<path d="M306.5 680.6 L309.4 680.6 L313.5 680.6 L318.2 680.7 L322.6 680.7 L326.2 680.6 L328.6 680.4 L330.4 680.2 L331.8 679.9 L333.1 679.5 L334.3 678.9 L335.5 678.3 L336.5 677.6 L337.4 676.7 L338.3 675.6 L339.2 674 L340.2 672.1 L341.2 669.9 L342.2 667.3 L343.2 664.3 L344.1 661 L345.1 657.1 L346.1 652.8 L347.1 648.2 L348.1 643.2 L349 638.1 L350 632.6 L351 626.6 L352 620.5 L353 614.4 L353.9 608.6 L354.9 603 L355.9 597.3 L356.9 591.9 L357.9 586.8 L358.8 582.5 L359.8 578.9 L360.9 575.9 L361.9 573.4 L362.9 571.3 L363.7 569.4 L364.5 567.9 L365.2 566.7 L365.8 565.8 L366.4 565.1 L367 564.5 L367.7 564 L368.3 563.6 L369 563.4 L369.6 563.3 L370.3 563.2 L371 563.3 L371.6 563.5 L372.3 563.8 L373 564.1 L373.6 564.2 L374 564.1 L374.4 563.7 L374.8 563.4 L375.3 563.3 L375.8 563.5 L376.6 564.2 L377.4 565.2 L378.3 566.5 L379.2 567.9 L380.1 569.4 L381 571.1 L382 573 L383 575 L384 577.1 L385 579.2 L386 581.4 L387 583.5 L387.9 585.8 L388.9 588.1 L389.9 590.7 L390.9 593.4 L391.9 596.2 L392.8 599.2 L393.8 602.3 L394.8 605.4 L395.8 608.6 L396.8 611.9 L397.7 615.2 L398.7 618.5 L399.7 621.7 L400.7 624.8 L401.7 627.8 L402.6 630.7 L403.6 633.6 L404.6 636.4 L405.6 639.2 L406.6 642 L407.6 644.7 L408.5 647.2 L409.5 649.5 L410.5 651.5 L411.4 653.1 L412.3 654.7 L413.3 656.1 L414.4 657.7 L415.6 659.3 L416.8 661 L418 662.7 L419.4 664.3 L421 665.9 L422.7 667.3 L424.6 668.7 L426.7 670.1 L428.7 671.3 L430.8 672.4 L432.7 673.3 L434.7 673.9 L436.6 674.5 L438.6 675.1 L440.6 675.7 L442.5 676.3 L444.3 677 L446.2 677.7 L448.2 678.3 L450.4 678.9 L453 679.5 L456 680 L459 680.5 L461.6 680.9 L463.5 681.2" stroke="#d8380f" stroke-width="2.4" fill="none" stroke-linejoin="round" stroke-linecap="round" />
</g>
<line x1="318" y1="624" x2="335" y2="624" stroke="#2f7de0" stroke-width="1.8" />
<path d="M342 624 L334 627.4 L334 620.6 Z" fill="#2f7de0"/>
<line x1="368" y1="624" x2="447" y2="624" stroke="#2f7de0" stroke-width="1.8" />
<path d="M361 624 L369 620.6 L369 627.4 Z" fill="#2f7de0"/>
<text x="404.6" y="619.5" font-size="15" text-anchor="start" fill="#2f7de0" font-weight="bold" textLength="42" lengthAdjust="spacingAndGlyphs" >1.3 ns</text></g>
<g id="panelH"><text x="260" y="799" font-size="17" text-anchor="middle" fill="#000" font-weight="bold" textLength="238" lengthAdjust="spacingAndGlyphs" >Femtosecond electron pulses</text>
<text x="12.5" y="835" font-size="16.5" text-anchor="start" fill="#000" font-weight="bold" >(h)</text>
<text x="157" y="834" font-size="15" text-anchor="middle" fill="#000" stroke="#000" stroke-width="0.5" textLength="104" lengthAdjust="spacingAndGlyphs" >Energy loss (eV)</text>
<text x="80.5" y="854.5" font-size="15" text-anchor="middle" fill="#000" stroke="#000" stroke-width="0.6" >-4</text>
<text x="119.1" y="854.5" font-size="15" text-anchor="middle" fill="#000" stroke="#000" stroke-width="0.6" >-2</text>
<text x="159.6" y="854.5" font-size="15" text-anchor="middle" fill="#000" stroke="#000" stroke-width="0.6" >0</text>
<text x="198.2" y="854.5" font-size="15" text-anchor="middle" fill="#000" stroke="#000" stroke-width="0.6" >2</text>
<text x="236.8" y="854.5" font-size="15" text-anchor="middle" fill="#000" stroke="#000" stroke-width="0.6" >4</text>
<text x="17.7" y="1010.8" font-size="15" text-anchor="start" fill="#000" stroke="#000" stroke-width="0.5" transform="rotate(-90 17.7 1010.8)" textLength="62.3" lengthAdjust="spacingAndGlyphs" >Delay (fs)</text>
<rect x="31.3" y="860" width="252.7" height="239.8" fill="#000"/>
<g clip-path="url(#clipH)"><g filter="url(#hblur)">
<path d="M115.3 860h93.7v3h-93.7zM112 863h95.9v3h-95.9zM116.4 866h87.2v3h-87.2zM118.3 869h84.6v3h-84.6zM110.6 872h94.6v3h-94.6zM109.5 875h90v3h-90zM108.1 878h91.8v3h-91.8zM111.5 881h97v3h-97zM109.6 884h98.2v3h-98.2zM111.3 887h90.9v3h-90.9zM103.8 890h102.4v3h-102.4zM107 893h95.2v3h-95.2zM101.4 896h106.9v3h-106.9zM102.5 899h103.3v3h-103.3zM102.2 902h102.2v3h-102.2zM95.4 905h112.2v3h-112.2zM96.5 908h114.5v3h-114.5zM94.7 911h119.7v3h-119.7zM93.3 914h121.5v3h-121.5zM94.2 917h123.3v3h-123.3zM88.3 920h129.4v3h-129.4zM84.2 922.9h136v3h-136zM84.6 925.9h136v3h-136zM84.7 928.9h143.1v3h-143.1zM83.8 931.9h141.4v3h-141.4zM77.5 934.9h146.8v3h-146.8zM77.4 937.9h147.4v3h-147.4zM74.9 940.9h155v3h-155zM76.7 943.9h156.8v3h-156.8zM74 946.9h157.5v3h-157.5zM74.5 949.9h155.6v3h-155.6zM74.1 952.9h157.7v3h-157.7zM71.7 955.9h162.1v3h-162.1zM80.3 958.9h155.9v3h-155.9zM74.5 961.9h160v3h-160zM81.3 964.9h156.7v3h-156.7zM77.5 967.9h156.1v3h-156.1zM80.3 970.9h154.7v3h-154.7zM81 973.9h154.1v3h-154.1zM85.5 976.9h155.1v3h-155.1zM85.9 979.9h155.2v3h-155.2zM84.7 982.9h148.4v3h-148.4zM92.5 985.9h149.8v3h-149.8zM95.6 988.9h140v3h-140zM97.2 991.9h144.1v3h-144.1zM94 994.9h147.8v3h-147.8zM97.1 997.9h142.2v3h-142.2zM101.1 1000.9h135.7v3h-135.7zM101 1003.9h142.7v3h-142.7zM105.4 1006.9h130v3h-130zM109.4 1009.9h128.7v3h-128.7zM106.2 1012.9h133.1v3h-133.1zM112.3 1015.9h122.6v3h-122.6zM114.2 1018.9h123.2v3h-123.2zM111.5 1021.9h125.6v3h-125.6zM109.9 1024.9h127.8v3h-127.8zM111.7 1027.9h120.1v3h-120.1zM111.7 1030.9h123.8v3h-123.8zM116.6 1033.9h111.2v3h-111.2zM115.2 1036.9h111.9v3h-111.9zM119.5 1039.8h105.3v3h-105.3zM112.4 1042.8h109.4v3h-109.4zM109.5 1045.8h111.2v3h-111.2zM118 1048.8h104.6v3h-104.6zM117.5 1051.8h101.8v3h-101.8zM113.2 1054.8h103.5v3h-103.5zM115.5 1057.8h101.5v3h-101.5zM112.3 1060.8h106v3h-106zM110.9 1063.8h107.3v3h-107.3zM115.3 1066.8h100.9v3h-100.9zM113.4 1069.8h101.3v3h-101.3zM114.5 1072.8h102.3v3h-102.3zM111 1075.8h100.2v3h-100.2zM111.1 1078.8h105.1v3h-105.1zM113.5 1081.8h97v3h-97zM115.5 1084.8h99.5v3h-99.5zM118 1087.8h98v3h-98zM119.2 1090.8h100.5v3h-100.5zM114.6 1093.8h100.4v3h-100.4zM112.5 1096.8h103.5v3h-103.5z" fill="#1c0000"/>
<path d="M115.7 860h89.3v3h-89.3zM114.2 863h90.5v3h-90.5zM118.4 866h83.8v3h-83.8zM116.7 869h85.2v3h-85.2zM114 872h88v3h-88zM114.3 875h86.9v3h-86.9zM114.2 878h87.6v3h-87.6zM115.2 881h87.6v3h-87.6zM113.2 884h93v3h-93zM114.5 887h86v3h-86zM111.4 890h91.7v3h-91.7zM108.9 893h93.8v3h-93.8zM108.2 896h98.4v3h-98.4zM106.7 899h98.6v3h-98.6zM104.9 902h101.8v3h-101.8zM102.9 905h103.1v3h-103.1zM103 908h107.2v3h-107.2zM99.3 911h112v3h-112zM98.9 914h113.7v3h-113.7zM99.9 917h114v3h-114zM97.3 920h118.5v3h-118.5zM92 922.9h125.7v3h-125.7zM92.1 925.9h126.7v3h-126.7zM92.5 928.9h129.2v3h-129.2zM92.1 931.9h131.3v3h-131.3zM86.8 934.9h132.6v3h-132.6zM89.3 937.9h131.7v3h-131.7zM85.9 940.9h139.9v3h-139.9zM85.8 943.9h141.6v3h-141.6zM83.1 946.9h143.4v3h-143.4zM83.8 949.9h141.4v3h-141.4zM84.4 952.9h141.1v3h-141.1zM82.4 955.9h144.5v3h-144.5zM88.4 958.9h140.7v3h-140.7zM85.8 961.9h144.3v3h-144.3zM90.6 964.9h141.7v3h-141.7zM88.9 967.9h138.3v3h-138.3zM87.7 970.9h142.7v3h-142.7zM90 973.9h140.2v3h-140.2zM93.3 976.9h138.2v3h-138.2zM94.7 979.9h137.3v3h-137.3zM94.2 982.9h133.5v3h-133.5zM98 985.9h134.4v3h-134.4zM99.8 988.9h132.1v3h-132.1zM103.6 991.9h127.6v3h-127.6zM102.5 994.9h129.6v3h-129.6zM105.5 997.9h124.8v3h-124.8zM106.7 1000.9h122.5v3h-122.5zM108.5 1003.9h125.6v3h-125.6zM112.3 1006.9h118.4v3h-118.4zM111.3 1009.9h120.1v3h-120.1zM113.5 1012.9h119.9v3h-119.9zM114.2 1015.9h116.1v3h-116.1zM115.3 1018.9h116.1v3h-116.1zM113.4 1021.9h116.1v3h-116.1zM113.2 1024.9h118.3v3h-118.3zM113.3 1027.9h113.7v3h-113.7zM113.6 1030.9h115.4v3h-115.4zM118.3 1033.9h106.2v3h-106.2zM115.5 1036.9h109.2v3h-109.2zM117.1 1039.8h105.4v3h-105.4zM115.4 1042.8h106.8v3h-106.8zM114.5 1045.8h103.7v3h-103.7zM117.8 1048.8h100.7v3h-100.7zM117.1 1051.8h97.4v3h-97.4zM113.4 1054.8h101.7v3h-101.7zM116.2 1057.8h97.2v3h-97.2zM116.3 1060.8h98.6v3h-98.6zM118.1 1063.8h96.5v3h-96.5zM117.8 1066.8h96v3h-96zM116.6 1069.8h98.2v3h-98.2zM116.7 1072.8h97.4v3h-97.4zM114.4 1075.8h98.5v3h-98.5zM116.9 1078.8h95.5v3h-95.5zM116.8 1081.8h93.6v3h-93.6zM118.7 1084.8h94.6v3h-94.6zM116.7 1087.8h96.4v3h-96.4zM119.6 1090.8h95.3v3h-95.3zM115.7 1093.8h97.5v3h-97.5zM114.4 1096.8h98.9v3h-98.9z" fill="#3a0000"/>
<path d="M119.2 860h82.3v3h-82.3zM117.7 863h83.5v3h-83.5zM121.9 866h76.8v3h-76.8zM120.2 869h78.2v3h-78.2zM117.5 872h81v3h-81zM117.8 875h79.9v3h-79.9zM117.7 878h80.6v3h-80.6zM118.7 881h80.6v3h-80.6zM116.7 884h86v3h-86zM118 887h79v3h-79zM114.9 890h84.7v3h-84.7zM112.4 893h86.8v3h-86.8zM111.7 896h91.4v3h-91.4zM110.2 899h91.6v3h-91.6zM108.4 902h94.8v3h-94.8zM106.4 905h96.1v3h-96.1zM106.5 908h100.2v3h-100.2zM102.8 911h105v3h-105zM102.4 914h106.7v3h-106.7zM103.4 917h107v3h-107zM100.8 920h111.5v3h-111.5zM95.5 922.9h118.7v3h-118.7zM95.6 925.9h119.7v3h-119.7zM96 928.9h122.2v3h-122.2zM95.6 931.9h124.3v3h-124.3zM90.3 934.9h125.6v3h-125.6zM92.8 937.9h124.7v3h-124.7zM89.4 940.9h132.9v3h-132.9zM89.3 943.9h134.6v3h-134.6zM86.6 946.9h136.4v3h-136.4zM87.3 949.9h134.4v3h-134.4zM87.9 952.9h134.1v3h-134.1zM85.9 955.9h137.5v3h-137.5zM91.9 958.9h133.7v3h-133.7zM89.3 961.9h137.3v3h-137.3zM94.1 964.9h134.7v3h-134.7zM92.4 967.9h131.2v3h-131.2zM91.2 970.9h135.7v3h-135.7zM93.5 973.9h133.2v3h-133.2zM96.8 976.9h131.1v3h-131.1zM98.2 979.9h130.3v3h-130.3zM97.7 982.9h126.4v3h-126.4zM101.5 985.9h127.3v3h-127.3zM103.3 988.9h124.9v3h-124.9zM107.1 991.9h120.4v3h-120.4zM106 994.9h122.4v3h-122.4zM109 997.9h117.4v3h-117.4zM110.2 1000.9h115v3h-115zM112 1003.9h118v3h-118zM115.8 1006.9h110.7v3h-110.7zM114.8 1009.9h112.2v3h-112.2zM117 1012.9h111.8v3h-111.8zM117.7 1015.9h107.7v3h-107.7zM118.8 1018.9h107.4v3h-107.4zM116.9 1021.9h107.1v3h-107.1zM116.7 1024.9h108.9v3h-108.9zM116.8 1027.9h103.8v3h-103.8zM117.1 1030.9h104.9v3h-104.9zM121.8 1033.9h95.3v3h-95.3zM119 1036.9h97.7v3h-97.7zM120.6 1039.8h93.4v3h-93.4zM118.9 1042.8h94.3v3h-94.3zM118 1045.8h90.8v3h-90.8zM121.3 1048.8h87.4v3h-87.4zM120.6 1051.8h83.8v3h-83.8zM116.9 1054.8h87.8v3h-87.8zM119.7 1057.8h83v3h-83zM119.8 1060.8h84.2v3h-84.2zM121.6 1063.8h81.9v3h-81.9zM121.3 1066.8h81.2v3h-81.2zM120.1 1069.8h83.3v3h-83.3zM120.2 1072.8h82.5v3h-82.5zM117.9 1075.8h83.5v3h-83.5zM120.4 1078.8h80.4v3h-80.4zM120.3 1081.8h78.5v3h-78.5zM122.2 1084.8h79.4v3h-79.4zM120.2 1087.8h81.2v3h-81.2zM123.1 1090.8h80.2v3h-80.2zM119.2 1093.8h82.3v3h-82.3zM117.9 1096.8h83.7v3h-83.7z" fill="#a00a04"/>
<path d="M122.7 860h75.3v3h-75.3zM121.2 863h76.5v3h-76.5zM125.4 866h69.8v3h-69.8zM123.7 869h71.2v3h-71.2zM121 872h74v3h-74zM121.3 875h72.9v3h-72.9zM121.2 878h73.6v3h-73.6zM122.2 881h73.6v3h-73.6zM120.2 884h79v3h-79zM121.5 887h72v3h-72zM118.4 890h77.7v3h-77.7zM115.9 893h79.8v3h-79.8zM115.2 896h84.4v3h-84.4zM113.7 899h84.6v3h-84.6zM111.9 902h87.8v3h-87.8zM109.9 905h89.1v3h-89.1zM110 908h93.2v3h-93.2zM106.3 911h98v3h-98zM105.9 914h99.7v3h-99.7zM106.9 917h100v3h-100zM104.3 920h104.5v3h-104.5zM99 922.9h111.7v3h-111.7zM99.1 925.9h112.7v3h-112.7zM99.5 928.9h115.2v3h-115.2zM99.1 931.9h117.3v3h-117.3zM93.8 934.9h118.6v3h-118.6zM96.3 937.9h117.7v3h-117.7zM92.9 940.9h125.9v3h-125.9zM92.8 943.9h127.6v3h-127.6zM90.1 946.9h129.4v3h-129.4zM90.8 949.9h127.4v3h-127.4zM91.4 952.9h127.1v3h-127.1zM89.4 955.9h130.5v3h-130.5zM95.4 958.9h126.6v3h-126.6zM92.8 961.9h130.3v3h-130.3zM97.6 964.9h127.7v3h-127.7zM95.9 967.9h124.2v3h-124.2zM94.7 970.9h128.7v3h-128.7zM97 973.9h126.1v3h-126.1zM100.3 976.9h124.1v3h-124.1zM101.7 979.9h123.2v3h-123.2zM101.2 982.9h119.4v3h-119.4zM105 985.9h120.2v3h-120.2zM106.8 988.9h117.8v3h-117.8zM110.6 991.9h113.3v3h-113.3zM109.5 994.9h115.3v3h-115.3zM112.5 997.9h110.3v3h-110.3zM113.7 1000.9h107.9v3h-107.9zM115.5 1003.9h110.8v3h-110.8zM119.3 1006.9h103.4v3h-103.4zM118.3 1009.9h104.9v3h-104.9zM120.5 1012.9h104.5v3h-104.5zM121.2 1015.9h100.3v3h-100.3zM122.3 1018.9h99.9v3h-99.9zM120.4 1021.9h99.4v3h-99.4zM120.2 1024.9h101v3h-101zM120.3 1027.9h95.8v3h-95.8zM120.6 1030.9h96.8v3h-96.8zM125.3 1033.9h87v3h-87zM122.5 1036.9h89.3v3h-89.3zM124.1 1039.8h84.8v3h-84.8zM122.4 1042.8h85.5v3h-85.5zM121.5 1045.8h81.8v3h-81.8zM124.8 1048.8h78.3v3h-78.3zM124.1 1051.8h74.6v3h-74.6zM120.4 1054.8h78.5v3h-78.5zM123.2 1057.8h73.6v3h-73.6zM123.3 1060.8h74.7v3h-74.7zM125.1 1063.8h72.4v3h-72.4zM124.8 1066.8h71.7v3h-71.7zM123.6 1069.8h73.7v3h-73.7zM123.7 1072.8h72.8v3h-72.8zM121.4 1075.8h73.8v3h-73.8zM123.9 1078.8h70.8v3h-70.8zM123.8 1081.8h68.8v3h-68.8zM125.7 1084.8h69.7v3h-69.7zM123.7 1087.8h71.5v3h-71.5zM126.6 1090.8h70.4v3h-70.4zM122.7 1093.8h72.6v3h-72.6zM121.4 1096.8h74v3h-74z" fill="#ff2814"/>
<path d="M130.8 860h57.6v3h-57.6zM130.9 863h57v3h-57zM131.5 866h57.1v3h-57.1zM131.6 869h55.4v3h-55.4zM130.8 872h58.5v3h-58.5zM131.3 875h56.5v3h-56.5zM131.1 878h58.2v3h-58.2zM129.6 881h57.3v3h-57.3zM130.8 884h57.6v3h-57.6zM130.8 887h58v3h-58zM129.1 890h58.7v3h-58.7zM130 893h58.2v3h-58.2zM130.8 896h57.5v3h-57.5zM131.1 899h56.7v3h-56.7zM130.1 902h58.2v3h-58.2zM130.9 905h58v3h-58zM130.4 908h58.1v3h-58.1zM131.7 911h56v3h-56zM132.5 914h55.9v3h-55.9zM131.3 917h56.9v3h-56.9zM131.5 920h57.7v3h-57.7zM132.2 922.9h53.8v3h-53.8zM132.2 925.9h55.1v3h-55.1zM132 928.9h55.1v3h-55.1zM131.1 931.9h55.5v3h-55.5zM131.7 934.9h55.8v3h-55.8zM132.3 937.9h53.7v3h-53.7zM132.1 940.9h53.8v3h-53.8zM134.1 943.9h50.7v3h-50.7zM134.8 946.9h50.5v3h-50.5zM134.5 949.9h49.2v3h-49.2zM136.1 952.9h48.6v3h-48.6zM134.3 955.9h50.7v3h-50.7zM135.1 958.9h49.2v3h-49.2zM135.6 961.9h49.2v3h-49.2zM135.9 964.9h47.1v3h-47.1zM136.7 967.9h45v3h-45zM136.8 970.9h46.5v3h-46.5zM137.6 973.9h44.6v3h-44.6zM135.9 976.9h47.4v3h-47.4zM136.1 979.9h46.3v3h-46.3zM136.5 982.9h45.8v3h-45.8zM134.8 985.9h49.3v3h-49.3zM135.9 988.9h47.2v3h-47.2zM137.7 991.9h44.6v3h-44.6zM135.9 994.9h46.3v3h-46.3zM135 997.9h48.5v3h-48.5zM134.6 1000.9h50.2v3h-50.2zM135.1 1003.9h49.4v3h-49.4zM134.7 1006.9h48.8v3h-48.8zM135.3 1009.9h49.4v3h-49.4zM133.6 1012.9h51.4v3h-51.4zM133.2 1015.9h52.3v3h-52.3zM133.1 1018.9h53.5v3h-53.5zM133.2 1021.9h51.9v3h-51.9zM132.5 1024.9h53v3h-53zM132.1 1027.9h54.4v3h-54.4zM131.5 1030.9h54.3v3h-54.3zM132.5 1033.9h55.3v3h-55.3zM131.4 1036.9h56v3h-56zM131.7 1039.8h56.3v3h-56.3zM132 1042.8h55.5v3h-55.5zM131.8 1045.8h56.1v3h-56.1zM128.7 1048.8h61.6v3h-61.6zM128.3 1051.8h61.7v3h-61.7zM129.3 1054.8h61.6v3h-61.6zM128.4 1057.8h62v3h-62zM129.5 1060.8h61v3h-61zM128.4 1063.8h62.1v3h-62.1zM128.5 1066.8h61.4v3h-61.4zM128.4 1069.8h61.9v3h-61.9zM127.7 1072.8h63v3h-63zM128.7 1075.8h62v3h-62zM129.2 1078.8h61.9v3h-61.9zM128.9 1081.8h62.2v3h-62.2zM128.8 1084.8h60.9v3h-60.9zM128.9 1087.8h61.5v3h-61.5zM128.9 1090.8h61v3h-61zM128.1 1093.8h63.4v3h-63.4zM128.4 1096.8h64v3h-64z" fill="#ff3614"/>
<path d="M134.8 860h49.6v3h-49.6zM135.3 863h49v3h-49zM134.6 866h49.1v3h-49.1zM136.1 869h47.4v3h-47.4zM133.9 872h50.5v3h-50.5zM135.4 875h48.5v3h-48.5zM133.9 878h50.2v3h-50.2zM136.3 881h49.3v3h-49.3zM134.8 884h49.6v3h-49.6zM134.4 887h50v3h-50zM135.4 890h50.7v3h-50.7zM135.1 893h50.2v3h-50.2zM134.9 896h49.5v3h-49.5zM135.4 899h48.7v3h-48.7zM134.9 902h50.2v3h-50.2zM134.3 905h50v3h-50zM134.8 908h50.1v3h-50.1zM135.5 911h48v3h-48zM134.8 914h47.9v3h-47.9zM135 917h48.9v3h-48.9zM133.9 920h49.7v3h-49.7zM137.1 922.9h45.8v3h-45.8zM135.9 925.9h47.1v3h-47.1zM136.2 928.9h47.1v3h-47.1zM136.5 931.9h47.5v3h-47.5zM135.7 934.9h47.8v3h-47.8zM137.2 937.9h45.7v3h-45.7zM137.3 940.9h45.8v3h-45.8zM138.4 943.9h42.7v3h-42.7zM137.9 946.9h42.5v3h-42.5zM139.6 949.9h41.2v3h-41.2zM138.5 952.9h40.6v3h-40.6zM138.2 955.9h42.7v3h-42.7zM138.9 958.9h41.2v3h-41.2zM138.4 961.9h41.2v3h-41.2zM140.2 964.9h39.1v3h-39.1zM141.4 967.9h37v3h-37zM139.9 970.9h38.5v3h-38.5zM140.9 973.9h36.6v3h-36.6zM139.9 976.9h39.4v3h-39.4zM140.8 979.9h38.3v3h-38.3zM140.8 982.9h37.8v3h-37.8zM139.1 985.9h41.3v3h-41.3zM140.2 988.9h39.2v3h-39.2zM140.9 991.9h36.6v3h-36.6zM141 994.9h38.3v3h-38.3zM139.8 997.9h40.5v3h-40.5zM138.4 1000.9h42.2v3h-42.2zM138.7 1003.9h41.4v3h-41.4zM139.7 1006.9h40.8v3h-40.8zM138.5 1009.9h41.4v3h-41.4zM138.2 1012.9h43.4v3h-43.4zM137.7 1015.9h44.3v3h-44.3zM136.6 1018.9h45.5v3h-45.5zM138.1 1021.9h43.9v3h-43.9zM137.7 1024.9h45v3h-45zM136.7 1027.9h46.4v3h-46.4zM137.5 1030.9h46.3v3h-46.3zM135.4 1033.9h47.3v3h-47.3zM135.8 1036.9h48v3h-48zM135.2 1039.8h48.3v3h-48.3zM135.7 1042.8h47.5v3h-47.5zM135.2 1045.8h48.1v3h-48.1zM133 1048.8h53.6v3h-53.6zM133.3 1051.8h53.7v3h-53.7zM132.3 1054.8h53.6v3h-53.6zM132.7 1057.8h54v3h-54zM132.7 1060.8h53v3h-53zM132.7 1063.8h54.1v3h-54.1zM133.3 1066.8h53.4v3h-53.4zM132.9 1069.8h53.9v3h-53.9zM132.5 1072.8h55v3h-55zM132.5 1075.8h54v3h-54zM132.2 1078.8h53.9v3h-53.9zM132 1081.8h54.2v3h-54.2zM133.6 1084.8h52.9v3h-52.9zM132.8 1087.8h53.5v3h-53.5zM133.3 1090.8h53v3h-53zM131.7 1093.8h55.4v3h-55.4zM130.8 1096.8h56v3h-56z" fill="#ff4614"/>
<path d="M145.7 860h27.7v3h-27.7zM147.5 863h24.1v3h-24.1zM146.7 866h25.9v3h-25.9zM147.2 869h26.1v3h-26.1zM147.4 872h24.2v3h-24.2zM147.2 875h23.1v3h-23.1zM147.3 878h25.1v3h-25.1zM146.7 881h26.1v3h-26.1zM147.5 884h25.4v3h-25.4zM147.1 887h25.3v3h-25.3zM147 890h24.9v3h-24.9zM148.1 893h23.9v3h-23.9zM147.6 896h24.2v3h-24.2zM148 899h22.7v3h-22.7zM148.1 902h23v3h-23zM148.4 905h22.8v3h-22.8zM148 908h23.2v3h-23.2zM147 911h24.6v3h-24.6zM147.6 914h23.9v3h-23.9zM148.9 917h22v3h-22zM148.2 920h22.8v3h-22.8zM149.3 922.9h21.1v3h-21.1zM148.6 925.9h23.1v3h-23.1zM149 928.9h21v3h-21zM150.2 931.9h18.5v3h-18.5zM150.2 934.9h18.8v3h-18.8zM150.4 937.9h18.2v3h-18.2zM150.3 940.9h18.5v3h-18.5zM150.5 943.9h18.3v3h-18.3zM150.9 946.9h17v3h-17zM152.4 949.9h13.9v3h-13.9zM151.8 952.9h15.1v3h-15.1zM154.5 955.9h11v3h-11zM154 958.9h11.1v3h-11.1zM153.6 961.9h11.1v3h-11.1zM156.2 964.9h6.6v3h-6.6zM155.3 967.9h8.3v3h-8.3zM154.8 970.9h9.5v3h-9.5zM156.3 973.9h6.4v3h-6.4zM156.5 976.9h7v3h-7zM157 979.9h6v3h-6zM155.9 982.9h7.9v3h-7.9zM156.2 985.9h6v3h-6zM156.1 988.9h6.1v3h-6.1zM155.6 991.9h8.3v3h-8.3zM154.8 994.9h10.2v3h-10.2zM155.8 997.9h8.3v3h-8.3zM154.3 1000.9h10.7v3h-10.7zM152.9 1003.9h13.6v3h-13.6zM151.2 1006.9h16.1v3h-16.1zM152.4 1009.9h14.2v3h-14.2zM151.9 1012.9h16.3v3h-16.3zM150 1015.9h19v3h-19zM150.9 1018.9h17.7v3h-17.7zM150.1 1021.9h18.7v3h-18.7zM150 1024.9h20v3h-20zM150.2 1027.9h19v3h-19zM149.8 1030.9h19.9v3h-19.9zM149.9 1033.9h20.4v3h-20.4zM147.6 1036.9h23.6v3h-23.6zM148.8 1039.8h22.5v3h-22.5zM147.4 1042.8h24.2v3h-24.2zM148.5 1045.8h23.3v3h-23.3zM147.5 1048.8h24.3v3h-24.3zM148.2 1051.8h23.6v3h-23.6zM147.6 1054.8h23.8v3h-23.8zM146.5 1057.8h26.4v3h-26.4zM146.1 1060.8h26.9v3h-26.9zM146.4 1063.8h26.1v3h-26.1zM146.3 1066.8h26.2v3h-26.2zM147.5 1069.8h25.2v3h-25.2zM145.5 1072.8h27.9v3h-27.9zM145.6 1075.8h27.7v3h-27.7zM144.9 1078.8h29v3h-29zM145.9 1081.8h27.3v3h-27.3zM146.4 1084.8h26.6v3h-26.6zM144.8 1087.8h28.3v3h-28.3zM144.9 1090.8h29.3v3h-29.3zM145.5 1093.8h28.5v3h-28.5zM145.5 1096.8h29.1v3h-29.1z" fill="#ff8a1a"/>
<path d="M149.2 860h20.8v3h-20.8zM150.4 863h18.4v3h-18.4zM150.2 866h18.7v3h-18.7zM149.7 869h19.8v3h-19.8zM150.6 872h18.1v3h-18.1zM151.4 875h16.5v3h-16.5zM150.4 878h18.3v3h-18.3zM149.9 881h19.3v3h-19.3zM150.5 884h18.1v3h-18.1zM150.6 887h18v3h-18zM150.2 890h18.8v3h-18.8zM150.9 893h17.4v3h-17.4zM151.3 896h16.6v3h-16.6zM151.3 899h16.7v3h-16.7zM151.3 902h16.6v3h-16.6zM151.2 905h16.9v3h-16.9zM151.3 908h16.7v3h-16.7zM150.7 911h17.8v3h-17.8zM151.3 914h16.6v3h-16.6zM152 917h15.1v3h-15.1zM150.8 920h17.7v3h-17.7zM152.6 922.9h14.1v3h-14.1zM151.7 925.9h15.9v3h-15.9zM152.2 928.9h14.8v3h-14.8zM153.7 931.9h11.8v3h-11.8zM153.6 934.9h12v3h-12zM154 937.9h11.1v3h-11.1zM154.1 940.9h11v3h-11zM154.2 943.9h10.8v3h-10.8zM154.4 946.9h10.5v3h-10.5zM156.1 949.9h7v3h-7zM155.5 952.9h8.1v3h-8.1zM157.2 955.9h4.8v3h-4.8zM157.4 958.9h4.4v3h-4.4zM157.5 961.9h4.1v3h-4.1zM158.9 997.9h1.5v3h-1.5zM157.5 1000.9h4.1v3h-4.1zM156.2 1003.9h6.8v3h-6.8zM155.1 1006.9h8.9v3h-8.9zM155.7 1009.9h7.9v3h-7.9zM155 1012.9h9.3v3h-9.3zM153.6 1015.9h11.9v3h-11.9zM154 1018.9h11.2v3h-11.2zM154.1 1021.9h11v3h-11zM152.9 1024.9h13.5v3h-13.5zM153.5 1027.9h12.2v3h-12.2zM152.7 1030.9h13.8v3h-13.8zM152.9 1033.9h13.3v3h-13.3zM151.5 1036.9h16.3v3h-16.3zM151.7 1039.8h15.9v3h-15.9zM150.7 1042.8h17.7v3h-17.7zM151.1 1045.8h17.1v3h-17.1zM151.2 1048.8h16.9v3h-16.9zM151.2 1051.8h16.9v3h-16.9zM151.3 1054.8h16.7v3h-16.7zM150 1057.8h19.2v3h-19.2zM149.5 1060.8h20.3v3h-20.3zM149.8 1063.8h19.5v3h-19.5zM150 1066.8h19.2v3h-19.2zM149.9 1069.8h19.3v3h-19.3zM149.1 1072.8h21v3h-21zM149.5 1075.8h20.2v3h-20.2zM148.5 1078.8h22.1v3h-22.1zM149.5 1081.8h20.3v3h-20.3zM149.6 1084.8h20v3h-20zM149 1087.8h21.2v3h-21.2zM148.6 1090.8h22v3h-22zM149 1093.8h21.2v3h-21.2zM148.3 1096.8h22.5v3h-22.5z" fill="#fff830"/>
<path d="M155.2 860h8.9v3h-8.9zM156.3 863h6.6v3h-6.6zM156.1 866h6.9v3h-6.9zM155.5 869h8.1v3h-8.1zM156.4 872h6.4v3h-6.4zM157.1 875h4.9v3h-4.9zM156.2 878h6.8v3h-6.8zM155.6 881h7.9v3h-7.9zM156.2 884h6.8v3h-6.8zM156.2 887h6.9v3h-6.9zM155.7 890h7.8v3h-7.8zM156.6 893h5.9v3h-5.9zM157.3 896h4.6v3h-4.6zM157.5 899h4.3v3h-4.3zM157.7 902h3.8v3h-3.8zM157.8 905h3.7v3h-3.7zM158 908h3.1v3h-3.1zM157.6 911h3.9v3h-3.9zM158.1 1048.8h3v3h-3zM157.9 1051.8h3.4v3h-3.4zM157.8 1054.8h3.5v3h-3.5zM157.6 1057.8h4v3h-4zM156.9 1060.8h5.5v3h-5.5zM157 1063.8h5.2v3h-5.2zM156.9 1066.8h5.3v3h-5.3zM156.6 1069.8h5.9v3h-5.9zM155.9 1072.8h7.5v3h-7.5zM156.3 1075.8h6.5v3h-6.5zM155.4 1078.8h8.3v3h-8.3zM156.4 1081.8h6.4v3h-6.4zM156.6 1084.8h6v3h-6zM156 1087.8h7.2v3h-7.2zM155.7 1090.8h7.8v3h-7.8zM156.1 1093.8h7v3h-7zM155.5 1096.8h8.3v3h-8.3z" fill="#ffff70"/>
</g></g>
<line x1="82.4" y1="863.5" x2="82.4" y2="870" stroke="#fff" stroke-width="1.8" />
<line x1="82.4" y1="1090" x2="82.4" y2="1097.3" stroke="#fff" stroke-width="1.8" />
<line x1="121" y1="863.5" x2="121" y2="870" stroke="#fff" stroke-width="1.8" />
<line x1="121" y1="1090" x2="121" y2="1097.3" stroke="#fff" stroke-width="1.8" />
<line x1="159.6" y1="863.5" x2="159.6" y2="870" stroke="#fff" stroke-width="1.8" />
<line x1="159.6" y1="1090" x2="159.6" y2="1097.3" stroke="#fff" stroke-width="1.8" />
<line x1="198.2" y1="1090" x2="198.2" y2="1097.3" stroke="#fff" stroke-width="1.8" />
<line x1="236.8" y1="1090" x2="236.8" y2="1097.3" stroke="#fff" stroke-width="1.8" />
<line x1="33.5" y1="878.7" x2="42.3" y2="878.7" stroke="#fff" stroke-width="2.2" />
<text x="48.5" y="884" font-size="15" text-anchor="start" fill="#fff" stroke="#fff" stroke-width="0.5" >600</text>
<line x1="33.5" y1="912.7" x2="42.3" y2="912.7" stroke="#fff" stroke-width="2.2" />
<text x="48.5" y="918" font-size="15" text-anchor="start" fill="#fff" stroke="#fff" stroke-width="0.5" >400</text>
<line x1="33.5" y1="946.6" x2="42.3" y2="946.6" stroke="#fff" stroke-width="2.2" />
<text x="48.5" y="951.9" font-size="15" text-anchor="start" fill="#fff" stroke="#fff" stroke-width="0.5" >200</text>
<line x1="33.5" y1="980.5" x2="42.3" y2="980.5" stroke="#fff" stroke-width="2.2" />
<line x1="275" y1="980.5" x2="282.3" y2="980.5" stroke="#fff" stroke-width="2.2" />
<text x="48.5" y="985.8" font-size="15" text-anchor="start" fill="#fff" stroke="#fff" stroke-width="0.5" >0</text>
<line x1="33.5" y1="1014.4" x2="42.3" y2="1014.4" stroke="#fff" stroke-width="2.2" />
<line x1="275" y1="1014.4" x2="282.3" y2="1014.4" stroke="#fff" stroke-width="2.2" />
<text x="48.5" y="1019.7" font-size="15" text-anchor="start" fill="#fff" stroke="#fff" stroke-width="0.5" >-200</text>
<line x1="33.5" y1="1048.3" x2="42.3" y2="1048.3" stroke="#fff" stroke-width="2.2" />
<line x1="275" y1="1048.3" x2="282.3" y2="1048.3" stroke="#fff" stroke-width="2.2" />
<text x="48.5" y="1053.6" font-size="15" text-anchor="start" fill="#fff" stroke="#fff" stroke-width="0.5" >-400</text>
<line x1="33.5" y1="1082.3" x2="42.3" y2="1082.3" stroke="#fff" stroke-width="2.2" />
<line x1="275" y1="1082.3" x2="282.3" y2="1082.3" stroke="#fff" stroke-width="2.2" />
<text x="48.5" y="1087.6" font-size="15" text-anchor="start" fill="#fff" stroke="#fff" stroke-width="0.5" >-600</text>
<rect x="198.3" y="860.4" width="85" height="86" fill="#000" stroke="#a4b0b6" stroke-width="2"/>
<g clip-path="url(#clipDisc)" opacity="0.09"><rect x="203" y="864" width="76" height="76" filter="url(#part)"/></g>
<g filter="url(#bl07)"><g clip-path="url(#clipP)"><rect x="203" y="864" width="76" height="76" fill="#4a5252"/><rect x="203" y="864" width="76" height="76" filter="url(#part)"/></g></g>
<rect x="204.8" y="938.4" width="19" height="3.6" fill="#fff"/>
<rect x="31.8" y="1103.2" width="251.8" height="21.6" fill="url(#cbg)" stroke="#000" stroke-width="1.2"/>
<line x1="91.6" y1="1103.2" x2="91.6" y2="1124.8" stroke="#000" stroke-width="1" />
<text x="91.6" y="1141" font-size="15" text-anchor="middle" fill="#000" stroke="#000" stroke-width="0.5" >0.25</text>
<line x1="149.9" y1="1103.2" x2="149.9" y2="1124.8" stroke="#000" stroke-width="1" />
<text x="149.9" y="1141" font-size="15" text-anchor="middle" fill="#000" stroke="#000" stroke-width="0.5" >0.5</text>
<line x1="208.3" y1="1103.2" x2="208.3" y2="1124.8" stroke="#000" stroke-width="1" />
<text x="208.3" y="1141" font-size="15" text-anchor="middle" fill="#000" stroke="#000" stroke-width="0.5" >0.75</text>
<line x1="266.6" y1="1103.2" x2="266.6" y2="1124.8" stroke="#000" stroke-width="1" />
<text x="266.6" y="1141" font-size="15" text-anchor="middle" fill="#000" stroke="#000" stroke-width="0.5" >1</text></g>
<g id="panelI"><line x1="289.5" y1="861.3" x2="289.5" y2="1098.6" stroke="#000" stroke-width="2" />
<line x1="517.5" y1="861.3" x2="517.5" y2="1098.6" stroke="#000" stroke-width="2" />
<line x1="288.5" y1="861.3" x2="518.5" y2="861.3" stroke="#2f7de0" stroke-width="2" />
<line x1="288.5" y1="1098.6" x2="518.5" y2="1098.6" stroke="#d8380f" stroke-width="2" />
<line x1="289.5" y1="878.7" x2="298.5" y2="878.7" stroke="#000" stroke-width="2" />
<line x1="517.5" y1="878.7" x2="508.5" y2="878.7" stroke="#000" stroke-width="2" />
<line x1="289.5" y1="912.7" x2="298.5" y2="912.7" stroke="#000" stroke-width="2" />
<line x1="517.5" y1="912.7" x2="508.5" y2="912.7" stroke="#000" stroke-width="2" />
<line x1="289.5" y1="946.6" x2="298.5" y2="946.6" stroke="#000" stroke-width="2" />
<line x1="517.5" y1="946.6" x2="508.5" y2="946.6" stroke="#000" stroke-width="2" />
<line x1="289.5" y1="980.5" x2="298.5" y2="980.5" stroke="#000" stroke-width="2" />
<line x1="517.5" y1="980.5" x2="508.5" y2="980.5" stroke="#000" stroke-width="2" />
<line x1="289.5" y1="1014.4" x2="298.5" y2="1014.4" stroke="#000" stroke-width="2" />
<line x1="517.5" y1="1014.4" x2="508.5" y2="1014.4" stroke="#000" stroke-width="2" />
<line x1="289.5" y1="1048.3" x2="298.5" y2="1048.3" stroke="#000" stroke-width="2" />
<line x1="517.5" y1="1048.3" x2="508.5" y2="1048.3" stroke="#000" stroke-width="2" />
<line x1="289.5" y1="1082.3" x2="298.5" y2="1082.3" stroke="#000" stroke-width="2" />
<line x1="517.5" y1="1082.3" x2="508.5" y2="1082.3" stroke="#000" stroke-width="2" />
<line x1="319" y1="861.3" x2="319" y2="870.3" stroke="#2f7de0" stroke-width="1.8" />
<line x1="351.8" y1="861.3" x2="351.8" y2="866.3" stroke="#2f7de0" stroke-width="1.8" />
<line x1="384.5" y1="861.3" x2="384.5" y2="870.3" stroke="#2f7de0" stroke-width="1.8" />
<line x1="417.2" y1="861.3" x2="417.2" y2="866.3" stroke="#2f7de0" stroke-width="1.8" />
<line x1="450" y1="861.3" x2="450" y2="870.3" stroke="#2f7de0" stroke-width="1.8" />
<line x1="482.8" y1="861.3" x2="482.8" y2="866.3" stroke="#2f7de0" stroke-width="1.8" />
<text x="318" y="854" font-size="15" text-anchor="middle" fill="#2f7de0" stroke="#2f7de0" stroke-width="0.5" >0</text>
<text x="383.5" y="854" font-size="15" text-anchor="middle" fill="#2f7de0" stroke="#2f7de0" stroke-width="0.5" >0.04</text>
<text x="449" y="854" font-size="15" text-anchor="middle" fill="#2f7de0" stroke="#2f7de0" stroke-width="0.5" >0.08</text>
<text x="402.5" y="834" font-size="15" text-anchor="middle" fill="#2f7de0" stroke="#2f7de0" stroke-width="0.5" textLength="112.5" lengthAdjust="spacingAndGlyphs" >Relative intensity</text>
<line x1="315" y1="1098.6" x2="315" y2="1093.6" stroke="#d8380f" stroke-width="1.8" />
<line x1="348.8" y1="1098.6" x2="348.8" y2="1089.6" stroke="#d8380f" stroke-width="1.8" />
<line x1="382.5" y1="1098.6" x2="382.5" y2="1093.6" stroke="#d8380f" stroke-width="1.8" />
<line x1="416.2" y1="1098.6" x2="416.2" y2="1089.6" stroke="#d8380f" stroke-width="1.8" />
<line x1="450" y1="1098.6" x2="450" y2="1093.6" stroke="#d8380f" stroke-width="1.8" />
<line x1="483.8" y1="1098.6" x2="483.8" y2="1089.6" stroke="#d8380f" stroke-width="1.8" />
<line x1="517.5" y1="1098.6" x2="517.5" y2="1093.6" stroke="#d8380f" stroke-width="1.8" />
<text x="348.8" y="1118.8" font-size="15" text-anchor="middle" fill="#d8380f" stroke="#d8380f" stroke-width="0.5" >0.8</text>
<text x="416.2" y="1118.8" font-size="15" text-anchor="middle" fill="#d8380f" stroke="#d8380f" stroke-width="0.5" >0.9</text>
<text x="483.8" y="1118.8" font-size="15" text-anchor="middle" fill="#d8380f" stroke="#d8380f" stroke-width="0.5" >1</text>
<text x="403.3" y="1138" font-size="15" text-anchor="middle" fill="#d8380f" stroke="#d8380f" stroke-width="0.5" textLength="112.5" lengthAdjust="spacingAndGlyphs" >Relative intensity</text>
<text x="288.7" y="835" font-size="16.5" text-anchor="start" fill="#000" font-weight="bold" >(i)</text>
<clipPath id="clipI"><rect x="290.5" y="862.3" width="226" height="235.3"/></clipPath><g clip-path="url(#clipI)">
<path d="M298.3 864a1.55 1.55 0 1 0 3.1 0a1.55 1.55 0 1 0 -3.1 0M333.1 866.6a1.55 1.55 0 1 0 3.1 0a1.55 1.55 0 1 0 -3.1 0M308.9 868.7a1.55 1.55 0 1 0 3.1 0a1.55 1.55 0 1 0 -3.1 0M324.7 872.2a1.55 1.55 0 1 0 3.1 0a1.55 1.55 0 1 0 -3.1 0M315 874.4a1.55 1.55 0 1 0 3.1 0a1.55 1.55 0 1 0 -3.1 0M319 877.5a1.55 1.55 0 1 0 3.1 0a1.55 1.55 0 1 0 -3.1 0M316.7 880.4a1.55 1.55 0 1 0 3.1 0a1.55 1.55 0 1 0 -3.1 0M311.8 882.9a1.55 1.55 0 1 0 3.1 0a1.55 1.55 0 1 0 -3.1 0M312.6 885.7a1.55 1.55 0 1 0 3.1 0a1.55 1.55 0 1 0 -3.1 0M327.4 888.2a1.55 1.55 0 1 0 3.1 0a1.55 1.55 0 1 0 -3.1 0M314.5 891a1.55 1.55 0 1 0 3.1 0a1.55 1.55 0 1 0 -3.1 0M318.9 893.8a1.55 1.55 0 1 0 3.1 0a1.55 1.55 0 1 0 -3.1 0M301.6 896.6a1.55 1.55 0 1 0 3.1 0a1.55 1.55 0 1 0 -3.1 0M325.2 898.8a1.55 1.55 0 1 0 3.1 0a1.55 1.55 0 1 0 -3.1 0M326.1 902.2a1.55 1.55 0 1 0 3.1 0a1.55 1.55 0 1 0 -3.1 0M314.5 905.3a1.55 1.55 0 1 0 3.1 0a1.55 1.55 0 1 0 -3.1 0M333.9 907.8a1.55 1.55 0 1 0 3.1 0a1.55 1.55 0 1 0 -3.1 0M333.6 911.2a1.55 1.55 0 1 0 3.1 0a1.55 1.55 0 1 0 -3.1 0M336.6 913.7a1.55 1.55 0 1 0 3.1 0a1.55 1.55 0 1 0 -3.1 0M333.8 915.6a1.55 1.55 0 1 0 3.1 0a1.55 1.55 0 1 0 -3.1 0M322.8 919.5a1.55 1.55 0 1 0 3.1 0a1.55 1.55 0 1 0 -3.1 0M326.7 921.1a1.55 1.55 0 1 0 3.1 0a1.55 1.55 0 1 0 -3.1 0M317.8 923.7a1.55 1.55 0 1 0 3.1 0a1.55 1.55 0 1 0 -3.1 0M330.4 926.9a1.55 1.55 0 1 0 3.1 0a1.55 1.55 0 1 0 -3.1 0M332.9 930.6a1.55 1.55 0 1 0 3.1 0a1.55 1.55 0 1 0 -3.1 0M339.1 932.4a1.55 1.55 0 1 0 3.1 0a1.55 1.55 0 1 0 -3.1 0M342.1 935.5a1.55 1.55 0 1 0 3.1 0a1.55 1.55 0 1 0 -3.1 0M352.8 939a1.55 1.55 0 1 0 3.1 0a1.55 1.55 0 1 0 -3.1 0M360.6 941.1a1.55 1.55 0 1 0 3.1 0a1.55 1.55 0 1 0 -3.1 0M367.2 943.6a1.55 1.55 0 1 0 3.1 0a1.55 1.55 0 1 0 -3.1 0M373.3 946.1a1.55 1.55 0 1 0 3.1 0a1.55 1.55 0 1 0 -3.1 0M383.4 950.1a1.55 1.55 0 1 0 3.1 0a1.55 1.55 0 1 0 -3.1 0M385.2 951.6a1.55 1.55 0 1 0 3.1 0a1.55 1.55 0 1 0 -3.1 0M411.8 955.4a1.55 1.55 0 1 0 3.1 0a1.55 1.55 0 1 0 -3.1 0M422 957.9a1.55 1.55 0 1 0 3.1 0a1.55 1.55 0 1 0 -3.1 0M432.3 960.3a1.55 1.55 0 1 0 3.1 0a1.55 1.55 0 1 0 -3.1 0M438.4 963.4a1.55 1.55 0 1 0 3.1 0a1.55 1.55 0 1 0 -3.1 0M465.4 966.7a1.55 1.55 0 1 0 3.1 0a1.55 1.55 0 1 0 -3.1 0M472.2 969a1.55 1.55 0 1 0 3.1 0a1.55 1.55 0 1 0 -3.1 0M474 971.4a1.55 1.55 0 1 0 3.1 0a1.55 1.55 0 1 0 -3.1 0M481.4 975.2a1.55 1.55 0 1 0 3.1 0a1.55 1.55 0 1 0 -3.1 0M485.3 977.3a1.55 1.55 0 1 0 3.1 0a1.55 1.55 0 1 0 -3.1 0M499.7 979.9a1.55 1.55 0 1 0 3.1 0a1.55 1.55 0 1 0 -3.1 0M497.5 982.2a1.55 1.55 0 1 0 3.1 0a1.55 1.55 0 1 0 -3.1 0M498.2 986a1.55 1.55 0 1 0 3.1 0a1.55 1.55 0 1 0 -3.1 0M491.6 987.9a1.55 1.55 0 1 0 3.1 0a1.55 1.55 0 1 0 -3.1 0M486.9 991.2a1.55 1.55 0 1 0 3.1 0a1.55 1.55 0 1 0 -3.1 0M490.5 994.1a1.55 1.55 0 1 0 3.1 0a1.55 1.55 0 1 0 -3.1 0M486.7 995.9a1.55 1.55 0 1 0 3.1 0a1.55 1.55 0 1 0 -3.1 0M475 998.8a1.55 1.55 0 1 0 3.1 0a1.55 1.55 0 1 0 -3.1 0M464 1002.2a1.55 1.55 0 1 0 3.1 0a1.55 1.55 0 1 0 -3.1 0M455.8 1005.6a1.55 1.55 0 1 0 3.1 0a1.55 1.55 0 1 0 -3.1 0M446.1 1008a1.55 1.55 0 1 0 3.1 0a1.55 1.55 0 1 0 -3.1 0M440.3 1009.7a1.55 1.55 0 1 0 3.1 0a1.55 1.55 0 1 0 -3.1 0M424.2 1012.6a1.55 1.55 0 1 0 3.1 0a1.55 1.55 0 1 0 -3.1 0M411.5 1015.8a1.55 1.55 0 1 0 3.1 0a1.55 1.55 0 1 0 -3.1 0M403 1019a1.55 1.55 0 1 0 3.1 0a1.55 1.55 0 1 0 -3.1 0M386.1 1021.1a1.55 1.55 0 1 0 3.1 0a1.55 1.55 0 1 0 -3.1 0M376.3 1023.8a1.55 1.55 0 1 0 3.1 0a1.55 1.55 0 1 0 -3.1 0M366.1 1027.9a1.55 1.55 0 1 0 3.1 0a1.55 1.55 0 1 0 -3.1 0M364 1029.3a1.55 1.55 0 1 0 3.1 0a1.55 1.55 0 1 0 -3.1 0M356.7 1032.9a1.55 1.55 0 1 0 3.1 0a1.55 1.55 0 1 0 -3.1 0M341.3 1035.3a1.55 1.55 0 1 0 3.1 0a1.55 1.55 0 1 0 -3.1 0M346.8 1037.9a1.55 1.55 0 1 0 3.1 0a1.55 1.55 0 1 0 -3.1 0M335.9 1041.2a1.55 1.55 0 1 0 3.1 0a1.55 1.55 0 1 0 -3.1 0M329.3 1043.6a1.55 1.55 0 1 0 3.1 0a1.55 1.55 0 1 0 -3.1 0M318.2 1047.3a1.55 1.55 0 1 0 3.1 0a1.55 1.55 0 1 0 -3.1 0M328.7 1049a1.55 1.55 0 1 0 3.1 0a1.55 1.55 0 1 0 -3.1 0M305.5 1052a1.55 1.55 0 1 0 3.1 0a1.55 1.55 0 1 0 -3.1 0M329.1 1054.2a1.55 1.55 0 1 0 3.1 0a1.55 1.55 0 1 0 -3.1 0M324.7 1058.4a1.55 1.55 0 1 0 3.1 0a1.55 1.55 0 1 0 -3.1 0M325.1 1060.5a1.55 1.55 0 1 0 3.1 0a1.55 1.55 0 1 0 -3.1 0M315.1 1063.8a1.55 1.55 0 1 0 3.1 0a1.55 1.55 0 1 0 -3.1 0M332.9 1065.3a1.55 1.55 0 1 0 3.1 0a1.55 1.55 0 1 0 -3.1 0M305.4 1068a1.55 1.55 0 1 0 3.1 0a1.55 1.55 0 1 0 -3.1 0M296 1072a1.55 1.55 0 1 0 3.1 0a1.55 1.55 0 1 0 -3.1 0M318.9 1073.9a1.55 1.55 0 1 0 3.1 0a1.55 1.55 0 1 0 -3.1 0M316.8 1076.9a1.55 1.55 0 1 0 3.1 0a1.55 1.55 0 1 0 -3.1 0M289.6 1080.3a1.55 1.55 0 1 0 3.1 0a1.55 1.55 0 1 0 -3.1 0M312.7 1083.2a1.55 1.55 0 1 0 3.1 0a1.55 1.55 0 1 0 -3.1 0M278.5 1085.1a1.55 1.55 0 1 0 3.1 0a1.55 1.55 0 1 0 -3.1 0M324.3 1088.9a1.55 1.55 0 1 0 3.1 0a1.55 1.55 0 1 0 -3.1 0M328 1091.4a1.55 1.55 0 1 0 3.1 0a1.55 1.55 0 1 0 -3.1 0M312.6 1094.4a1.55 1.55 0 1 0 3.1 0a1.55 1.55 0 1 0 -3.1 0M323.6 1096.8a1.55 1.55 0 1 0 3.1 0a1.55 1.55 0 1 0 -3.1 0" fill="#2f7de0"/>
<path d="M492.2 863.6a1.55 1.55 0 1 0 3.1 0a1.55 1.55 0 1 0 -3.1 0M480.8 866.3a1.55 1.55 0 1 0 3.1 0a1.55 1.55 0 1 0 -3.1 0M488.1 868.6a1.55 1.55 0 1 0 3.1 0a1.55 1.55 0 1 0 -3.1 0M474.5 871.1a1.55 1.55 0 1 0 3.1 0a1.55 1.55 0 1 0 -3.1 0M479.8 873.3a1.55 1.55 0 1 0 3.1 0a1.55 1.55 0 1 0 -3.1 0M487.7 875.9a1.55 1.55 0 1 0 3.1 0a1.55 1.55 0 1 0 -3.1 0M486.1 877.5a1.55 1.55 0 1 0 3.1 0a1.55 1.55 0 1 0 -3.1 0M479.1 879.9a1.55 1.55 0 1 0 3.1 0a1.55 1.55 0 1 0 -3.1 0M489 882.5a1.55 1.55 0 1 0 3.1 0a1.55 1.55 0 1 0 -3.1 0M477.8 885.1a1.55 1.55 0 1 0 3.1 0a1.55 1.55 0 1 0 -3.1 0M494.5 887.4a1.55 1.55 0 1 0 3.1 0a1.55 1.55 0 1 0 -3.1 0M484.2 890.8a1.55 1.55 0 1 0 3.1 0a1.55 1.55 0 1 0 -3.1 0M479.8 893.4a1.55 1.55 0 1 0 3.1 0a1.55 1.55 0 1 0 -3.1 0M476.2 895.7a1.55 1.55 0 1 0 3.1 0a1.55 1.55 0 1 0 -3.1 0M485.8 897.8a1.55 1.55 0 1 0 3.1 0a1.55 1.55 0 1 0 -3.1 0M462.5 901.2a1.55 1.55 0 1 0 3.1 0a1.55 1.55 0 1 0 -3.1 0M490.6 902.3a1.55 1.55 0 1 0 3.1 0a1.55 1.55 0 1 0 -3.1 0M460.3 906.2a1.55 1.55 0 1 0 3.1 0a1.55 1.55 0 1 0 -3.1 0M475.5 907.3a1.55 1.55 0 1 0 3.1 0a1.55 1.55 0 1 0 -3.1 0M476.7 909.7a1.55 1.55 0 1 0 3.1 0a1.55 1.55 0 1 0 -3.1 0M473.8 913.5a1.55 1.55 0 1 0 3.1 0a1.55 1.55 0 1 0 -3.1 0M454.4 915.9a1.55 1.55 0 1 0 3.1 0a1.55 1.55 0 1 0 -3.1 0M463 918.1a1.55 1.55 0 1 0 3.1 0a1.55 1.55 0 1 0 -3.1 0M462.8 919.7a1.55 1.55 0 1 0 3.1 0a1.55 1.55 0 1 0 -3.1 0M456.1 923.3a1.55 1.55 0 1 0 3.1 0a1.55 1.55 0 1 0 -3.1 0M454.8 925.2a1.55 1.55 0 1 0 3.1 0a1.55 1.55 0 1 0 -3.1 0M447.4 927.1a1.55 1.55 0 1 0 3.1 0a1.55 1.55 0 1 0 -3.1 0M442.4 930.7a1.55 1.55 0 1 0 3.1 0a1.55 1.55 0 1 0 -3.1 0M429.7 932.6a1.55 1.55 0 1 0 3.1 0a1.55 1.55 0 1 0 -3.1 0M435.9 935.3a1.55 1.55 0 1 0 3.1 0a1.55 1.55 0 1 0 -3.1 0M416.6 938.3a1.55 1.55 0 1 0 3.1 0a1.55 1.55 0 1 0 -3.1 0M410.9 940.1a1.55 1.55 0 1 0 3.1 0a1.55 1.55 0 1 0 -3.1 0M403.6 942.6a1.55 1.55 0 1 0 3.1 0a1.55 1.55 0 1 0 -3.1 0M389.2 945.5a1.55 1.55 0 1 0 3.1 0a1.55 1.55 0 1 0 -3.1 0M386.5 947.7a1.55 1.55 0 1 0 3.1 0a1.55 1.55 0 1 0 -3.1 0M386.2 949.5a1.55 1.55 0 1 0 3.1 0a1.55 1.55 0 1 0 -3.1 0M365.4 953.2a1.55 1.55 0 1 0 3.1 0a1.55 1.55 0 1 0 -3.1 0M360.2 954.7a1.55 1.55 0 1 0 3.1 0a1.55 1.55 0 1 0 -3.1 0M348.9 958a1.55 1.55 0 1 0 3.1 0a1.55 1.55 0 1 0 -3.1 0M341.9 960.1a1.55 1.55 0 1 0 3.1 0a1.55 1.55 0 1 0 -3.1 0M335.4 962.6a1.55 1.55 0 1 0 3.1 0a1.55 1.55 0 1 0 -3.1 0M325.7 965a1.55 1.55 0 1 0 3.1 0a1.55 1.55 0 1 0 -3.1 0M324.5 967.3a1.55 1.55 0 1 0 3.1 0a1.55 1.55 0 1 0 -3.1 0M314.1 970.7a1.55 1.55 0 1 0 3.1 0a1.55 1.55 0 1 0 -3.1 0M316.3 972.2a1.55 1.55 0 1 0 3.1 0a1.55 1.55 0 1 0 -3.1 0M318.4 975a1.55 1.55 0 1 0 3.1 0a1.55 1.55 0 1 0 -3.1 0M310.5 976.8a1.55 1.55 0 1 0 3.1 0a1.55 1.55 0 1 0 -3.1 0M310.8 980.4a1.55 1.55 0 1 0 3.1 0a1.55 1.55 0 1 0 -3.1 0M315.1 982.7a1.55 1.55 0 1 0 3.1 0a1.55 1.55 0 1 0 -3.1 0M310.7 984.7a1.55 1.55 0 1 0 3.1 0a1.55 1.55 0 1 0 -3.1 0M313.6 987.2a1.55 1.55 0 1 0 3.1 0a1.55 1.55 0 1 0 -3.1 0M329.4 989.2a1.55 1.55 0 1 0 3.1 0a1.55 1.55 0 1 0 -3.1 0M336.3 993a1.55 1.55 0 1 0 3.1 0a1.55 1.55 0 1 0 -3.1 0M338.3 994.5a1.55 1.55 0 1 0 3.1 0a1.55 1.55 0 1 0 -3.1 0M344.9 998a1.55 1.55 0 1 0 3.1 0a1.55 1.55 0 1 0 -3.1 0M357 1000.4a1.55 1.55 0 1 0 3.1 0a1.55 1.55 0 1 0 -3.1 0M357.3 1001.9a1.55 1.55 0 1 0 3.1 0a1.55 1.55 0 1 0 -3.1 0M375.2 1005.2a1.55 1.55 0 1 0 3.1 0a1.55 1.55 0 1 0 -3.1 0M380.8 1007.7a1.55 1.55 0 1 0 3.1 0a1.55 1.55 0 1 0 -3.1 0M386.6 1009.5a1.55 1.55 0 1 0 3.1 0a1.55 1.55 0 1 0 -3.1 0M400.6 1011.7a1.55 1.55 0 1 0 3.1 0a1.55 1.55 0 1 0 -3.1 0M404.2 1015.1a1.55 1.55 0 1 0 3.1 0a1.55 1.55 0 1 0 -3.1 0M407.9 1016.7a1.55 1.55 0 1 0 3.1 0a1.55 1.55 0 1 0 -3.1 0M426.7 1019.8a1.55 1.55 0 1 0 3.1 0a1.55 1.55 0 1 0 -3.1 0M421.1 1021.5a1.55 1.55 0 1 0 3.1 0a1.55 1.55 0 1 0 -3.1 0M438.4 1024.2a1.55 1.55 0 1 0 3.1 0a1.55 1.55 0 1 0 -3.1 0M440.5 1026.6a1.55 1.55 0 1 0 3.1 0a1.55 1.55 0 1 0 -3.1 0M456.2 1030.1a1.55 1.55 0 1 0 3.1 0a1.55 1.55 0 1 0 -3.1 0M454.7 1031.5a1.55 1.55 0 1 0 3.1 0a1.55 1.55 0 1 0 -3.1 0M460.5 1034.3a1.55 1.55 0 1 0 3.1 0a1.55 1.55 0 1 0 -3.1 0M464.2 1037.1a1.55 1.55 0 1 0 3.1 0a1.55 1.55 0 1 0 -3.1 0M468 1039a1.55 1.55 0 1 0 3.1 0a1.55 1.55 0 1 0 -3.1 0M469.1 1042.8a1.55 1.55 0 1 0 3.1 0a1.55 1.55 0 1 0 -3.1 0M467.5 1045.2a1.55 1.55 0 1 0 3.1 0a1.55 1.55 0 1 0 -3.1 0M453.3 1046.3a1.55 1.55 0 1 0 3.1 0a1.55 1.55 0 1 0 -3.1 0M492.4 1049.9a1.55 1.55 0 1 0 3.1 0a1.55 1.55 0 1 0 -3.1 0M471.1 1052.3a1.55 1.55 0 1 0 3.1 0a1.55 1.55 0 1 0 -3.1 0M480 1054.6a1.55 1.55 0 1 0 3.1 0a1.55 1.55 0 1 0 -3.1 0M480.7 1056.3a1.55 1.55 0 1 0 3.1 0a1.55 1.55 0 1 0 -3.1 0M487.7 1058.6a1.55 1.55 0 1 0 3.1 0a1.55 1.55 0 1 0 -3.1 0M483.5 1061.7a1.55 1.55 0 1 0 3.1 0a1.55 1.55 0 1 0 -3.1 0M467.1 1064.3a1.55 1.55 0 1 0 3.1 0a1.55 1.55 0 1 0 -3.1 0M476.1 1067a1.55 1.55 0 1 0 3.1 0a1.55 1.55 0 1 0 -3.1 0M482.4 1069.5a1.55 1.55 0 1 0 3.1 0a1.55 1.55 0 1 0 -3.1 0M480.3 1071.6a1.55 1.55 0 1 0 3.1 0a1.55 1.55 0 1 0 -3.1 0M462 1074.2a1.55 1.55 0 1 0 3.1 0a1.55 1.55 0 1 0 -3.1 0M481.7 1076.9a1.55 1.55 0 1 0 3.1 0a1.55 1.55 0 1 0 -3.1 0M472.5 1078.8a1.55 1.55 0 1 0 3.1 0a1.55 1.55 0 1 0 -3.1 0M493.3 1082.1a1.55 1.55 0 1 0 3.1 0a1.55 1.55 0 1 0 -3.1 0M471.4 1084.5a1.55 1.55 0 1 0 3.1 0a1.55 1.55 0 1 0 -3.1 0M476.6 1087.2a1.55 1.55 0 1 0 3.1 0a1.55 1.55 0 1 0 -3.1 0M470.5 1089.1a1.55 1.55 0 1 0 3.1 0a1.55 1.55 0 1 0 -3.1 0M479.3 1091.3a1.55 1.55 0 1 0 3.1 0a1.55 1.55 0 1 0 -3.1 0M479.2 1094a1.55 1.55 0 1 0 3.1 0a1.55 1.55 0 1 0 -3.1 0M479.3 1097.1a1.55 1.55 0 1 0 3.1 0a1.55 1.55 0 1 0 -3.1 0M408.4 884a1.55 1.55 0 1 0 3.1 0a1.55 1.55 0 1 0 -3.1 0M442.4 869a1.55 1.55 0 1 0 3.1 0a1.55 1.55 0 1 0 -3.1 0M466.4 1070a1.55 1.55 0 1 0 3.1 0a1.55 1.55 0 1 0 -3.1 0M493.4 1047a1.55 1.55 0 1 0 3.1 0a1.55 1.55 0 1 0 -3.1 0" fill="#d8380f"/>
<path d="M318 861.3 L318 862.3 L318 863.3 L318 864.3 L318 865.3 L318 866.3 L318 867.3 L318 868.3 L318 869.3 L318 870.3 L318 871.3 L318 872.3 L318 873.3 L318 874.3 L318 875.3 L318 876.3 L318 877.3 L318 878.3 L318 879.3 L318 880.3 L318.1 881.3 L318.1 882.3 L318.1 883.3 L318.1 884.3 L318.1 885.3 L318.1 886.3 L318.1 887.3 L318.2 888.3 L318.2 889.3 L318.2 890.3 L318.2 891.3 L318.3 892.3 L318.3 893.3 L318.4 894.3 L318.4 895.3 L318.5 896.3 L318.5 897.3 L318.6 898.3 L318.7 899.3 L318.8 900.3 L318.9 901.3 L319 902.3 L319.2 903.3 L319.3 904.3 L319.5 905.3 L319.7 906.3 L319.9 907.3 L320.1 908.3 L320.3 909.3 L320.6 910.3 L320.9 911.3 L321.3 912.3 L321.6 913.3 L322.1 914.3 L322.5 915.3 L323 916.3 L323.5 917.3 L324.1 918.3 L324.8 919.3 L325.5 920.3 L326.2 921.3 L327.1 922.3 L327.9 923.3 L328.9 924.3 L329.9 925.3 L331.1 926.3 L332.3 927.3 L333.5 928.3 L334.9 929.3 L336.4 930.3 L338 931.3 L339.6 932.3 L341.4 933.3 L343.3 934.3 L345.3 935.3 L347.4 936.3 L349.6 937.3 L352 938.3 L354.4 939.3 L357 940.3 L359.7 941.3 L362.5 942.3 L365.5 943.3 L368.5 944.3 L371.7 945.3 L375 946.3 L378.4 947.3 L382 948.3 L385.6 949.3 L389.3 950.3 L393.1 951.3 L397 952.3 L401 953.3 L405.1 954.3 L409.2 955.3 L413.4 956.3 L417.6 957.3 L421.8 958.3 L426.1 959.3 L430.4 960.3 L434.6 961.3 L438.9 962.3 L443.1 963.3 L447.3 964.3 L451.4 965.3 L455.5 966.3 L459.4 967.3 L463.3 968.3 L467 969.3 L470.6 970.3 L474.1 971.3 L477.4 972.3 L480.6 973.3 L483.5 974.3 L486.3 975.3 L488.8 976.3 L491.2 977.3 L493.3 978.3 L495.1 979.3 L496.7 980.3 L498.1 981.3 L499.2 982.3 L500.1 983.3 L500.6 984.3 L500.9 985.3 L501 986.3 L500.7 987.3 L500.2 988.3 L499.5 989.3 L498.4 990.3 L497.1 991.3 L495.6 992.3 L493.8 993.3 L491.7 994.3 L489.4 995.3 L486.9 996.3 L484.2 997.3 L481.3 998.3 L478.2 999.3 L475 1000.3 L471.5 1001.3 L468 1002.3 L464.3 1003.3 L460.4 1004.3 L456.5 1005.3 L452.5 1006.3 L448.4 1007.3 L444.2 1008.3 L440 1009.3 L435.7 1010.3 L431.5 1011.3 L427.2 1012.3 L422.9 1013.3 L418.7 1014.3 L414.4 1015.3 L410.2 1016.3 L406.1 1017.3 L402 1018.3 L398 1019.3 L394.1 1020.3 L390.3 1021.3 L386.5 1022.3 L382.9 1023.3 L379.3 1024.3 L375.9 1025.3 L372.6 1026.3 L369.3 1027.3 L366.2 1028.3 L363.3 1029.3 L360.4 1030.3 L357.7 1031.3 L355.1 1032.3 L352.6 1033.3 L350.2 1034.3 L347.9 1035.3 L345.8 1036.3 L343.8 1037.3 L341.9 1038.3 L340.1 1039.3 L338.4 1040.3 L336.8 1041.3 L335.3 1042.3 L333.9 1043.3 L332.6 1044.3 L331.4 1045.3 L330.2 1046.3 L329.2 1047.3 L328.2 1048.3 L327.3 1049.3 L326.4 1050.3 L325.7 1051.3 L324.9 1052.3 L324.3 1053.3 L323.7 1054.3 L323.1 1055.3 L322.6 1056.3 L322.2 1057.3 L321.7 1058.3 L321.4 1059.3 L321 1060.3 L320.7 1061.3 L320.4 1062.3 L320.1 1063.3 L319.9 1064.3 L319.7 1065.3 L319.5 1066.3 L319.3 1067.3 L319.2 1068.3 L319 1069.3 L318.9 1070.3 L318.8 1071.3 L318.7 1072.3 L318.6 1073.3 L318.6 1074.3 L318.5 1075.3 L318.4 1076.3 L318.4 1077.3 L318.3 1078.3 L318.3 1079.3 L318.2 1080.3 L318.2 1081.3 L318.2 1082.3 L318.2 1083.3 L318.1 1084.3 L318.1 1085.3 L318.1 1086.3 L318.1 1087.3 L318.1 1088.3 L318.1 1089.3 L318.1 1090.3 L318 1091.3 L318 1092.3 L318 1093.3 L318 1094.3 L318 1095.3 L318 1096.3 L318 1097.3 L318 1098.3" stroke="#2f7de0" stroke-width="2.3" fill="none" stroke-linejoin="round" stroke-linecap="round" />
<path d="M483.7 861.3 L483.7 862.3 L483.7 863.3 L483.7 864.3 L483.7 865.3 L483.7 866.3 L483.7 867.3 L483.6 868.3 L483.6 869.3 L483.6 870.3 L483.6 871.3 L483.6 872.3 L483.5 873.3 L483.5 874.3 L483.5 875.3 L483.5 876.3 L483.4 877.3 L483.4 878.3 L483.3 879.3 L483.3 880.3 L483.2 881.3 L483.1 882.3 L483.1 883.3 L483 884.3 L482.9 885.3 L482.8 886.3 L482.7 887.3 L482.5 888.3 L482.4 889.3 L482.2 890.3 L482.1 891.3 L481.9 892.3 L481.7 893.3 L481.5 894.3 L481.2 895.3 L480.9 896.3 L480.6 897.3 L480.3 898.3 L480 899.3 L479.6 900.3 L479.2 901.3 L478.7 902.3 L478.2 903.3 L477.7 904.3 L477.1 905.3 L476.5 906.3 L475.9 907.3 L475.1 908.3 L474.4 909.3 L473.6 910.3 L472.7 911.3 L471.7 912.3 L470.7 913.3 L469.7 914.3 L468.5 915.3 L467.3 916.3 L466 917.3 L464.7 918.3 L463.2 919.3 L461.7 920.3 L460.1 921.3 L458.4 922.3 L456.6 923.3 L454.8 924.3 L452.8 925.3 L450.7 926.3 L448.6 927.3 L446.4 928.3 L444 929.3 L441.6 930.3 L439.1 931.3 L436.5 932.3 L433.7 933.3 L431 934.3 L428.1 935.3 L425.1 936.3 L422.1 937.3 L418.9 938.3 L415.7 939.3 L412.5 940.3 L409.1 941.3 L405.7 942.3 L402.3 943.3 L398.8 944.3 L395.2 945.3 L391.6 946.3 L388 947.3 L384.4 948.3 L380.8 949.3 L377.1 950.3 L373.5 951.3 L369.9 952.3 L366.3 953.3 L362.8 954.3 L359.3 955.3 L355.8 956.3 L352.5 957.3 L349.2 958.3 L345.9 959.3 L342.8 960.3 L339.8 961.3 L336.9 962.3 L334.2 963.3 L331.5 964.3 L329 965.3 L326.7 966.3 L324.5 967.3 L322.5 968.3 L320.7 969.3 L319.1 970.3 L317.6 971.3 L316.3 972.3 L315.3 973.3 L314.4 974.3 L313.7 975.3 L313.3 976.3 L313 977.3 L313 978.3 L313.2 979.3 L313.6 980.3 L314.2 981.3 L315 982.3 L316 983.3 L317.2 984.3 L318.6 985.3 L320.2 986.3 L321.9 987.3 L323.9 988.3 L326 989.3 L328.3 990.3 L330.7 991.3 L333.3 992.3 L336 993.3 L338.9 994.3 L341.9 995.3 L345 996.3 L348.1 997.3 L351.4 998.3 L354.8 999.3 L358.2 1000.3 L361.7 1001.3 L365.2 1002.3 L368.8 1003.3 L372.4 1004.3 L376 1005.3 L379.6 1006.3 L383.3 1007.3 L386.9 1008.3 L390.5 1009.3 L394.1 1010.3 L397.7 1011.3 L401.2 1012.3 L404.6 1013.3 L408.1 1014.3 L411.4 1015.3 L414.7 1016.3 L417.9 1017.3 L421.1 1018.3 L424.2 1019.3 L427.2 1020.3 L430.1 1021.3 L432.9 1022.3 L435.6 1023.3 L438.3 1024.3 L440.8 1025.3 L443.3 1026.3 L445.6 1027.3 L447.9 1028.3 L450.1 1029.3 L452.2 1030.3 L454.2 1031.3 L456.1 1032.3 L457.9 1033.3 L459.6 1034.3 L461.2 1035.3 L462.8 1036.3 L464.2 1037.3 L465.6 1038.3 L466.9 1039.3 L468.2 1040.3 L469.3 1041.3 L470.4 1042.3 L471.4 1043.3 L472.4 1044.3 L473.3 1045.3 L474.1 1046.3 L474.9 1047.3 L475.6 1048.3 L476.3 1049.3 L477 1050.3 L477.5 1051.3 L478.1 1052.3 L478.6 1053.3 L479 1054.3 L479.5 1055.3 L479.9 1056.3 L480.2 1057.3 L480.5 1058.3 L480.8 1059.3 L481.1 1060.3 L481.4 1061.3 L481.6 1062.3 L481.8 1063.3 L482 1064.3 L482.2 1065.3 L482.4 1066.3 L482.5 1067.3 L482.6 1068.3 L482.7 1069.3 L482.9 1070.3 L483 1071.3 L483 1072.3 L483.1 1073.3 L483.2 1074.3 L483.3 1075.3 L483.3 1076.3 L483.4 1077.3 L483.4 1078.3 L483.4 1079.3 L483.5 1080.3 L483.5 1081.3 L483.5 1082.3 L483.6 1083.3 L483.6 1084.3 L483.6 1085.3 L483.6 1086.3 L483.6 1087.3 L483.7 1088.3 L483.7 1089.3 L483.7 1090.3 L483.7 1091.3 L483.7 1092.3 L483.7 1093.3 L483.7 1094.3 L483.7 1095.3 L483.7 1096.3 L483.7 1097.3 L483.7 1098.3" stroke="#d8380f" stroke-width="2.3" fill="none" stroke-linejoin="round" stroke-linecap="round" />
</g>
<line x1="400.2" y1="959" x2="400.2" y2="1006" stroke="#d8380f" stroke-width="1.8" />
<path d="M400.2 953 L403.4 960.5 L397 960.5 Z" fill="#d8380f"/>
<path d="M400.2 1011.5 L397 1004 L403.4 1004 Z" fill="#d8380f"/>
<text x="352.8" y="982.5" font-size="14.5" text-anchor="start" fill="#d8380f" font-weight="bold" textLength="43" lengthAdjust="spacingAndGlyphs" >360 fs</text>
<text x="350.5" y="893.5" font-size="14.5" text-anchor="start" fill="#2f7de0" font-weight="bold" textLength="53" lengthAdjust="spacingAndGlyphs" >+2.4 eV</text>
<text x="433" y="1078.7" font-size="14.5" text-anchor="start" fill="#d8380f" font-weight="bold" textLength="30.5" lengthAdjust="spacingAndGlyphs" >0 eV</text></g>
</svg>
</body></html>
